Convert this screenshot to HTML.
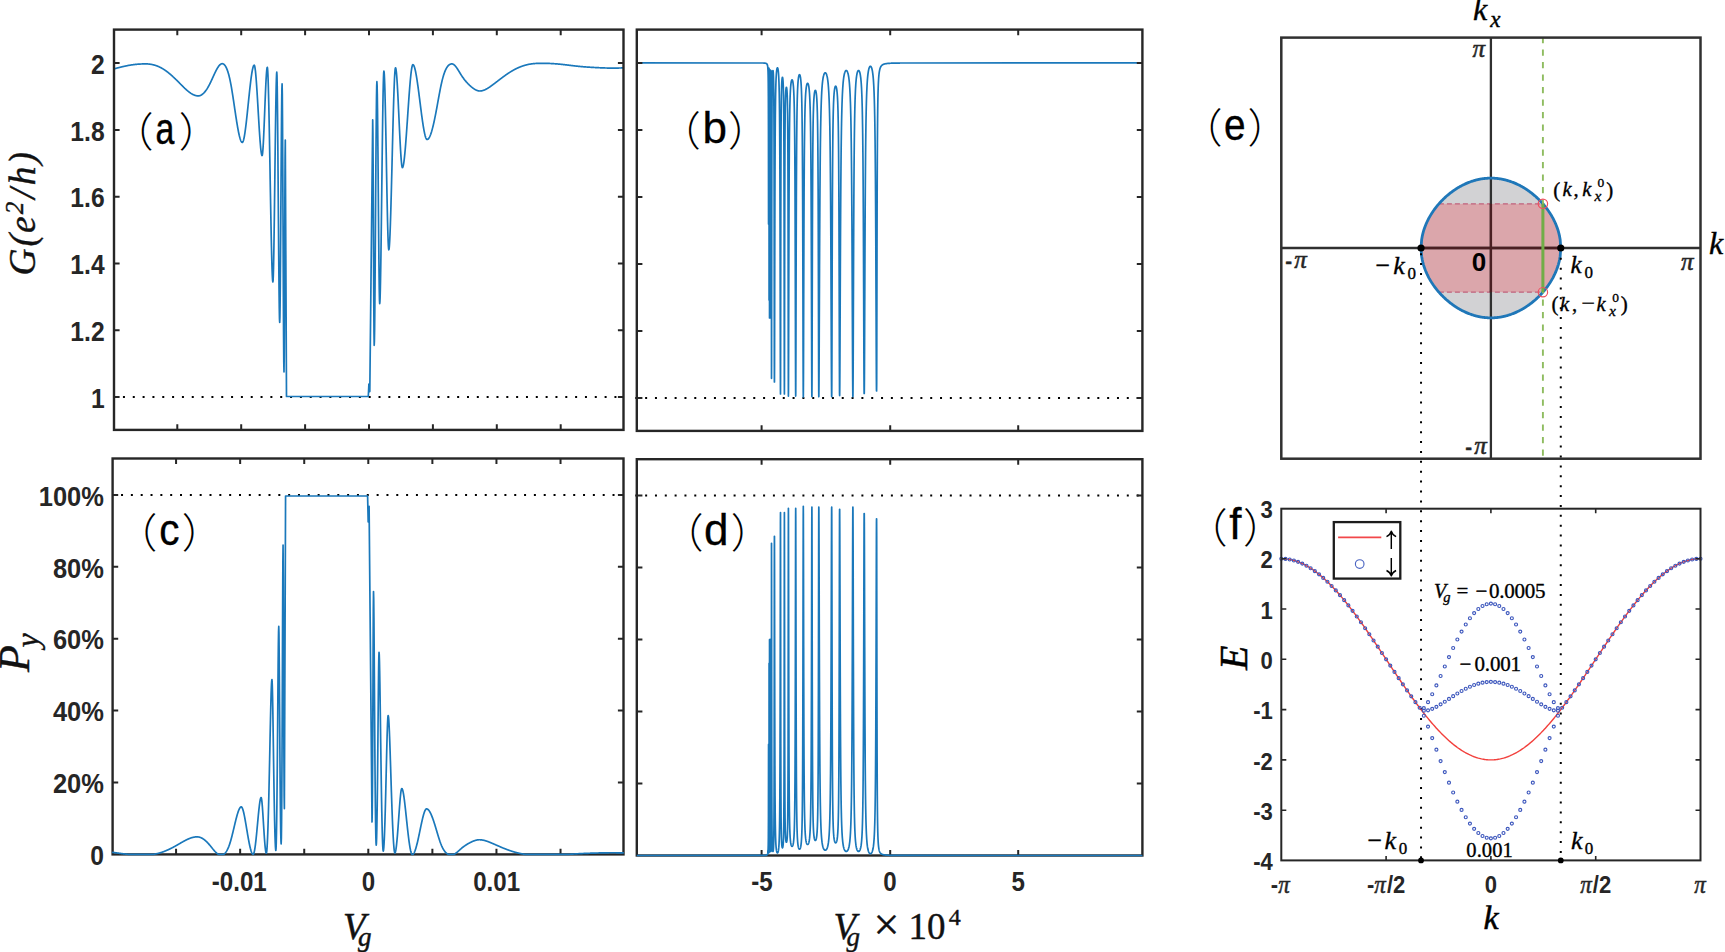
<!DOCTYPE html>
<html lang="en"><head><meta charset="utf-8"><title>Figure</title>
<style>html,body{margin:0;padding:0;background:#fff}svg{display:block}</style></head>
<body>
<svg width="1725" height="952" viewBox="0 0 1725 952">
<rect width="1725" height="952" fill="#fff"/>
<path d="M113.11,397H623.5" stroke="#000" stroke-width="2" stroke-dasharray="2 7.83" fill="none"/>
<path d="M113.5,69L113.7,68.95L113.9,68.89L114.1,68.84L114.31,68.79L114.51,68.73L114.71,68.68L114.91,68.63L115.11,68.58L115.31,68.52L115.51,68.47L115.71,68.42L115.91,68.36L116.12,68.31L116.32,68.26L116.52,68.21L116.72,68.15L116.92,68.1L117.12,68.05L117.32,68L117.53,67.94L117.73,67.89L117.93,67.84L118.13,67.79L118.33,67.74L118.53,67.69L118.73,67.63L118.93,67.58L119.13,67.53L119.34,67.48L119.54,67.43L119.74,67.38L119.94,67.33L120.14,67.28L120.34,67.23L120.54,67.18L120.75,67.13L120.95,67.08L121.15,67.03L121.35,66.98L121.55,66.93L121.75,66.89L121.95,66.84L122.15,66.79L122.35,66.74L122.56,66.69L122.76,66.65L122.96,66.6L123.16,66.55L123.36,66.51L123.56,66.46L123.76,66.41L123.97,66.37L124.17,66.32L124.37,66.28L124.57,66.23L124.77,66.19L124.97,66.14L125.17,66.1L125.37,66.06L125.57,66.01L125.78,65.97L125.98,65.93L126.18,65.89L126.38,65.85L126.58,65.8L126.78,65.76L126.98,65.72L127.19,65.68L127.39,65.64L127.59,65.6L127.79,65.56L127.99,65.53L128.19,65.49L128.39,65.45L128.59,65.41L128.79,65.38L129,65.34L129.2,65.3L129.4,65.27L129.6,65.23L129.8,65.2L130,65.16L130.2,65.13L130.41,65.1L130.61,65.06L130.81,65.03L131.01,65L131.21,64.97L131.41,64.94L131.61,64.91L131.81,64.88L132.01,64.85L132.22,64.82L132.42,64.79L132.62,64.76L132.82,64.73L133.02,64.71L133.22,64.68L133.42,64.65L133.62,64.63L133.83,64.6L134.03,64.58L134.23,64.56L134.43,64.53L134.63,64.51L134.83,64.49L135.03,64.46L135.23,64.44L135.44,64.42L135.64,64.4L135.84,64.38L136.04,64.36L136.24,64.34L136.44,64.32L136.64,64.3L136.84,64.28L137.05,64.27L137.25,64.25L137.45,64.23L137.65,64.21L137.85,64.2L138.05,64.18L138.25,64.17L138.45,64.15L138.66,64.14L138.86,64.13L139.06,64.11L139.26,64.1L139.46,64.09L139.66,64.07L139.86,64.06L140.06,64.05L140.27,64.04L140.47,64.03L140.67,64.02L140.87,64.01L141.07,64L141.27,63.99L141.47,63.98L141.67,63.98L141.88,63.97L142.08,63.96L142.28,63.95L142.48,63.95L142.68,63.94L142.88,63.94L143.08,63.93L143.28,63.93L143.49,63.92L143.69,63.92L143.89,63.92L144.09,63.91L144.29,63.91L144.49,63.91L144.69,63.9L144.89,63.9L145.1,63.9L145.3,63.9L145.5,63.9L145.7,63.9L145.9,63.9L146.1,63.9L146.3,63.91L146.5,63.91L146.7,63.91L146.9,63.92L147.1,63.93L147.3,63.94L147.5,63.95L147.7,63.96L147.9,63.97L148.1,63.99L148.3,64L148.51,64.02L148.71,64.04L148.91,64.06L149.11,64.08L149.31,64.1L149.51,64.12L149.71,64.14L149.91,64.17L150.11,64.2L150.31,64.23L150.51,64.25L150.71,64.29L150.91,64.32L151.11,64.35L151.31,64.39L151.51,64.42L151.71,64.46L151.91,64.5L152.11,64.54L152.31,64.58L152.51,64.62L152.71,64.67L152.91,64.71L153.11,64.76L153.31,64.81L153.51,64.86L153.72,64.91L153.92,64.96L154.12,65.01L154.32,65.07L154.52,65.13L154.72,65.18L154.92,65.24L155.12,65.31L155.32,65.37L155.52,65.43L155.72,65.5L155.92,65.56L156.12,65.63L156.32,65.7L156.52,65.77L156.72,65.85L156.92,65.92L157.12,66L157.32,66.07L157.52,66.15L157.72,66.23L157.92,66.31L158.12,66.4L158.32,66.48L158.52,66.57L158.72,66.65L158.93,66.74L159.13,66.84L159.33,66.93L159.53,67.02L159.73,67.12L159.93,67.21L160.13,67.31L160.33,67.41L160.53,67.51L160.73,67.62L160.93,67.72L161.13,67.83L161.33,67.94L161.53,68.05L161.73,68.16L161.93,68.27L162.13,68.39L162.33,68.5L162.53,68.62L162.73,68.74L162.93,68.86L163.13,68.98L163.33,69.11L163.53,69.23L163.73,69.36L163.93,69.49L164.14,69.62L164.34,69.75L164.54,69.88L164.74,70.02L164.94,70.15L165.14,70.29L165.34,70.43L165.54,70.57L165.74,70.71L165.94,70.86L166.14,71L166.34,71.15L166.54,71.3L166.74,71.45L166.94,71.6L167.14,71.75L167.34,71.9L167.54,72.05L167.74,72.21L167.94,72.37L168.14,72.52L168.34,72.68L168.54,72.84L168.74,73L168.94,73.17L169.14,73.33L169.35,73.5L169.55,73.66L169.75,73.83L169.95,74L170.15,74.17L170.35,74.34L170.55,74.51L170.75,74.68L170.95,74.85L171.15,75.03L171.35,75.2L171.55,75.38L171.75,75.56L171.95,75.74L172.15,75.92L172.35,76.1L172.55,76.28L172.75,76.46L172.95,76.64L173.15,76.83L173.35,77.01L173.55,77.2L173.75,77.38L173.95,77.57L174.15,77.76L174.35,77.95L174.55,78.14L174.76,78.33L174.96,78.52L175.16,78.71L175.36,78.9L175.56,79.1L175.76,79.29L175.96,79.48L176.16,79.68L176.36,79.87L176.56,80.07L176.76,80.27L176.96,80.46L177.16,80.66L177.36,80.86L177.56,81.06L177.76,81.26L177.96,81.46L178.16,81.66L178.36,81.86L178.56,82.06L178.76,82.27L178.96,82.47L179.16,82.67L179.36,82.87L179.56,83.08L179.76,83.28L179.97,83.48L180.17,83.69L180.37,83.89L180.57,84.09L180.77,84.3L180.97,84.5L181.17,84.7L181.37,84.91L181.57,85.11L181.77,85.31L181.97,85.51L182.17,85.71L182.37,85.91L182.57,86.11L182.77,86.31L182.97,86.51L183.17,86.71L183.37,86.91L183.57,87.11L183.77,87.3L183.97,87.5L184.17,87.69L184.37,87.88L184.57,88.08L184.77,88.27L184.97,88.46L185.18,88.64L185.38,88.83L185.58,89.02L185.78,89.2L185.98,89.38L186.18,89.57L186.38,89.75L186.58,89.93L186.78,90.1L186.98,90.28L187.18,90.45L187.38,90.62L187.58,90.79L187.78,90.96L187.98,91.13L188.18,91.29L188.38,91.45L188.58,91.61L188.78,91.77L188.98,91.93L189.18,92.08L189.38,92.23L189.58,92.38L189.78,92.53L189.98,92.67L190.18,92.82L190.39,92.96L190.59,93.09L190.79,93.23L190.99,93.36L191.19,93.49L191.39,93.61L191.59,93.74L191.79,93.86L191.99,93.98L192.19,94.09L192.39,94.2L192.59,94.31L192.79,94.42L192.99,94.52L193.19,94.62L193.39,94.71L193.59,94.81L193.79,94.89L193.99,94.98L194.19,95.06L194.39,95.14L194.59,95.22L194.79,95.29L194.99,95.36L195.19,95.42L195.39,95.48L195.6,95.54L195.8,95.59L196,95.64L196.2,95.68L196.4,95.72L196.6,95.76L196.8,95.79L197,95.82L197.2,95.84L197.4,95.86L197.6,95.88L197.8,95.89L198,95.9L198.2,95.9L198.4,95.9L198.6,95.88L198.8,95.87L199,95.84L199.2,95.8L199.4,95.76L199.6,95.71L199.8,95.66L200,95.59L200.2,95.52L200.4,95.44L200.6,95.35L200.8,95.26L201,95.16L201.2,95.05L201.4,94.93L201.6,94.81L201.8,94.68L202,94.54L202.2,94.4L202.4,94.24L202.6,94.08L202.8,93.92L203,93.74L203.2,93.56L203.4,93.38L203.6,93.18L203.8,92.98L204,92.78L204.2,92.56L204.4,92.34L204.6,92.11L204.8,91.88L205,91.63L205.2,91.39L205.4,91.13L205.6,90.87L205.8,90.6L206,90.33L206.2,90.04L206.4,89.76L206.6,89.46L206.8,89.16L207,88.86L207.2,88.54L207.4,88.22L207.6,87.9L207.8,87.56L208,87.22L208.2,86.88L208.4,86.53L208.6,86.17L208.8,85.81L209,85.44L209.2,85.06L209.4,84.68L209.6,84.29L209.8,83.9L210,83.5L210.2,83.1L210.4,82.69L210.6,82.27L210.8,81.85L211,81.43L211.2,81L211.4,80.57L211.6,80.14L211.8,79.7L212,79.27L212.2,78.83L212.4,78.39L212.6,77.95L212.8,77.51L213,77.07L213.2,76.63L213.4,76.19L213.6,75.75L213.8,75.31L214,74.88L214.2,74.44L214.4,74.01L214.6,73.59L214.8,73.16L215,72.75L215.2,72.33L215.4,71.92L215.6,71.52L215.8,71.12L216,70.73L216.2,70.34L216.4,69.96L216.6,69.59L216.8,69.22L217,68.87L217.2,68.52L217.4,68.18L217.6,67.85L217.8,67.53L218,67.22L218.2,66.92L218.4,66.63L218.6,66.35L218.8,66.08L219,65.83L219.2,65.58L219.4,65.35L219.6,65.14L219.8,64.93L220,64.75L220.2,64.57L220.4,64.41L220.6,64.27L220.8,64.14L221,64.02L221.2,63.93L221.4,63.85L221.6,63.78L221.8,63.74L222,63.71L222.2,63.7L222.4,63.71L222.6,63.73L222.8,63.78L223,63.84L223.2,63.92L223.41,64.01L223.61,64.13L223.81,64.26L224.01,64.42L224.21,64.59L224.41,64.79L224.61,65.01L224.81,65.24L225.01,65.5L225.22,65.78L225.42,66.09L225.62,66.41L225.82,66.76L226.02,67.13L226.22,67.53L226.42,67.95L226.62,68.4L226.82,68.87L227.02,69.36L227.22,69.89L227.43,70.43L227.63,71.01L227.83,71.61L228.03,72.24L228.23,72.89L228.43,73.58L228.63,74.29L228.83,75.03L229.03,75.81L229.23,76.61L229.44,77.44L229.64,78.3L229.84,79.19L230.04,80.11L230.24,81.07L230.44,82.06L230.64,83.08L230.84,84.13L231.04,85.21L231.25,86.33L231.45,87.47L231.65,88.64L231.85,89.84L232.05,91.06L232.25,92.3L232.45,93.57L232.65,94.85L232.85,96.14L233.05,97.45L233.25,98.78L233.46,100.11L233.66,101.46L233.86,102.81L234.06,104.17L234.26,105.53L234.46,106.89L234.66,108.26L234.86,109.62L235.06,110.98L235.27,112.33L235.47,113.68L235.67,115.02L235.87,116.34L236.07,117.66L236.27,118.96L236.47,120.24L236.67,121.51L236.87,122.75L237.07,123.98L237.28,125.18L237.48,126.36L237.68,127.51L237.88,128.63L238.08,129.72L238.28,130.78L238.48,131.8L238.68,132.79L238.88,133.74L239.08,134.65L239.28,135.53L239.49,136.35L239.69,137.13L239.89,137.87L240.09,138.56L240.29,139.19L240.49,139.78L240.69,140.31L240.89,140.79L241.09,141.2L241.3,141.56L241.5,141.86L241.7,142.09L241.9,142.26L242.1,142.37L242.3,142.4L242.5,142.33L242.7,142.14L242.91,141.82L243.11,141.38L243.31,140.83L243.51,140.17L243.71,139.4L243.91,138.53L244.12,137.56L244.32,136.5L244.52,135.35L244.72,134.12L244.92,132.81L245.12,131.42L245.33,129.97L245.53,128.45L245.73,126.87L245.93,125.23L246.13,123.54L246.33,121.8L246.54,120.02L246.74,118.2L246.94,116.35L247.14,114.47L247.34,112.56L247.54,110.64L247.75,108.7L247.95,106.74L248.15,104.78L248.35,102.82L248.55,100.86L248.75,98.9L248.96,96.96L249.16,95.04L249.36,93.13L249.56,91.25L249.76,89.4L249.96,87.58L250.17,85.8L250.37,84.06L250.57,82.37L250.77,80.73L250.97,79.15L251.17,77.63L251.38,76.18L251.58,74.79L251.78,73.48L251.98,72.25L252.18,71.1L252.38,70.04L252.59,69.07L252.79,68.2L252.99,67.43L253.19,66.77L253.39,66.22L253.59,65.78L253.8,65.46L254,65.27L254.2,65.2L254.4,65.38L254.61,65.89L254.81,66.72L255.01,67.85L255.21,69.27L255.42,70.95L255.62,72.88L255.82,75.04L256.02,77.41L256.23,79.97L256.43,82.7L256.63,85.59L256.83,88.61L257.04,91.75L257.24,95L257.44,98.32L257.64,101.71L257.85,105.15L258.05,108.61L258.25,112.09L258.45,115.55L258.66,118.99L258.86,122.38L259.06,125.7L259.26,128.95L259.47,132.09L259.67,135.11L259.87,138L260.07,140.73L260.28,143.29L260.48,145.66L260.68,147.82L260.88,149.75L261.09,151.43L261.29,152.85L261.49,153.98L261.69,154.81L261.9,155.32L262.1,155.5L262.31,155.09L262.52,153.9L262.72,151.99L262.93,149.45L263.14,146.33L263.35,142.7L263.56,138.63L263.76,134.19L263.97,129.44L264.18,124.45L264.39,119.3L264.6,114.04L264.8,108.76L265.01,103.5L265.22,98.35L265.43,93.36L265.64,88.61L265.84,84.17L266.05,80.1L266.26,76.47L266.47,73.35L266.68,70.81L266.88,68.9L267.09,67.71L267.3,67.3L267.51,68.16L267.71,70.66L267.92,74.66L268.13,80.04L268.34,86.66L268.54,94.4L268.75,103.11L268.96,112.68L269.17,122.96L269.37,133.84L269.58,145.17L269.79,156.83L270,168.69L270.2,180.61L270.41,192.47L270.62,204.13L270.83,215.46L271.03,226.34L271.24,236.62L271.45,246.19L271.66,254.9L271.86,262.64L272.07,269.26L272.28,274.64L272.49,278.64L272.69,281.14L272.9,282L273.11,280.32L273.31,275.52L273.52,267.96L273.72,258.02L273.93,246.06L274.13,232.45L274.34,217.55L274.54,201.74L274.75,185.37L274.95,168.83L275.16,152.46L275.36,136.65L275.57,121.75L275.77,108.14L275.98,96.18L276.18,86.24L276.39,78.68L276.59,73.88L276.8,72.2L277.01,75.85L277.21,86.07L277.42,101.75L277.63,121.82L277.84,145.17L278.04,170.71L278.25,197.35L278.46,223.99L278.66,249.53L278.87,272.88L279.08,292.95L279.29,308.63L279.49,318.85L279.7,322.5L279.9,317.81L280.1,304.83L280.3,285.22L280.5,260.64L280.7,232.75L280.9,203.2L281.1,173.65L281.3,145.76L281.5,121.18L281.7,101.57L281.9,88.59L282.1,83.9L282.31,93.78L282.52,120.26L282.73,158.59L282.94,204.04L283.16,251.86L283.37,297.31L283.58,335.64L283.79,362.12L284,372L284.22,354.81L284.43,311.85L284.65,256L284.87,200.15L285.08,157.19L285.3,140L286.5,396.5L368.3,396.5L368.9,384L369.8,391.6L372.7,119.9L372.91,132.39L373.13,164.59L373.34,208.61L373.56,256.59L373.77,300.61L373.99,332.81L374.2,345.3L374.41,340.86L374.62,328.5L374.82,309.67L375.03,285.79L375.24,258.31L375.45,228.68L375.65,198.32L375.86,168.69L376.07,141.21L376.28,117.33L376.48,98.5L376.69,86.14L376.9,81.7L377.1,84.94L377.3,94L377.5,107.91L377.7,125.71L377.9,146.42L378.1,169.08L378.3,192.7L378.5,216.32L378.7,238.98L378.9,259.69L379.1,277.49L379.3,291.4L379.5,300.46L379.7,303.7L379.91,302.01L380.12,297.19L380.33,289.57L380.54,279.51L380.75,267.36L380.96,253.46L381.17,238.16L381.38,221.82L381.59,204.79L381.8,187.4L382.01,170.01L382.22,152.98L382.43,136.64L382.64,121.34L382.85,107.44L383.06,95.29L383.27,85.23L383.48,77.61L383.69,72.79L383.9,71.1L384.1,72L384.31,74.62L384.51,78.78L384.72,84.34L384.92,91.14L385.12,99.02L385.33,107.84L385.53,117.43L385.74,127.64L385.94,138.32L386.15,149.31L386.35,160.45L386.55,171.59L386.76,182.58L386.96,193.26L387.17,203.47L387.37,213.06L387.57,221.88L387.78,229.76L387.98,236.56L388.19,242.12L388.39,246.28L388.6,248.9L388.8,249.8L389,249.31L389.21,247.88L389.41,245.56L389.61,242.43L389.82,238.53L390.02,233.94L390.22,228.71L390.42,222.9L390.63,216.57L390.83,209.79L391.03,202.61L391.24,195.1L391.44,187.32L391.64,179.32L391.85,171.17L392.05,162.94L392.25,154.66L392.45,146.43L392.66,138.28L392.86,130.28L393.06,122.5L393.27,114.99L393.47,107.81L393.67,101.03L393.88,94.7L394.08,88.89L394.28,83.66L394.48,79.07L394.69,75.17L394.89,72.04L395.09,69.72L395.3,68.29L395.5,67.8L395.7,68.05L395.91,68.8L396.11,69.99L396.31,71.62L396.51,73.64L396.72,76.03L396.92,78.75L397.12,81.78L397.33,85.08L397.53,88.62L397.73,92.38L397.94,96.32L398.14,100.41L398.34,104.63L398.54,108.93L398.75,113.3L398.95,117.7L399.15,122.1L399.36,126.47L399.56,130.77L399.76,134.99L399.96,139.08L400.17,143.02L400.37,146.78L400.57,150.32L400.78,153.62L400.98,156.65L401.18,159.37L401.39,161.76L401.59,163.78L401.79,165.41L401.99,166.6L402.2,167.35L402.4,167.6L402.6,167.49L402.8,167.16L403.01,166.61L403.21,165.87L403.41,164.93L403.61,163.81L403.81,162.51L404.02,161.04L404.22,159.42L404.42,157.65L404.62,155.73L404.82,153.69L405.02,151.52L405.23,149.24L405.43,146.85L405.63,144.37L405.83,141.8L406.03,139.15L406.24,136.43L406.44,133.64L406.64,130.81L406.84,127.93L407.04,125.02L407.25,122.07L407.45,119.12L407.65,116.15L407.85,113.18L408.05,110.23L408.26,107.28L408.46,104.37L408.66,101.49L408.86,98.66L409.06,95.87L409.27,93.15L409.47,90.5L409.67,87.93L409.87,85.45L410.07,83.06L410.27,80.78L410.48,78.61L410.68,76.57L410.88,74.65L411.08,72.88L411.28,71.26L411.49,69.79L411.69,68.49L411.89,67.37L412.09,66.43L412.29,65.69L412.5,65.14L412.7,64.81L412.9,64.7L413.1,64.74L413.3,64.87L413.5,65.09L413.7,65.39L413.9,65.76L414.1,66.21L414.3,66.74L414.5,67.33L414.7,68L414.9,68.73L415.1,69.53L415.3,70.39L415.5,71.3L415.7,72.28L415.9,73.31L416.1,74.38L416.3,75.51L416.5,76.69L416.7,77.9L416.9,79.16L417.1,80.46L417.3,81.79L417.5,83.16L417.7,84.56L417.9,85.99L418.1,87.45L418.3,88.92L418.5,90.42L418.7,91.94L418.9,93.48L419.1,95.03L419.3,96.59L419.5,98.16L419.7,99.73L419.9,101.31L420.1,102.89L420.3,104.47L420.5,106.04L420.7,107.61L420.9,109.17L421.1,110.72L421.3,112.26L421.5,113.78L421.7,115.28L421.9,116.75L422.1,118.21L422.3,119.64L422.5,121.04L422.7,122.41L422.9,123.74L423.1,125.04L423.3,126.3L423.5,127.51L423.7,128.69L423.9,129.82L424.1,130.89L424.3,131.92L424.5,132.9L424.7,133.81L424.9,134.67L425.1,135.47L425.3,136.2L425.5,136.87L425.7,137.46L425.9,137.99L426.1,138.44L426.3,138.81L426.5,139.11L426.7,139.33L426.9,139.46L427.1,139.5L427.3,139.48L427.5,139.43L427.7,139.34L427.91,139.22L428.11,139.06L428.31,138.87L428.51,138.65L428.71,138.39L428.91,138.11L429.12,137.79L429.32,137.44L429.52,137.06L429.72,136.65L429.92,136.21L430.12,135.75L430.33,135.25L430.53,134.73L430.73,134.19L430.93,133.61L431.13,133.01L431.33,132.39L431.54,131.74L431.74,131.06L431.94,130.36L432.14,129.64L432.34,128.9L432.54,128.14L432.75,127.35L432.95,126.54L433.15,125.72L433.35,124.87L433.55,124L433.75,123.12L433.96,122.21L434.16,121.29L434.36,120.35L434.56,119.4L434.76,118.43L434.96,117.44L435.17,116.44L435.37,115.43L435.57,114.4L435.77,113.36L435.97,112.3L436.17,111.24L436.37,110.16L436.58,109.07L436.78,107.98L436.98,106.88L437.18,105.78L437.38,104.67L437.58,103.56L437.79,102.44L437.99,101.33L438.19,100.22L438.39,99.11L438.59,98L438.79,96.9L439,95.81L439.2,94.72L439.4,93.64L439.6,92.57L439.8,91.52L440,90.47L440.21,89.44L440.41,88.43L440.61,87.43L440.81,86.44L441.01,85.48L441.21,84.54L441.42,83.62L441.62,82.72L441.82,81.85L442.02,81L442.22,80.17L442.42,79.37L442.63,78.6L442.83,77.85L443.03,77.13L443.23,76.43L443.43,75.75L443.63,75.09L443.83,74.46L444.04,73.85L444.24,73.27L444.44,72.7L444.64,72.16L444.84,71.63L445.04,71.13L445.25,70.65L445.45,70.19L445.65,69.74L445.85,69.32L446.05,68.92L446.25,68.53L446.46,68.17L446.66,67.82L446.86,67.48L447.06,67.17L447.26,66.87L447.46,66.59L447.67,66.33L447.87,66.08L448.07,65.85L448.27,65.63L448.47,65.42L448.67,65.24L448.88,65.06L449.08,64.9L449.28,64.75L449.48,64.62L449.68,64.5L449.88,64.39L450.09,64.29L450.29,64.2L450.49,64.13L450.69,64.07L450.89,64.01L451.09,63.97L451.3,63.94L451.5,63.92L451.7,63.9L451.9,63.9L452.1,63.91L452.3,63.93L452.5,63.98L452.7,64.03L452.9,64.11L453.1,64.19L453.3,64.3L453.5,64.41L453.7,64.54L453.9,64.69L454.1,64.84L454.3,65.01L454.5,65.19L454.7,65.38L454.9,65.58L455.1,65.8L455.3,66.02L455.5,66.25L455.7,66.49L455.9,66.74L456.1,67L456.3,67.27L456.5,67.54L456.7,67.82L456.9,68.11L457.1,68.4L457.3,68.7L457.5,69L457.7,69.31L457.9,69.62L458.1,69.94L458.3,70.26L458.5,70.58L458.7,70.91L458.9,71.23L459.1,71.56L459.3,71.89L459.5,72.22L459.7,72.55L459.9,72.88L460.1,73.21L460.3,73.54L460.5,73.86L460.7,74.19L460.9,74.51L461.1,74.83L461.3,75.14L461.5,75.46L461.7,75.76L461.9,76.07L462.1,76.37L462.3,76.66L462.5,76.95L462.7,77.24L462.9,77.53L463.1,77.81L463.3,78.08L463.5,78.36L463.7,78.63L463.9,78.9L464.1,79.16L464.3,79.42L464.5,79.67L464.7,79.93L464.9,80.18L465.1,80.43L465.3,80.67L465.5,80.91L465.7,81.15L465.9,81.38L466.1,81.62L466.3,81.85L466.5,82.07L466.7,82.3L466.9,82.52L467.1,82.74L467.3,82.95L467.5,83.17L467.7,83.38L467.9,83.59L468.1,83.79L468.3,84L468.5,84.2L468.7,84.4L468.9,84.6L469.1,84.79L469.3,84.99L469.5,85.18L469.7,85.37L469.9,85.55L470.1,85.74L470.3,85.92L470.5,86.1L470.7,86.28L470.9,86.45L471.1,86.63L471.3,86.8L471.5,86.96L471.7,87.13L471.9,87.29L472.1,87.45L472.3,87.61L472.5,87.76L472.7,87.92L472.9,88.07L473.1,88.21L473.3,88.36L473.5,88.5L473.7,88.63L473.9,88.77L474.1,88.9L474.3,89.03L474.5,89.16L474.7,89.28L474.9,89.4L475.1,89.52L475.3,89.63L475.5,89.74L475.7,89.85L475.9,89.95L476.1,90.05L476.3,90.15L476.5,90.24L476.7,90.32L476.9,90.41L477.1,90.48L477.3,90.56L477.5,90.62L477.7,90.69L477.9,90.74L478.1,90.8L478.3,90.84L478.5,90.88L478.7,90.92L478.9,90.95L479.1,90.97L479.3,90.99L479.5,91L479.7,91L479.9,91L480.1,90.99L480.3,90.98L480.5,90.97L480.7,90.95L480.9,90.93L481.1,90.9L481.3,90.87L481.5,90.84L481.7,90.8L481.9,90.76L482.1,90.72L482.3,90.67L482.5,90.62L482.7,90.56L482.9,90.51L483.1,90.44L483.3,90.38L483.5,90.31L483.7,90.24L483.9,90.17L484.1,90.09L484.3,90.01L484.5,89.93L484.7,89.85L484.9,89.76L485.1,89.67L485.3,89.58L485.5,89.48L485.7,89.38L485.9,89.28L486.1,89.18L486.3,89.07L486.5,88.97L486.7,88.86L486.9,88.74L487.1,88.63L487.3,88.52L487.5,88.4L487.7,88.28L487.9,88.16L488.1,88.03L488.3,87.91L488.5,87.78L488.7,87.65L488.9,87.52L489.1,87.39L489.3,87.26L489.5,87.12L489.7,86.99L489.9,86.85L490.1,86.71L490.3,86.57L490.5,86.43L490.7,86.29L490.9,86.15L491.1,86L491.3,85.86L491.5,85.71L491.7,85.57L491.9,85.42L492.1,85.27L492.3,85.12L492.5,84.97L492.7,84.82L492.9,84.67L493.1,84.52L493.3,84.37L493.5,84.22L493.7,84.07L493.9,83.92L494.1,83.77L494.3,83.62L494.5,83.47L494.7,83.31L494.9,83.16L495.1,83.01L495.3,82.86L495.5,82.7L495.7,82.55L495.9,82.4L496.1,82.24L496.3,82.09L496.5,81.94L496.7,81.78L496.9,81.63L497.1,81.48L497.3,81.32L497.5,81.17L497.7,81.01L497.9,80.86L498.1,80.71L498.3,80.55L498.5,80.4L498.7,80.25L498.9,80.09L499.1,79.94L499.3,79.79L499.5,79.63L499.7,79.48L499.9,79.33L500.1,79.18L500.3,79.02L500.5,78.87L500.7,78.72L500.9,78.57L501.1,78.42L501.3,78.27L501.5,78.11L501.7,77.96L501.9,77.81L502.1,77.66L502.3,77.52L502.5,77.37L502.7,77.22L502.9,77.07L503.1,76.92L503.3,76.77L503.5,76.63L503.7,76.48L503.9,76.34L504.1,76.19L504.3,76.05L504.5,75.9L504.7,75.76L504.9,75.61L505.1,75.47L505.3,75.33L505.5,75.19L505.7,75.05L505.9,74.91L506.1,74.77L506.3,74.63L506.5,74.49L506.7,74.35L506.9,74.21L507.1,74.08L507.3,73.94L507.5,73.81L507.7,73.67L507.9,73.54L508.1,73.41L508.3,73.27L508.5,73.14L508.7,73.01L508.9,72.88L509.1,72.75L509.3,72.62L509.5,72.5L509.7,72.37L509.9,72.24L510.1,72.12L510.3,71.99L510.5,71.87L510.7,71.74L510.9,71.62L511.1,71.5L511.3,71.38L511.5,71.26L511.7,71.14L511.9,71.02L512.1,70.9L512.3,70.78L512.5,70.67L512.7,70.55L512.9,70.44L513.1,70.33L513.3,70.21L513.5,70.1L513.7,69.99L513.9,69.88L514.1,69.77L514.3,69.66L514.5,69.55L514.7,69.45L514.9,69.34L515.1,69.24L515.3,69.13L515.5,69.03L515.7,68.93L515.9,68.83L516.1,68.73L516.3,68.63L516.5,68.53L516.7,68.43L516.9,68.34L517.1,68.24L517.3,68.15L517.5,68.05L517.7,67.96L517.9,67.87L518.1,67.78L518.3,67.69L518.5,67.6L518.7,67.51L518.9,67.43L519.1,67.34L519.3,67.26L519.5,67.18L519.7,67.09L519.9,67.01L520.1,66.93L520.3,66.85L520.5,66.77L520.7,66.7L520.9,66.62L521.1,66.54L521.3,66.47L521.5,66.4L521.7,66.32L521.9,66.25L522.1,66.18L522.3,66.11L522.5,66.04L522.7,65.97L522.9,65.91L523.1,65.84L523.3,65.78L523.5,65.71L523.7,65.65L523.9,65.59L524.1,65.52L524.3,65.46L524.5,65.4L524.7,65.35L524.9,65.29L525.1,65.23L525.3,65.18L525.5,65.12L525.7,65.07L525.9,65.01L526.1,64.96L526.3,64.91L526.5,64.86L526.7,64.81L526.9,64.76L527.1,64.72L527.3,64.67L527.5,64.62L527.7,64.58L527.9,64.54L528.1,64.49L528.3,64.45L528.5,64.41L528.7,64.37L528.9,64.33L529.1,64.29L529.3,64.25L529.5,64.22L529.7,64.18L529.9,64.15L530.1,64.11L530.3,64.08L530.5,64.05L530.7,64.02L530.9,63.99L531.1,63.96L531.3,63.93L531.5,63.9L531.7,63.87L531.9,63.85L532.1,63.82L532.3,63.79L532.5,63.77L532.7,63.75L532.9,63.72L533.1,63.7L533.3,63.68L533.5,63.66L533.7,63.64L533.9,63.62L534.1,63.6L534.3,63.58L534.5,63.57L534.7,63.55L534.9,63.53L535.1,63.52L535.3,63.5L535.5,63.49L535.7,63.48L535.9,63.46L536.1,63.45L536.3,63.44L536.5,63.43L536.7,63.42L536.9,63.41L537.1,63.4L537.3,63.39L537.5,63.38L537.7,63.37L537.9,63.36L538.1,63.36L538.3,63.35L538.5,63.34L538.7,63.34L538.9,63.33L539.1,63.33L539.3,63.32L539.5,63.32L539.7,63.32L539.9,63.31L540.1,63.31L540.3,63.31L540.5,63.31L540.7,63.3L540.9,63.3L541.1,63.3L541.3,63.3L541.5,63.3L541.7,63.3L541.9,63.3L542.1,63.3L542.3,63.3L542.5,63.3L542.7,63.3L542.9,63.3L543.1,63.31L543.3,63.31L543.5,63.31L543.7,63.31L543.9,63.31L544.1,63.32L544.3,63.32L544.5,63.32L544.7,63.32L544.9,63.33L545.1,63.33L545.31,63.34L545.51,63.34L545.71,63.34L545.91,63.35L546.11,63.35L546.31,63.36L546.51,63.36L546.71,63.37L546.91,63.37L547.11,63.38L547.31,63.39L547.51,63.39L547.71,63.4L547.91,63.41L548.11,63.41L548.31,63.42L548.51,63.43L548.71,63.43L548.91,63.44L549.11,63.45L549.31,63.46L549.51,63.47L549.71,63.47L549.91,63.48L550.11,63.49L550.31,63.5L550.51,63.51L550.71,63.52L550.91,63.53L551.11,63.54L551.31,63.55L551.51,63.56L551.71,63.57L551.91,63.58L552.11,63.59L552.32,63.61L552.52,63.62L552.72,63.63L552.92,63.64L553.12,63.65L553.32,63.67L553.52,63.68L553.72,63.69L553.92,63.7L554.12,63.72L554.32,63.73L554.52,63.74L554.72,63.76L554.92,63.77L555.12,63.79L555.32,63.8L555.52,63.82L555.72,63.83L555.92,63.85L556.12,63.86L556.32,63.88L556.52,63.89L556.72,63.91L556.92,63.92L557.12,63.94L557.32,63.96L557.52,63.97L557.72,63.99L557.92,64.01L558.12,64.03L558.32,64.04L558.52,64.06L558.72,64.08L558.92,64.1L559.12,64.12L559.32,64.14L559.53,64.15L559.73,64.17L559.93,64.19L560.13,64.21L560.33,64.23L560.53,64.25L560.73,64.27L560.93,64.29L561.13,64.31L561.33,64.33L561.53,64.35L561.73,64.38L561.93,64.4L562.13,64.42L562.33,64.44L562.53,64.46L562.73,64.48L562.93,64.51L563.13,64.53L563.33,64.55L563.53,64.57L563.73,64.59L563.93,64.62L564.13,64.64L564.33,64.66L564.53,64.69L564.73,64.71L564.93,64.73L565.13,64.76L565.33,64.78L565.53,64.8L565.73,64.83L565.93,64.85L566.13,64.87L566.33,64.9L566.54,64.92L566.74,64.95L566.94,64.97L567.14,64.99L567.34,65.02L567.54,65.04L567.74,65.07L567.94,65.09L568.14,65.11L568.34,65.14L568.54,65.16L568.74,65.19L568.94,65.21L569.14,65.24L569.34,65.26L569.54,65.29L569.74,65.31L569.94,65.33L570.14,65.36L570.34,65.38L570.54,65.41L570.74,65.43L570.94,65.46L571.14,65.48L571.34,65.51L571.54,65.53L571.74,65.55L571.94,65.58L572.14,65.6L572.34,65.63L572.54,65.65L572.74,65.68L572.94,65.7L573.14,65.72L573.34,65.75L573.55,65.77L573.75,65.79L573.95,65.82L574.15,65.84L574.35,65.86L574.55,65.89L574.75,65.91L574.95,65.93L575.15,65.96L575.35,65.98L575.55,66L575.75,66.03L575.95,66.05L576.15,66.07L576.35,66.09L576.55,66.11L576.75,66.14L576.95,66.16L577.15,66.18L577.35,66.2L577.55,66.22L577.75,66.24L577.95,66.26L578.15,66.28L578.35,66.31L578.55,66.33L578.75,66.35L578.95,66.37L579.15,66.39L579.35,66.41L579.55,66.42L579.75,66.44L579.95,66.46L580.15,66.48L580.35,66.5L580.55,66.52L580.76,66.54L580.96,66.56L581.16,66.57L581.36,66.59L581.56,66.61L581.76,66.63L581.96,66.65L582.16,66.66L582.36,66.68L582.56,66.7L582.76,66.71L582.96,66.73L583.16,66.75L583.36,66.76L583.56,66.78L583.76,66.8L583.96,66.81L584.16,66.83L584.36,66.84L584.56,66.86L584.76,66.87L584.96,66.89L585.16,66.91L585.36,66.92L585.56,66.94L585.76,66.95L585.96,66.96L586.16,66.98L586.36,66.99L586.56,67.01L586.76,67.02L586.96,67.04L587.16,67.05L587.36,67.06L587.56,67.08L587.77,67.09L587.97,67.1L588.17,67.12L588.37,67.13L588.57,67.14L588.77,67.16L588.97,67.17L589.17,67.18L589.37,67.2L589.57,67.21L589.77,67.22L589.97,67.23L590.17,67.25L590.37,67.26L590.57,67.27L590.77,67.28L590.97,67.3L591.17,67.31L591.37,67.32L591.57,67.33L591.77,67.34L591.97,67.35L592.17,67.37L592.37,67.38L592.57,67.39L592.77,67.4L592.97,67.41L593.17,67.42L593.37,67.43L593.57,67.44L593.77,67.46L593.97,67.47L594.17,67.48L594.37,67.49L594.57,67.5L594.78,67.51L594.98,67.52L595.18,67.53L595.38,67.54L595.58,67.55L595.78,67.56L595.98,67.57L596.18,67.58L596.38,67.59L596.58,67.6L596.78,67.61L596.98,67.62L597.18,67.63L597.38,67.64L597.58,67.65L597.78,67.66L597.98,67.67L598.18,67.68L598.38,67.69L598.58,67.7L598.78,67.71L598.98,67.72L599.18,67.73L599.38,67.74L599.58,67.75L599.78,67.76L599.98,67.77L600.18,67.78L600.38,67.79L600.58,67.8L600.78,67.81L600.98,67.82L601.18,67.82L601.38,67.83L601.58,67.84L601.78,67.85L601.99,67.86L602.19,67.87L602.39,67.87L602.59,67.88L602.79,67.89L602.99,67.9L603.19,67.91L603.39,67.91L603.59,67.92L603.79,67.93L603.99,67.94L604.19,67.94L604.39,67.95L604.59,67.96L604.79,67.96L604.99,67.97L605.19,67.98L605.39,67.98L605.59,67.99L605.79,67.99L605.99,68L606.19,68.01L606.39,68.01L606.59,68.02L606.79,68.02L606.99,68.03L607.19,68.03L607.39,68.04L607.59,68.04L607.79,68.05L607.99,68.05L608.19,68.06L608.39,68.06L608.59,68.06L608.79,68.07L609,68.07L609.2,68.07L609.4,68.08L609.6,68.08L609.8,68.08L610,68.08L610.2,68.09L610.4,68.09L610.6,68.09L610.8,68.09L611,68.09L611.2,68.1L611.4,68.1L611.6,68.1L611.8,68.1L612,68.1L612.2,68.1L612.4,68.1L612.6,68.1L612.81,68.1L613.01,68.1L613.21,68.1L613.42,68.1L613.62,68.1L613.82,68.1L614.03,68.09L614.23,68.09L614.44,68.09L614.64,68.09L614.84,68.09L615.05,68.09L615.25,68.08L615.45,68.08L615.66,68.08L615.86,68.08L616.06,68.07L616.27,68.07L616.47,68.07L616.67,68.06L616.88,68.06L617.08,68.06L617.29,68.05L617.49,68.05L617.69,68.05L617.9,68.04L618.1,68.04L618.3,68.03L618.51,68.03L618.71,68.03L618.91,68.02L619.12,68.02L619.32,68.01L619.52,68.01L619.73,68L619.93,68L620.14,67.99L620.34,67.99L620.54,67.98L620.75,67.98L620.95,67.97L621.15,67.97L621.36,67.96L621.56,67.96L621.76,67.95L621.97,67.95L622.17,67.94L622.38,67.94L622.58,67.93L622.78,67.93L622.99,67.92L623.19,67.92L623.39,67.91L623.6,67.91L623.8,67.9" stroke="#1a78bb" stroke-width="1.7" fill="none" stroke-linejoin="round"/>
<rect x="114" y="29.6" width="509.5" height="400.3" fill="none" stroke="#262626" stroke-width="2.4"/>
<path d="M177.3,29.6v5.6M177.3,429.9v-5.6M241.2,29.6v5.6M241.2,429.9v-5.6M305.1,29.6v5.6M305.1,429.9v-5.6M369,29.6v5.6M369,429.9v-5.6M432.9,29.6v5.6M432.9,429.9v-5.6M496.8,29.6v5.6M496.8,429.9v-5.6M560.7,29.6v5.6M560.7,429.9v-5.6M114,63.1h5.6M623.5,63.1h-5.6M114,129.88h5.6M623.5,129.88h-5.6M114,196.66h5.6M623.5,196.66h-5.6M114,263.44h5.6M623.5,263.44h-5.6M114,330.22h5.6M623.5,330.22h-5.6M114,397h5.6M623.5,397h-5.6" stroke="#262626" stroke-width="2" fill="none"/>
<text transform="translate(104.6,73.8) scale(0.88,1)" font-family="'Liberation Sans', sans-serif" font-size="28" font-weight="bold" font-style="normal" text-anchor="end" fill="#262626">2</text>
<text transform="translate(104.6,140.58) scale(0.88,1)" font-family="'Liberation Sans', sans-serif" font-size="28" font-weight="bold" font-style="normal" text-anchor="end" fill="#262626">1.8</text>
<text transform="translate(104.6,207.36) scale(0.88,1)" font-family="'Liberation Sans', sans-serif" font-size="28" font-weight="bold" font-style="normal" text-anchor="end" fill="#262626">1.6</text>
<text transform="translate(104.6,274.14) scale(0.88,1)" font-family="'Liberation Sans', sans-serif" font-size="28" font-weight="bold" font-style="normal" text-anchor="end" fill="#262626">1.4</text>
<text transform="translate(104.6,340.92) scale(0.88,1)" font-family="'Liberation Sans', sans-serif" font-size="28" font-weight="bold" font-style="normal" text-anchor="end" fill="#262626">1.2</text>
<text transform="translate(104.6,407.7) scale(0.88,1)" font-family="'Liberation Sans', sans-serif" font-size="28" font-weight="bold" font-style="normal" text-anchor="end" fill="#262626">1</text>
<path d="M121.03,494.9H623.5" stroke="#000" stroke-width="2" stroke-dasharray="2 7.83" fill="none"/>
<rect x="112.6" y="458.5" width="510.9" height="395.9" fill="none" stroke="#262626" stroke-width="2.4"/>
<path d="M176.07,458.5v5.6M176.07,854.4v-5.6M240.15,458.5v5.6M240.15,854.4v-5.6M304.23,458.5v5.6M304.23,854.4v-5.6M368.3,458.5v5.6M368.3,854.4v-5.6M432.38,458.5v5.6M432.38,854.4v-5.6M496.45,458.5v5.6M496.45,854.4v-5.6M560.53,458.5v5.6M560.53,854.4v-5.6M112.6,782.5h5.6M623.5,782.5h-5.6M112.6,710.6h5.6M623.5,710.6h-5.6M112.6,638.7h5.6M623.5,638.7h-5.6M112.6,566.8h5.6M623.5,566.8h-5.6M112.6,494.9h5.6M623.5,494.9h-5.6" stroke="#262626" stroke-width="2" fill="none"/>
<path d="M112.1,852.26L112.3,852.29L112.5,852.32L112.7,852.35L112.91,852.38L113.11,852.41L113.31,852.44L113.51,852.47L113.71,852.5L113.91,852.53L114.12,852.56L114.32,852.58L114.52,852.61L114.72,852.64L114.92,852.67L115.13,852.7L115.33,852.73L115.53,852.76L115.73,852.79L115.93,852.82L116.13,852.84L116.34,852.87L116.54,852.9L116.74,852.93L116.94,852.96L117.14,852.99L117.35,853.01L117.55,853.04L117.75,853.07L117.95,853.1L118.15,853.13L118.35,853.15L118.56,853.18L118.76,853.21L118.96,853.24L119.16,853.26L119.36,853.29L119.57,853.32L119.77,853.34L119.97,853.37L120.17,853.4L120.37,853.42L120.57,853.45L120.78,853.48L120.98,853.5L121.18,853.53L121.38,853.55L121.58,853.58L121.79,853.6L121.99,853.63L122.19,853.66L122.39,853.68L122.59,853.71L122.79,853.73L123,853.75L123.2,853.78L123.4,853.8L123.6,853.83L123.8,853.85L124.01,853.87L124.21,853.9L124.41,853.92L124.61,853.94L124.81,853.97L125.01,853.99L125.22,854.01L125.42,854.03L125.62,854.06L125.82,854.08L126.02,854.1L126.22,854.12L126.43,854.14L126.63,854.16L126.83,854.18L127.03,854.21L127.23,854.23L127.44,854.25L127.64,854.27L127.84,854.29L128.04,854.3L128.24,854.32L128.44,854.34L128.65,854.36L128.85,854.38L129.05,854.4L129.25,854.4L129.45,854.4L129.66,854.4L129.86,854.4L130.06,854.4L130.26,854.4L130.46,854.4L130.66,854.4L130.87,854.4L131.07,854.4L131.27,854.4L131.47,854.4L131.67,854.4L131.88,854.4L132.08,854.4L132.28,854.4L132.48,854.4L132.68,854.4L132.88,854.4L133.09,854.4L133.29,854.4L133.49,854.4L133.69,854.4L133.89,854.4L134.1,854.4L134.3,854.4L134.5,854.4L134.7,854.4L134.9,854.4L135.1,854.4L135.31,854.4L135.51,854.4L135.71,854.4L135.91,854.4L136.11,854.4L136.31,854.4L136.52,854.4L136.72,854.4L136.92,854.4L137.12,854.4L137.32,854.4L137.53,854.4L137.73,854.4L137.93,854.4L138.13,854.4L138.33,854.4L138.53,854.4L138.74,854.4L138.94,854.4L139.14,854.4L139.34,854.4L139.54,854.4L139.75,854.4L139.95,854.4L140.15,854.4L140.35,854.4L140.55,854.4L140.75,854.4L140.96,854.4L141.16,854.4L141.36,854.4L141.56,854.4L141.76,854.4L141.97,854.4L142.17,854.4L142.37,854.4L142.57,854.4L142.77,854.4L142.97,854.4L143.18,854.4L143.38,854.4L143.58,854.4L143.78,854.4L143.98,854.4L144.19,854.4L144.39,854.4L144.59,854.4L144.79,854.4L144.99,854.4L145.19,854.4L145.39,854.4L145.59,854.4L145.79,854.4L145.99,854.4L146.2,854.4L146.4,854.4L146.6,854.4L146.8,854.4L147,854.4L147.2,854.4L147.4,854.4L147.6,854.4L147.8,854.4L148,854.4L148.2,854.4L148.41,854.4L148.61,854.4L148.81,854.4L149.01,854.4L149.21,854.4L149.41,854.4L149.61,854.4L149.81,854.4L150.01,854.4L150.21,854.4L150.42,854.4L150.62,854.4L150.82,854.4L151.02,854.4L151.22,854.4L151.42,854.4L151.62,854.4L151.82,854.4L152.02,854.4L152.22,854.4L152.42,854.4L152.63,854.4L152.83,854.4L153.03,854.4L153.23,854.38L153.43,854.35L153.63,854.32L153.83,854.28L154.03,854.25L154.23,854.22L154.43,854.18L154.63,854.14L154.84,854.11L155.04,854.07L155.24,854.03L155.44,853.99L155.64,853.95L155.84,853.91L156.04,853.87L156.24,853.82L156.44,853.78L156.64,853.74L156.84,853.69L157.05,853.64L157.25,853.6L157.45,853.55L157.65,853.5L157.85,853.45L158.05,853.4L158.25,853.35L158.45,853.3L158.65,853.24L158.85,853.19L159.06,853.13L159.26,853.08L159.46,853.02L159.66,852.97L159.86,852.91L160.06,852.85L160.26,852.79L160.46,852.73L160.66,852.66L160.86,852.6L161.06,852.54L161.27,852.47L161.47,852.41L161.67,852.34L161.87,852.27L162.07,852.21L162.27,852.14L162.47,852.07L162.67,852L162.87,851.92L163.07,851.85L163.27,851.78L163.48,851.7L163.68,851.63L163.88,851.55L164.08,851.48L164.28,851.4L164.48,851.32L164.68,851.24L164.88,851.16L165.08,851.08L165.28,851L165.48,850.92L165.69,850.83L165.89,850.75L166.09,850.66L166.29,850.58L166.49,850.49L166.69,850.4L166.89,850.32L167.09,850.23L167.29,850.14L167.49,850.05L167.7,849.96L167.9,849.87L168.1,849.78L168.3,849.68L168.5,849.59L168.7,849.5L168.9,849.4L169.1,849.31L169.3,849.21L169.5,849.11L169.7,849.02L169.91,848.92L170.11,848.82L170.31,848.72L170.51,848.62L170.71,848.52L170.91,848.42L171.11,848.32L171.31,848.22L171.51,848.12L171.71,848.01L171.91,847.91L172.12,847.81L172.32,847.7L172.52,847.6L172.72,847.49L172.92,847.39L173.12,847.28L173.32,847.17L173.52,847.06L173.72,846.96L173.92,846.85L174.13,846.74L174.33,846.63L174.53,846.52L174.73,846.41L174.93,846.3L175.13,846.19L175.33,846.08L175.53,845.96L175.73,845.85L175.93,845.74L176.13,845.63L176.34,845.51L176.54,845.4L176.74,845.28L176.94,845.17L177.14,845.05L177.34,844.94L177.54,844.82L177.74,844.71L177.94,844.59L178.14,844.48L178.34,844.36L178.55,844.24L178.75,844.13L178.95,844.01L179.15,843.89L179.35,843.77L179.55,843.66L179.75,843.54L179.95,843.42L180.15,843.31L180.35,843.19L180.55,843.07L180.76,842.96L180.96,842.84L181.16,842.72L181.36,842.61L181.56,842.49L181.76,842.38L181.96,842.26L182.16,842.15L182.36,842.03L182.56,841.92L182.77,841.81L182.97,841.69L183.17,841.58L183.37,841.47L183.57,841.36L183.77,841.25L183.97,841.14L184.17,841.03L184.37,840.92L184.57,840.81L184.77,840.7L184.98,840.6L185.18,840.49L185.38,840.39L185.58,840.28L185.78,840.18L185.98,840.08L186.18,839.98L186.38,839.88L186.58,839.78L186.78,839.68L186.98,839.59L187.19,839.49L187.39,839.4L187.59,839.3L187.79,839.21L187.99,839.12L188.19,839.03L188.39,838.94L188.59,838.85L188.79,838.77L188.99,838.69L189.2,838.6L189.4,838.52L189.6,838.44L189.8,838.36L190,838.29L190.2,838.21L190.4,838.14L190.6,838.07L190.8,838L191,837.93L191.2,837.86L191.41,837.8L191.61,837.74L191.81,837.68L192.01,837.62L192.21,837.56L192.41,837.51L192.61,837.45L192.81,837.4L193.01,837.35L193.21,837.31L193.41,837.26L193.62,837.22L193.82,837.18L194.02,837.14L194.22,837.1L194.42,837.07L194.62,837.04L194.82,837.01L195.02,836.98L195.22,836.96L195.42,836.94L195.62,836.92L195.83,836.9L196.03,836.89L196.23,836.87L196.43,836.87L196.63,836.86L196.83,836.85L197.03,836.85L197.23,836.86L197.43,836.86L197.63,836.87L197.83,836.89L198.03,836.91L198.23,836.94L198.44,836.97L198.64,837L198.84,837.04L199.04,837.08L199.24,837.13L199.44,837.18L199.64,837.24L199.84,837.3L200.04,837.36L200.24,837.43L200.44,837.5L200.64,837.58L200.84,837.66L201.04,837.75L201.24,837.84L201.44,837.93L201.64,838.03L201.84,838.14L202.05,838.24L202.25,838.35L202.45,838.47L202.65,838.59L202.85,838.71L203.05,838.84L203.25,838.97L203.45,839.1L203.65,839.24L203.85,839.38L204.05,839.53L204.25,839.68L204.45,839.83L204.65,839.99L204.85,840.15L205.05,840.32L205.25,840.49L205.45,840.66L205.65,840.83L205.86,841.01L206.06,841.2L206.26,841.38L206.46,841.57L206.66,841.77L206.86,841.96L207.06,842.16L207.26,842.37L207.46,842.58L207.66,842.79L207.86,843L208.06,843.22L208.26,843.44L208.46,843.66L208.66,843.89L208.86,844.12L209.06,844.35L209.26,844.58L209.47,844.82L209.67,845.06L209.87,845.3L210.07,845.55L210.27,845.79L210.47,846.04L210.67,846.28L210.87,846.53L211.07,846.78L211.27,847.03L211.47,847.28L211.67,847.53L211.87,847.78L212.07,848.02L212.27,848.27L212.47,848.52L212.67,848.76L212.87,849.01L213.08,849.25L213.28,849.49L213.48,849.73L213.68,849.96L213.88,850.19L214.08,850.42L214.28,850.65L214.48,850.88L214.68,851.1L214.88,851.31L215.08,851.53L215.28,851.74L215.48,851.94L215.68,852.14L215.88,852.34L216.08,852.53L216.28,852.71L216.48,852.9L216.69,853.07L216.89,853.24L217.09,853.41L217.29,853.56L217.49,853.72L217.69,853.86L217.89,854L218.09,854.13L218.29,854.26L218.49,854.37L218.69,854.4L218.89,854.4L219.09,854.4L219.29,854.4L219.49,854.4L219.69,854.4L219.89,854.4L220.09,854.4L220.3,854.4L220.5,854.4L220.7,854.4L220.9,854.4L221.1,854.4L221.3,854.4L221.5,854.4L221.7,854.4L221.9,854.4L222.11,854.4L222.31,854.4L222.51,854.4L222.71,854.4L222.91,854.4L223.11,854.4L223.31,854.4L223.52,854.4L223.72,854.32L223.92,854.18L224.12,854.02L224.32,853.86L224.52,853.68L224.73,853.49L224.93,853.29L225.13,853.07L225.33,852.84L225.53,852.6L225.73,852.34L225.93,852.06L226.14,851.78L226.34,851.48L226.54,851.16L226.74,850.82L226.94,850.48L227.14,850.11L227.35,849.73L227.55,849.33L227.75,848.92L227.95,848.49L228.15,848.04L228.35,847.57L228.55,847.08L228.76,846.58L228.96,846.05L229.16,845.51L229.36,844.94L229.56,844.36L229.76,843.76L229.97,843.13L230.17,842.48L230.37,841.82L230.57,841.14L230.77,840.44L230.97,839.72L231.17,838.99L231.38,838.24L231.58,837.48L231.78,836.71L231.98,835.92L232.18,835.13L232.38,834.32L232.59,833.5L232.79,832.68L232.99,831.85L233.19,831.01L233.39,830.17L233.59,829.33L233.8,828.48L234,827.63L234.2,826.78L234.4,825.93L234.6,825.08L234.8,824.24L235,823.4L235.21,822.57L235.41,821.74L235.61,820.92L235.81,820.11L236.01,819.31L236.21,818.52L236.42,817.75L236.62,816.99L236.82,816.25L237.02,815.52L237.22,814.81L237.42,814.13L237.62,813.46L237.83,812.82L238.03,812.21L238.23,811.62L238.43,811.05L238.63,810.52L238.83,810.02L239.04,809.55L239.24,809.11L239.44,808.7L239.64,808.34L239.84,808.01L240.04,807.72L240.24,807.47L240.45,807.27L240.65,807.1L240.85,806.99L241.05,806.91L241.25,806.89L241.45,806.94L241.66,807.07L241.86,807.29L242.06,807.6L242.26,807.98L242.47,808.44L242.67,808.97L242.87,809.57L243.07,810.23L243.28,810.95L243.48,811.73L243.68,812.57L243.88,813.45L244.08,814.38L244.29,815.36L244.49,816.37L244.69,817.41L244.89,818.49L245.1,819.6L245.3,820.73L245.5,821.88L245.7,823.05L245.9,824.23L246.11,825.43L246.31,826.63L246.51,827.84L246.71,829.06L246.92,830.27L247.12,831.47L247.32,832.68L247.52,833.87L247.72,835.05L247.93,836.22L248.13,837.37L248.33,838.5L248.53,839.61L248.74,840.7L248.94,841.76L249.14,842.79L249.34,843.79L249.54,844.76L249.75,845.7L249.95,846.6L250.15,847.46L250.35,848.28L250.56,849.05L250.76,849.78L250.96,850.47L251.16,851.11L251.36,851.69L251.57,852.22L251.77,852.7L251.97,853.12L252.17,853.49L252.38,853.79L252.58,854.03L252.78,854.2L252.98,854.31L253.19,854.34L253.39,854.25L253.59,853.97L253.79,853.51L254,852.89L254.2,852.11L254.4,851.19L254.61,850.12L254.81,848.91L255.01,847.58L255.22,846.14L255.42,844.58L255.62,842.91L255.83,841.16L256.03,839.31L256.23,837.39L256.44,835.4L256.64,833.35L256.84,831.25L257.04,829.11L257.25,826.93L257.45,824.74L257.65,822.55L257.86,820.36L258.06,818.18L258.26,816.04L258.47,813.94L258.67,811.89L258.87,809.93L259.08,808.05L259.28,806.27L259.48,804.61L259.69,803.09L259.89,801.72L260.09,800.52L260.29,799.5L260.5,798.68L260.7,798.08L260.9,797.7L261.11,797.58L261.32,797.87L261.52,798.74L261.73,800.11L261.94,801.93L262.15,804.14L262.36,806.68L262.57,809.5L262.78,812.52L262.98,815.71L263.19,819L263.4,822.34L263.61,825.7L263.82,829.02L264.03,832.26L264.24,835.39L264.44,838.36L264.65,841.15L264.86,843.73L265.07,846.06L265.28,848.11L265.49,849.86L265.7,851.27L265.9,852.32L266.11,852.97L266.32,853.2L266.53,852.72L266.74,851.35L266.95,849.13L267.15,846.09L267.36,842.29L267.57,837.75L267.78,832.5L267.99,826.56L268.19,819.97L268.4,812.76L268.61,804.95L268.82,796.6L269.02,787.76L269.23,778.48L269.44,768.84L269.65,758.94L269.86,748.89L270.06,738.82L270.27,728.89L270.48,719.28L270.69,710.18L270.9,701.83L271.1,694.45L271.31,688.3L271.52,683.63L271.73,680.68L271.94,679.65L272.14,681.65L272.35,687.29L272.55,695.92L272.76,706.85L272.97,719.41L273.17,732.97L273.38,746.99L273.58,761.01L273.79,774.66L273.99,787.65L274.2,799.77L274.41,810.85L274.61,820.76L274.82,829.4L275.02,836.69L275.23,842.54L275.44,846.86L275.64,849.56L275.85,850.5L276.06,848.46L276.26,842.64L276.47,833.32L276.68,820.71L276.89,804.95L277.09,786.21L277.3,764.75L277.51,741.04L277.72,715.83L277.92,690.33L278.13,666.24L278.34,645.81L278.55,631.67L278.76,626.45L278.96,633.15L279.16,650.91L279.36,675.77L279.56,704.01L279.76,732.68L279.96,759.75L280.16,783.94L280.36,804.54L280.56,821.13L280.76,833.43L280.96,841.17L281.16,843.89L281.37,838.12L281.59,821.73L281.8,795.31L282.01,759.02L282.22,713.4L282.43,660.71L282.64,606.85L282.86,563.11L283.07,545.13L283.28,575.79L283.5,641.43L283.72,709.01L283.94,762.37L284.15,796.35L284.37,808.55L285.57,495.98L367.6,495.98L368.2,521.93L369.1,506.38L372.01,821.96L372.23,813.74L372.44,790.86L372.66,755.02L372.87,708.39L373.09,656.44L373.3,611.18L373.51,591.59L373.72,598.7L373.93,617.66L374.14,644.42L374.35,675.08L374.56,706.53L374.76,736.6L374.97,763.93L375.18,787.76L375.39,807.72L375.6,823.61L375.81,835.3L376.01,842.59L376.22,845.15L376.42,843.29L376.62,837.99L376.82,829.54L377.02,818.17L377.23,804.07L377.43,787.46L377.63,768.65L377.83,748.11L378.03,726.56L378.23,705.05L378.43,684.99L378.63,668.17L378.83,656.64L379.03,652.4L379.24,654.62L379.45,660.86L379.66,670.45L379.87,682.61L380.08,696.59L380.29,711.71L380.5,727.37L380.71,743.05L380.93,758.37L381.14,773.01L381.35,786.75L381.56,799.4L381.77,810.86L381.98,821.03L382.19,829.83L382.4,837.22L382.61,843.12L382.82,847.47L383.03,850.17L383.24,851.11L383.45,850.61L383.65,849.15L383.86,846.81L384.06,843.63L384.27,839.68L384.47,834.98L384.67,829.59L384.88,823.55L385.08,816.9L385.29,809.71L385.49,802.03L385.7,793.94L385.9,785.53L386.11,776.91L386.31,768.19L386.52,759.51L386.72,751.06L386.93,743L387.13,735.56L387.34,728.95L387.54,723.41L387.75,719.18L387.95,716.49L388.16,715.55L388.36,716.06L388.56,717.54L388.77,719.92L388.97,723.1L389.17,727L389.38,731.52L389.58,736.57L389.78,742.05L389.99,747.88L390.19,753.98L390.39,760.25L390.6,766.64L390.8,773.08L391.01,779.5L391.21,785.86L391.41,792.1L391.62,798.18L391.82,804.07L392.02,809.74L392.23,815.15L392.43,820.28L392.63,825.1L392.84,829.61L393.04,833.77L393.24,837.57L393.45,840.99L393.65,844.02L393.86,846.65L394.06,848.84L394.26,850.59L394.47,851.87L394.67,852.65L394.87,852.92L395.08,852.78L395.28,852.38L395.48,851.72L395.69,850.82L395.89,849.7L396.09,848.36L396.3,846.83L396.5,845.1L396.7,843.21L396.91,841.15L397.11,838.94L397.32,836.6L397.52,834.14L397.72,831.57L397.93,828.91L398.13,826.17L398.33,823.37L398.54,820.54L398.74,817.68L398.94,814.82L399.15,811.98L399.35,809.19L399.55,806.46L399.76,803.82L399.96,801.31L400.16,798.94L400.37,796.74L400.57,794.74L400.77,792.97L400.98,791.46L401.18,790.24L401.39,789.34L401.59,788.78L401.79,788.59L401.99,788.67L402.2,788.92L402.4,789.33L402.6,789.9L402.8,790.6L403.01,791.45L403.21,792.42L403.41,793.5L403.61,794.71L403.82,796.01L404.02,797.4L404.22,798.89L404.42,800.45L404.63,802.08L404.83,803.77L405.03,805.52L405.23,807.31L405.44,809.14L405.64,811L405.84,812.89L406.04,814.79L406.25,816.71L406.45,818.63L406.65,820.55L406.85,822.46L407.06,824.36L407.26,826.24L407.46,828.1L407.66,829.93L407.87,831.73L408.07,833.48L408.27,835.2L408.47,836.87L408.68,838.49L408.88,840.05L409.08,841.55L409.28,842.99L409.49,844.37L409.69,845.67L409.89,846.9L410.09,848.06L410.3,849.13L410.5,850.12L410.7,851.02L410.9,851.83L411.11,852.54L411.31,853.16L411.51,853.67L411.71,854.08L411.92,854.37L412.12,854.4L412.32,854.4L412.52,854.4L412.72,854.4L412.92,854.4L413.12,854.24L413.32,854.04L413.52,853.79L413.73,853.5L413.93,853.18L414.13,852.81L414.33,852.41L414.53,851.97L414.73,851.5L414.93,850.99L415.13,850.45L415.33,849.88L415.53,849.28L415.73,848.65L415.93,847.99L416.13,847.3L416.33,846.59L416.53,845.85L416.73,845.09L416.93,844.31L417.13,843.51L417.34,842.68L417.54,841.84L417.74,840.97L417.94,840.1L418.14,839.2L418.34,838.29L418.54,837.37L418.74,836.44L418.94,835.5L419.14,834.55L419.34,833.59L419.54,832.63L419.74,831.67L419.94,830.7L420.14,829.73L420.34,828.76L420.54,827.79L420.74,826.83L420.94,825.87L421.15,824.92L421.35,823.98L421.55,823.05L421.75,822.13L421.95,821.22L422.15,820.34L422.35,819.47L422.55,818.62L422.75,817.79L422.95,816.98L423.15,816.21L423.35,815.46L423.55,814.74L423.75,814.05L423.95,813.39L424.15,812.78L424.35,812.2L424.55,811.66L424.76,811.16L424.96,810.7L425.16,810.3L425.36,809.94L425.56,809.63L425.76,809.37L425.96,809.17L426.16,809.02L426.36,808.93L426.56,808.9L426.76,808.91L426.96,808.95L427.17,809.01L427.37,809.09L427.57,809.2L427.77,809.33L427.98,809.48L428.18,809.66L428.38,809.86L428.58,810.07L428.78,810.31L428.99,810.57L429.19,810.85L429.39,811.15L429.59,811.46L429.8,811.8L430,812.15L430.2,812.52L430.4,812.91L430.6,813.32L430.81,813.74L431.01,814.17L431.21,814.62L431.41,815.09L431.61,815.57L431.82,816.07L432.02,816.57L432.22,817.09L432.42,817.63L432.63,818.17L432.83,818.73L433.03,819.3L433.23,819.87L433.43,820.46L433.64,821.06L433.84,821.67L434.04,822.28L434.24,822.9L434.45,823.54L434.65,824.18L434.85,824.82L435.05,825.48L435.25,826.13L435.46,826.8L435.66,827.47L435.86,828.14L436.06,828.82L436.26,829.5L436.47,830.18L436.67,830.86L436.87,831.54L437.07,832.23L437.28,832.91L437.48,833.58L437.68,834.26L437.88,834.93L438.08,835.59L438.29,836.25L438.49,836.91L438.69,837.56L438.89,838.2L439.1,838.83L439.3,839.45L439.5,840.07L439.7,840.67L439.9,841.27L440.11,841.85L440.31,842.42L440.51,842.97L440.71,843.52L440.92,844.05L441.12,844.56L441.32,845.06L441.52,845.55L441.72,846.02L441.93,846.47L442.13,846.91L442.33,847.33L442.53,847.74L442.73,848.14L442.94,848.52L443.14,848.88L443.34,849.24L443.54,849.58L443.75,849.9L443.95,850.22L444.15,850.52L444.35,850.81L444.55,851.09L444.76,851.36L444.96,851.61L445.16,851.85L445.36,852.09L445.57,852.31L445.77,852.52L445.97,852.72L446.17,852.91L446.37,853.1L446.58,853.27L446.78,853.43L446.98,853.58L447.18,853.73L447.38,853.86L447.59,853.99L447.79,854.11L447.99,854.22L448.19,854.32L448.4,854.4L448.6,854.4L448.8,854.4L449,854.4L449.2,854.4L449.41,854.4L449.61,854.4L449.81,854.4L450.01,854.4L450.22,854.4L450.42,854.4L450.62,854.4L450.82,854.4L451.02,854.4L451.23,854.4L451.43,854.4L451.63,854.4L451.83,854.4L452.03,854.4L452.23,854.4L452.43,854.4L452.63,854.4L452.83,854.4L453.03,854.4L453.23,854.4L453.43,854.4L453.63,854.4L453.84,854.4L454.04,854.35L454.24,854.24L454.44,854.13L454.64,854.02L454.84,853.9L455.04,853.77L455.24,853.64L455.44,853.5L455.64,853.36L455.84,853.21L456.04,853.07L456.24,852.91L456.44,852.75L456.64,852.59L456.84,852.43L457.04,852.26L457.24,852.09L457.44,851.92L457.65,851.75L457.85,851.57L458.05,851.39L458.25,851.21L458.45,851.03L458.65,850.85L458.85,850.67L459.05,850.49L459.25,850.3L459.45,850.12L459.65,849.94L459.85,849.75L460.05,849.57L460.25,849.39L460.45,849.21L460.65,849.03L460.85,848.86L461.05,848.68L461.26,848.51L461.46,848.34L461.66,848.17L461.86,848L462.06,847.84L462.26,847.68L462.46,847.52L462.66,847.36L462.86,847.2L463.06,847.05L463.26,846.89L463.46,846.74L463.66,846.59L463.86,846.45L464.06,846.3L464.26,846.16L464.46,846.01L464.66,845.87L464.87,845.74L465.07,845.6L465.27,845.46L465.47,845.33L465.67,845.2L465.87,845.06L466.07,844.93L466.27,844.81L466.47,844.68L466.67,844.55L466.87,844.43L467.07,844.31L467.27,844.19L467.47,844.07L467.67,843.95L467.87,843.83L468.07,843.71L468.27,843.6L468.48,843.48L468.68,843.37L468.88,843.26L469.08,843.15L469.28,843.04L469.48,842.93L469.68,842.83L469.88,842.72L470.08,842.62L470.28,842.51L470.48,842.41L470.68,842.31L470.88,842.21L471.08,842.12L471.28,842.02L471.48,841.92L471.68,841.83L471.88,841.74L472.09,841.65L472.29,841.56L472.49,841.47L472.69,841.39L472.89,841.31L473.09,841.22L473.29,841.14L473.49,841.06L473.69,840.99L473.89,840.91L474.09,840.84L474.29,840.77L474.49,840.7L474.69,840.63L474.89,840.56L475.09,840.5L475.29,840.43L475.49,840.37L475.69,840.31L475.9,840.26L476.1,840.21L476.3,840.15L476.5,840.11L476.7,840.06L476.9,840.02L477.1,839.98L477.3,839.94L477.5,839.91L477.7,839.88L477.9,839.85L478.1,839.83L478.3,839.81L478.5,839.79L478.7,839.77L478.9,839.76L479.1,839.76L479.3,839.76L479.51,839.76L479.71,839.76L479.91,839.77L480.11,839.78L480.31,839.79L480.51,839.8L480.71,839.82L480.91,839.83L481.11,839.85L481.31,839.87L481.51,839.9L481.71,839.92L481.91,839.95L482.11,839.98L482.31,840.01L482.51,840.05L482.71,840.08L482.91,840.12L483.12,840.16L483.32,840.2L483.52,840.25L483.72,840.29L483.92,840.34L484.12,840.38L484.32,840.43L484.52,840.49L484.72,840.54L484.92,840.59L485.12,840.65L485.32,840.71L485.52,840.76L485.72,840.83L485.92,840.89L486.12,840.95L486.32,841.01L486.52,841.08L486.73,841.15L486.93,841.21L487.13,841.28L487.33,841.35L487.53,841.42L487.73,841.49L487.93,841.57L488.13,841.64L488.33,841.72L488.53,841.79L488.73,841.87L488.93,841.95L489.13,842.02L489.33,842.1L489.53,842.18L489.73,842.26L489.93,842.34L490.13,842.43L490.34,842.51L490.54,842.59L490.74,842.67L490.94,842.76L491.14,842.84L491.34,842.93L491.54,843.01L491.74,843.1L491.94,843.18L492.14,843.27L492.34,843.35L492.54,843.44L492.74,843.53L492.94,843.61L493.14,843.7L493.34,843.79L493.54,843.87L493.74,843.96L493.94,844.05L494.15,844.14L494.35,844.22L494.55,844.31L494.75,844.4L494.95,844.49L495.15,844.57L495.35,844.66L495.55,844.75L495.75,844.84L495.95,844.92L496.15,845.01L496.35,845.1L496.55,845.19L496.75,845.28L496.95,845.36L497.15,845.45L497.35,845.54L497.55,845.63L497.76,845.71L497.96,845.8L498.16,845.89L498.36,845.98L498.56,846.06L498.76,846.15L498.96,846.24L499.16,846.32L499.36,846.41L499.56,846.5L499.76,846.58L499.96,846.67L500.16,846.76L500.36,846.84L500.56,846.93L500.76,847.01L500.96,847.1L501.16,847.18L501.37,847.27L501.57,847.35L501.77,847.44L501.97,847.52L502.17,847.61L502.37,847.69L502.57,847.77L502.77,847.86L502.97,847.94L503.17,848.02L503.37,848.11L503.57,848.19L503.77,848.27L503.97,848.35L504.17,848.43L504.37,848.51L504.57,848.59L504.77,848.67L504.98,848.75L505.18,848.83L505.38,848.91L505.58,848.99L505.78,849.07L505.98,849.14L506.18,849.22L506.38,849.3L506.58,849.38L506.78,849.45L506.98,849.53L507.18,849.6L507.38,849.68L507.58,849.75L507.78,849.83L507.98,849.9L508.18,849.97L508.38,850.05L508.59,850.12L508.79,850.19L508.99,850.26L509.19,850.33L509.39,850.4L509.59,850.47L509.79,850.54L509.99,850.61L510.19,850.68L510.39,850.75L510.59,850.82L510.79,850.89L510.99,850.95L511.19,851.02L511.39,851.09L511.59,851.15L511.79,851.22L511.99,851.28L512.19,851.35L512.4,851.41L512.6,851.47L512.8,851.53L513,851.6L513.2,851.66L513.4,851.72L513.6,851.78L513.8,851.84L514,851.9L514.2,851.96L514.4,852.02L514.6,852.08L514.8,852.13L515,852.19L515.2,852.25L515.4,852.3L515.6,852.36L515.8,852.41L516.01,852.47L516.21,852.52L516.41,852.58L516.61,852.63L516.81,852.68L517.01,852.73L517.21,852.78L517.41,852.83L517.61,852.88L517.81,852.93L518.01,852.98L518.21,853.03L518.41,853.08L518.61,853.13L518.81,853.17L519.01,853.22L519.21,853.26L519.41,853.31L519.62,853.35L519.82,853.4L520.02,853.44L520.22,853.48L520.42,853.53L520.62,853.57L520.82,853.61L521.02,853.65L521.22,853.69L521.42,853.73L521.62,853.77L521.82,853.81L522.02,853.85L522.22,853.88L522.42,853.92L522.62,853.96L522.82,853.99L523.02,854.03L523.23,854.06L523.43,854.1L523.63,854.13L523.83,854.16L524.03,854.2L524.23,854.23L524.43,854.26L524.63,854.29L524.83,854.32L525.03,854.35L525.23,854.38L525.43,854.4L525.63,854.4L525.83,854.4L526.03,854.4L526.23,854.4L526.43,854.4L526.63,854.4L526.84,854.4L527.04,854.4L527.24,854.4L527.44,854.4L527.64,854.4L527.84,854.4L528.04,854.4L528.24,854.4L528.44,854.4L528.64,854.4L528.84,854.4L529.04,854.4L529.24,854.4L529.44,854.4L529.64,854.4L529.84,854.4L530.04,854.4L530.24,854.4L530.45,854.4L530.65,854.4L530.85,854.4L531.05,854.4L531.25,854.4L531.45,854.4L531.65,854.4L531.85,854.4L532.05,854.4L532.25,854.4L532.45,854.4L532.65,854.4L532.85,854.4L533.05,854.4L533.25,854.4L533.45,854.4L533.65,854.4L533.85,854.4L534.05,854.4L534.26,854.4L534.46,854.4L534.66,854.4L534.86,854.4L535.06,854.4L535.26,854.4L535.46,854.4L535.66,854.4L535.86,854.4L536.06,854.4L536.26,854.4L536.46,854.4L536.66,854.4L536.86,854.4L537.06,854.4L537.26,854.4L537.46,854.4L537.66,854.4L537.87,854.4L538.07,854.4L538.27,854.4L538.47,854.4L538.67,854.4L538.87,854.4L539.07,854.4L539.27,854.4L539.47,854.4L539.67,854.4L539.87,854.4L540.07,854.4L540.27,854.4L540.47,854.4L540.67,854.4L540.87,854.4L541.07,854.4L541.27,854.4L541.48,854.4L541.68,854.4L541.88,854.4L542.08,854.4L542.28,854.4L542.48,854.4L542.68,854.4L542.88,854.4L543.08,854.4L543.28,854.4L543.48,854.4L543.68,854.4L543.89,854.4L544.09,854.4L544.29,854.4L544.49,854.4L544.69,854.4L544.89,854.4L545.09,854.4L545.29,854.4L545.49,854.4L545.69,854.4L545.89,854.4L546.09,854.4L546.3,854.4L546.5,854.4L546.7,854.4L546.9,854.4L547.1,854.4L547.3,854.4L547.5,854.4L547.7,854.4L547.9,854.4L548.1,854.4L548.3,854.4L548.5,854.4L548.71,854.4L548.91,854.4L549.11,854.4L549.31,854.4L549.51,854.4L549.71,854.4L549.91,854.4L550.11,854.4L550.31,854.4L550.51,854.4L550.71,854.4L550.91,854.4L551.12,854.4L551.32,854.4L551.52,854.4L551.72,854.4L551.92,854.4L552.12,854.4L552.32,854.4L552.52,854.4L552.72,854.4L552.92,854.4L553.12,854.4L553.32,854.4L553.53,854.4L553.73,854.4L553.93,854.4L554.13,854.4L554.33,854.4L554.53,854.4L554.73,854.4L554.93,854.4L555.13,854.4L555.33,854.4L555.53,854.4L555.73,854.4L555.94,854.4L556.14,854.4L556.34,854.4L556.54,854.4L556.74,854.4L556.94,854.4L557.14,854.4L557.34,854.4L557.54,854.4L557.74,854.4L557.94,854.4L558.14,854.4L558.35,854.4L558.55,854.4L558.75,854.4L558.95,854.4L559.15,854.4L559.35,854.4L559.55,854.4L559.75,854.4L559.95,854.4L560.15,854.4L560.35,854.4L560.55,854.4L560.76,854.4L560.96,854.4L561.16,854.4L561.36,854.4L561.56,854.4L561.76,854.4L561.96,854.4L562.16,854.4L562.36,854.4L562.56,854.4L562.76,854.4L562.96,854.4L563.17,854.4L563.37,854.4L563.57,854.4L563.77,854.4L563.97,854.4L564.17,854.4L564.37,854.4L564.57,854.4L564.77,854.4L564.97,854.4L565.17,854.4L565.37,854.4L565.58,854.4L565.78,854.4L565.98,854.4L566.18,854.4L566.38,854.4L566.58,854.4L566.78,854.4L566.98,854.4L567.18,854.4L567.38,854.4L567.58,854.4L567.78,854.4L567.99,854.39L568.19,854.37L568.39,854.36L568.59,854.35L568.79,854.33L568.99,854.32L569.19,854.31L569.39,854.29L569.59,854.28L569.79,854.27L569.99,854.25L570.19,854.24L570.4,854.23L570.6,854.21L570.8,854.2L571,854.19L571.2,854.17L571.4,854.16L571.6,854.15L571.8,854.14L572,854.12L572.2,854.11L572.4,854.1L572.6,854.08L572.81,854.07L573.01,854.06L573.21,854.04L573.41,854.03L573.61,854.02L573.81,854.01L574.01,853.99L574.21,853.98L574.41,853.97L574.61,853.95L574.81,853.94L575.01,853.93L575.22,853.92L575.42,853.9L575.62,853.89L575.82,853.88L576.02,853.87L576.22,853.86L576.42,853.84L576.62,853.83L576.82,853.82L577.02,853.81L577.22,853.8L577.42,853.78L577.63,853.77L577.83,853.76L578.03,853.75L578.23,853.74L578.43,853.73L578.63,853.72L578.83,853.71L579.03,853.7L579.23,853.68L579.43,853.67L579.63,853.66L579.83,853.65L580.04,853.64L580.24,853.63L580.44,853.62L580.64,853.61L580.84,853.6L581.04,853.59L581.24,853.58L581.44,853.57L581.64,853.56L581.84,853.55L582.04,853.54L582.24,853.54L582.45,853.53L582.65,853.52L582.85,853.51L583.05,853.5L583.25,853.49L583.45,853.48L583.65,853.47L583.85,853.46L584.05,853.45L584.25,853.45L584.45,853.44L584.65,853.43L584.86,853.42L585.06,853.41L585.26,853.4L585.46,853.4L585.66,853.39L585.86,853.38L586.06,853.37L586.26,853.36L586.46,853.36L586.66,853.35L586.86,853.34L587.06,853.33L587.27,853.33L587.47,853.32L587.67,853.31L587.87,853.3L588.07,853.3L588.27,853.29L588.47,853.28L588.67,853.27L588.87,853.27L589.07,853.26L589.27,853.25L589.47,853.25L589.68,853.24L589.88,853.23L590.08,853.23L590.28,853.22L590.48,853.21L590.68,853.21L590.88,853.2L591.08,853.19L591.28,853.19L591.48,853.18L591.68,853.17L591.88,853.17L592.09,853.16L592.29,853.15L592.49,853.15L592.69,853.14L592.89,853.14L593.09,853.13L593.29,853.12L593.49,853.12L593.69,853.11L593.89,853.11L594.09,853.1L594.29,853.09L594.5,853.09L594.7,853.08L594.9,853.08L595.1,853.07L595.3,853.06L595.5,853.06L595.7,853.05L595.9,853.05L596.1,853.04L596.3,853.04L596.5,853.03L596.7,853.02L596.91,853.02L597.11,853.01L597.31,853.01L597.51,853L597.71,853L597.91,852.99L598.11,852.99L598.31,852.98L598.51,852.98L598.71,852.97L598.91,852.96L599.11,852.96L599.32,852.95L599.52,852.95L599.72,852.94L599.92,852.94L600.12,852.93L600.32,852.93L600.52,852.92L600.72,852.92L600.92,852.91L601.12,852.91L601.32,852.9L601.52,852.9L601.73,852.9L601.93,852.89L602.13,852.89L602.33,852.88L602.53,852.88L602.73,852.87L602.93,852.87L603.13,852.86L603.33,852.86L603.53,852.86L603.73,852.85L603.93,852.85L604.14,852.84L604.34,852.84L604.54,852.84L604.74,852.83L604.94,852.83L605.14,852.83L605.34,852.82L605.54,852.82L605.74,852.82L605.94,852.81L606.14,852.81L606.34,852.81L606.55,852.8L606.75,852.8L606.95,852.8L607.15,852.8L607.35,852.79L607.55,852.79L607.75,852.79L607.95,852.79L608.15,852.78L608.35,852.78L608.55,852.78L608.75,852.78L608.96,852.77L609.16,852.77L609.36,852.77L609.56,852.77L609.76,852.77L609.96,852.77L610.16,852.77L610.36,852.76L610.56,852.76L610.76,852.76L610.96,852.76L611.16,852.76L611.37,852.76L611.57,852.76L611.77,852.76L611.97,852.76L612.17,852.76L612.37,852.76L612.57,852.76L612.78,852.76L612.98,852.76L613.19,852.76L613.39,852.76L613.59,852.76L613.8,852.76L614,852.76L614.21,852.76L614.41,852.76L614.61,852.76L614.82,852.77L615.02,852.77L615.23,852.77L615.43,852.77L615.64,852.77L615.84,852.77L616.04,852.77L616.25,852.78L616.45,852.78L616.66,852.78L616.86,852.78L617.06,852.78L617.27,852.78L617.47,852.79L617.68,852.79L617.88,852.79L618.09,852.79L618.29,852.79L618.49,852.8L618.7,852.8L618.9,852.8L619.11,852.8L619.31,852.81L619.51,852.81L619.72,852.81L619.92,852.81L620.13,852.82L620.33,852.82L620.53,852.82L620.74,852.83L620.94,852.83L621.15,852.83L621.35,852.83L621.56,852.84L621.76,852.84L621.96,852.84L622.17,852.84L622.37,852.85L622.58,852.85L622.78,852.85L622.98,852.86L623.19,852.86L623.39,852.86L623.6,852.87L623.8,852.87" stroke="#1a78bb" stroke-width="1.7" fill="none" stroke-linejoin="round"/>
<text transform="translate(103.9,865.1) scale(0.88,1)" font-family="'Liberation Sans', sans-serif" font-size="28" font-weight="bold" font-style="normal" text-anchor="end" fill="#262626">0</text>
<text transform="translate(103.9,793.2) scale(0.91,1)" font-family="'Liberation Sans', sans-serif" font-size="28" font-weight="bold" font-style="normal" text-anchor="end" fill="#262626">20%</text>
<text transform="translate(103.9,721.3) scale(0.91,1)" font-family="'Liberation Sans', sans-serif" font-size="28" font-weight="bold" font-style="normal" text-anchor="end" fill="#262626">40%</text>
<text transform="translate(103.9,649.4) scale(0.91,1)" font-family="'Liberation Sans', sans-serif" font-size="28" font-weight="bold" font-style="normal" text-anchor="end" fill="#262626">60%</text>
<text transform="translate(103.9,577.5) scale(0.91,1)" font-family="'Liberation Sans', sans-serif" font-size="28" font-weight="bold" font-style="normal" text-anchor="end" fill="#262626">80%</text>
<text transform="translate(103.9,505.6) scale(0.91,1)" font-family="'Liberation Sans', sans-serif" font-size="28" font-weight="bold" font-style="normal" text-anchor="end" fill="#262626">100%</text>
<text transform="translate(239.3,891.2) scale(0.87,1)" font-family="'Liberation Sans', sans-serif" font-size="27.7" font-weight="bold" font-style="normal" text-anchor="middle" fill="#262626">-0.01</text>
<text transform="translate(368.4,891.2) scale(0.87,1)" font-family="'Liberation Sans', sans-serif" font-size="27.7" font-weight="bold" font-style="normal" text-anchor="middle" fill="#262626">0</text>
<text transform="translate(496.6,891.2) scale(0.87,1)" font-family="'Liberation Sans', sans-serif" font-size="27.7" font-weight="bold" font-style="normal" text-anchor="middle" fill="#262626">0.01</text>
<path d="M635.3,397.9H1142.4" stroke="#000" stroke-width="2" stroke-dasharray="2 7.83" fill="none"/>
<path d="M636.8,62.9L762.65,62.99L762.75,63L762.85,63L762.95,63L763.05,63.01L763.15,63.01L763.25,63.01L763.35,63.02L763.45,63.02L763.55,63.03L763.65,63.03L763.75,63.04L763.85,63.05L763.95,63.05L764.05,63.06L764.15,63.07L764.25,63.07L764.35,63.08L764.45,63.09L764.55,63.1L764.65,63.11L764.75,63.12L764.85,63.13L764.95,63.14L765.05,63.16L765.15,63.17L765.25,63.19L765.35,63.21L765.45,63.23L765.55,63.25L765.65,63.27L765.75,63.3L765.85,63.33L765.95,63.36L766.05,63.39L766.15,63.44L766.25,63.48L766.35,63.53L766.45,63.59L766.55,63.66L766.65,63.74L766.75,63.83L766.85,63.93L766.95,64.06L767.05,64.2L767.15,64.38L767.25,64.6L767.35,64.87L767.45,65.21L767.55,65.65L767.65,66.22L767.75,66.99L767.85,68.05L767.95,69.6L768.05,71.95L768.15,75.78L768.25,82.61L768.35,96.4L768.45,129.9L768.55,224L768.65,224L768.67,224L768.68,224L768.7,165.49L768.71,128.04L768.73,106.35L768.74,93.12L768.76,84.63L768.77,78.96L768.79,75.07L768.81,72.36L768.82,70.48L768.84,69.21L768.85,68.42L768.87,68.05L768.88,68.05L768.9,68.42L768.91,69.21L768.93,70.48L768.94,72.36L768.96,75.07L768.98,78.96L768.99,84.63L769.01,93.12L769.02,106.35L769.04,128.04L769.05,165.49L769.07,231.52L769.08,300L769.1,300L769.12,300L769.13,232.03L769.15,166.19L769.16,128.86L769.18,107.23L769.19,94.04L769.21,85.58L769.22,79.92L769.24,76.05L769.26,73.34L769.27,71.47L769.29,70.2L769.3,69.42L769.32,69.05L769.33,69.05L769.35,69.42L769.36,70.2L769.38,71.47L769.39,73.34L769.41,76.05L769.43,79.92L769.44,85.58L769.46,94.04L769.47,107.23L769.49,128.86L769.5,166.19L769.52,232.03L769.53,318L769.55,318L769.57,318L769.58,232.53L769.6,166.89L769.61,129.67L769.63,108.12L769.64,94.96L769.66,86.52L769.67,80.89L769.69,77.02L769.71,74.33L769.72,72.46L769.74,71.2L769.75,70.42L769.77,70.05L769.78,70.05L769.8,70.42L769.81,71.2L769.83,72.46L769.84,74.33L769.86,77.02L769.88,80.89L769.89,86.52L769.91,94.96L769.92,108.12L769.94,129.67L769.95,166.89L769.97,232.53L769.98,318L770,318L770.02,318L770.03,232.53L770.05,166.89L770.07,129.67L770.09,108.12L770.1,94.96L770.12,86.52L770.14,80.89L770.16,77.02L770.17,74.33L770.19,72.46L770.21,71.2L770.22,70.42L770.24,70.05L770.26,70.05L770.28,70.42L770.29,71.2L770.31,72.46L770.33,74.33L770.34,77.02L770.36,80.89L770.38,86.52L770.4,94.96L770.41,108.12L770.43,129.67L770.45,166.89L770.47,232.53L770.48,318L770.5,318L770.53,318L770.57,232.78L770.6,167.25L770.64,130.08L770.67,108.56L770.71,95.43L770.74,87L770.78,81.37L770.81,77.51L770.84,74.82L770.88,72.96L770.91,71.7L770.95,70.92L770.98,70.55L771.02,70.55L771.05,70.92L771.09,71.7L771.12,72.96L771.16,74.82L771.19,77.51L771.22,81.37L771.26,87L771.29,95.43L771.33,108.56L771.36,130.08L771.4,167.25L771.43,232.78L771.47,332.76L771.5,378.3L771.57,358.49L771.65,281.1L771.72,214.36L771.8,168.51L771.87,138.54L771.95,118.76L772.02,105.34L772.09,95.96L772.17,89.23L772.24,84.28L772.32,80.57L772.39,77.76L772.47,75.62L772.54,73.97L772.62,72.73L772.69,71.8L772.76,71.15L772.84,70.73L772.91,70.53L772.99,70.53L773.06,70.73L773.14,71.15L773.21,71.8L773.28,72.73L773.36,73.97L773.43,75.62L773.51,77.76L773.58,80.57L773.66,84.28L773.73,89.23L773.81,95.96L773.88,105.34L773.95,118.76L774.03,138.54L774.1,168.51L774.18,214.36L774.25,281.1L774.33,358.49L774.4,382L774.47,382L774.55,363.08L774.62,328.42L774.69,291.28L774.76,256.23L774.84,225.44L774.91,199.43L774.98,177.9L775.05,160.23L775.13,145.75L775.2,133.85L775.27,124.03L775.34,115.88L775.42,109.06L775.49,103.33L775.56,98.47L775.63,94.34L775.71,90.8L775.78,87.74L775.85,85.1L775.92,82.8L776,80.8L776.07,79.04L776.14,77.5L776.22,76.15L776.29,74.95L776.36,73.89L776.43,72.96L776.51,72.13L776.58,71.41L776.65,70.77L776.72,70.2L776.8,69.71L776.87,69.29L776.94,68.92L777.01,68.62L777.09,68.36L777.16,68.16L777.23,68L777.3,67.89L777.38,67.82L777.45,67.8L777.52,67.82L777.6,67.89L777.67,68L777.74,68.16L777.81,68.36L777.89,68.62L777.96,68.92L778.03,69.29L778.1,69.71L778.18,70.2L778.25,70.77L778.32,71.41L778.39,72.13L778.47,72.96L778.54,73.89L778.61,74.95L778.68,76.15L778.76,77.5L778.83,79.04L778.9,80.8L778.98,82.8L779.05,85.1L779.12,87.74L779.19,90.8L779.27,94.34L779.34,98.47L779.41,103.33L779.48,109.06L779.56,115.88L779.63,124.03L779.7,133.85L779.77,145.75L779.85,160.23L779.92,177.9L779.99,199.43L780.06,225.44L780.14,256.23L780.21,291.28L780.28,328.42L780.35,363.08L780.43,388.47L780.5,394L780.57,375.82L780.65,324.31L780.72,268.32L780.79,221.31L780.87,185.67L780.94,159.56L781.02,140.47L781.09,126.38L781.16,115.81L781.24,107.75L781.31,101.52L781.38,96.62L781.46,92.72L781.53,89.59L781.6,87.05L781.68,84.97L781.75,83.27L781.82,81.87L781.9,80.73L781.97,79.79L782.05,79.04L782.12,78.44L782.19,77.97L782.27,77.64L782.34,77.42L782.41,77.31L782.49,77.31L782.56,77.42L782.63,77.64L782.71,77.97L782.78,78.44L782.85,79.04L782.93,79.79L783,80.73L783.08,81.87L783.15,83.27L783.22,84.97L783.3,87.05L783.37,89.59L783.44,92.72L783.52,96.62L783.59,101.52L783.66,107.75L783.74,115.81L783.81,126.38L783.88,140.47L783.96,159.56L784.03,185.67L784.11,221.31L784.18,268.32L784.25,324.31L784.33,375.82L784.4,394L784.47,377.94L784.55,330.63L784.62,277.98L784.69,232.74L784.76,197.81L784.84,171.85L784.91,152.68L784.98,138.42L785.05,127.65L785.13,119.41L785.2,113L785.27,107.95L785.35,103.92L785.42,100.67L785.49,98.02L785.56,95.85L785.64,94.06L785.71,92.59L785.78,91.36L785.85,90.35L785.93,89.53L786,88.85L786.07,88.32L786.15,87.91L786.22,87.61L786.29,87.41L786.36,87.31L786.44,87.31L786.51,87.41L786.58,87.61L786.65,87.91L786.73,88.32L786.8,88.85L786.87,89.53L786.95,90.35L787.02,91.36L787.09,92.59L787.16,94.06L787.24,95.85L787.31,98.02L787.38,100.67L787.45,103.92L787.53,107.95L787.6,113L787.67,119.41L787.75,127.65L787.82,138.42L787.89,152.68L787.96,171.85L788.04,197.81L788.11,232.74L788.18,277.98L788.25,330.63L788.33,377.94L788.4,396.1L788.47,391.56L788.54,373.94L788.62,348.5L788.69,319.27L788.76,289.63L788.83,261.74L788.91,236.71L788.98,214.88L789.05,196.14L789.12,180.2L789.2,166.69L789.27,155.24L789.34,145.52L789.41,137.24L789.48,130.16L789.56,124.08L789.63,118.83L789.7,114.28L789.77,110.32L789.85,106.85L789.92,103.81L789.99,101.13L790.06,98.76L790.13,96.66L790.21,94.79L790.28,93.12L790.35,91.63L790.42,90.29L790.5,89.08L790.57,88L790.64,87.03L790.71,86.15L790.79,85.35L790.86,84.64L790.93,83.99L791,83.41L791.07,82.89L791.15,82.42L791.22,82L791.29,81.63L791.36,81.3L791.44,81.01L791.51,80.75L791.58,80.53L791.65,80.35L791.72,80.2L791.8,80.08L791.87,79.99L791.94,79.93L792.01,79.9L792.09,79.9L792.16,79.93L792.23,79.99L792.3,80.08L792.38,80.2L792.45,80.35L792.52,80.53L792.59,80.75L792.66,81.01L792.74,81.3L792.81,81.63L792.88,82L792.95,82.42L793.03,82.89L793.1,83.41L793.17,83.99L793.24,84.64L793.31,85.35L793.39,86.15L793.46,87.03L793.53,88L793.6,89.08L793.68,90.29L793.75,91.63L793.82,93.12L793.89,94.79L793.97,96.66L794.04,98.76L794.11,101.13L794.18,103.81L794.25,106.85L794.33,110.32L794.4,114.28L794.47,118.83L794.54,124.08L794.62,130.16L794.69,137.24L794.76,145.52L794.83,155.24L794.9,166.69L794.98,180.2L795.05,196.14L795.12,214.88L795.19,236.71L795.27,261.74L795.34,289.63L795.41,319.27L795.48,348.5L795.56,373.94L795.63,391.56L795.7,396.1L795.77,391.93L795.84,375.25L795.92,350.91L795.99,322.61L796.06,293.51L796.13,265.76L796.21,240.55L796.28,218.3L796.35,199.03L796.42,182.5L796.5,168.39L796.57,156.36L796.64,146.09L796.71,137.3L796.79,129.76L796.86,123.26L796.93,117.63L797,112.74L797.08,108.47L797.15,104.73L797.22,101.44L797.29,98.54L797.36,95.97L797.44,93.68L797.51,91.64L797.58,89.82L797.65,88.18L797.73,86.71L797.8,85.39L797.87,84.2L797.94,83.12L798.02,82.15L798.09,81.27L798.16,80.47L798.23,79.75L798.31,79.1L798.38,78.5L798.45,77.97L798.52,77.49L798.6,77.05L798.67,76.66L798.74,76.32L798.81,76.01L798.88,75.74L798.96,75.5L799.03,75.3L799.1,75.12L799.17,74.98L799.25,74.87L799.32,74.79L799.39,74.73L799.46,74.7L799.54,74.7L799.61,74.73L799.68,74.79L799.75,74.87L799.83,74.98L799.9,75.12L799.97,75.3L800.04,75.5L800.12,75.74L800.19,76.01L800.26,76.32L800.33,76.66L800.4,77.05L800.48,77.49L800.55,77.97L800.62,78.5L800.69,79.1L800.77,79.75L800.84,80.47L800.91,81.27L800.98,82.15L801.06,83.12L801.13,84.2L801.2,85.39L801.27,86.71L801.35,88.18L801.42,89.82L801.49,91.64L801.56,93.68L801.64,95.97L801.71,98.54L801.78,101.44L801.85,104.73L801.92,108.47L802,112.74L802.07,117.63L802.14,123.26L802.21,129.76L802.29,137.3L802.36,146.09L802.43,156.36L802.5,168.39L802.58,182.5L802.65,199.03L802.72,218.3L802.79,240.55L802.87,265.76L802.94,293.51L803.01,322.61L803.08,350.91L803.16,375.25L803.23,391.93L803.3,397L803.37,393.36L803.44,380.47L803.52,361.15L803.59,337.85L803.66,312.9L803.73,288.14L803.81,264.75L803.88,243.38L803.95,224.27L804.02,207.43L804.09,192.71L804.17,179.89L804.24,168.75L804.31,159.08L804.38,150.66L804.46,143.31L804.53,136.89L804.6,131.26L804.67,126.31L804.75,121.93L804.82,118.06L804.89,114.62L804.96,111.55L805.03,108.81L805.11,106.35L805.18,104.14L805.25,102.15L805.32,100.35L805.4,98.72L805.47,97.24L805.54,95.9L805.61,94.68L805.68,93.56L805.76,92.55L805.83,91.62L805.9,90.77L805.97,89.99L806.05,89.27L806.12,88.62L806.19,88.02L806.26,87.47L806.34,86.97L806.41,86.51L806.48,86.09L806.55,85.71L806.62,85.36L806.7,85.05L806.77,84.76L806.84,84.51L806.91,84.28L806.99,84.08L807.06,83.9L807.13,83.75L807.2,83.62L807.27,83.51L807.35,83.43L807.42,83.37L807.49,83.32L807.56,83.3L807.64,83.3L807.71,83.32L807.78,83.37L807.85,83.43L807.93,83.51L808,83.62L808.07,83.75L808.14,83.9L808.21,84.08L808.29,84.28L808.36,84.51L808.43,84.76L808.5,85.05L808.58,85.36L808.65,85.71L808.72,86.09L808.79,86.51L808.86,86.97L808.94,87.47L809.01,88.02L809.08,88.62L809.15,89.27L809.23,89.99L809.3,90.77L809.37,91.62L809.44,92.55L809.52,93.56L809.59,94.68L809.66,95.9L809.73,97.24L809.8,98.72L809.88,100.35L809.95,102.15L810.02,104.14L810.09,106.35L810.17,108.81L810.24,111.55L810.31,114.62L810.38,118.06L810.45,121.93L810.53,126.31L810.6,131.26L810.67,136.89L810.74,143.31L810.82,150.66L810.89,159.08L810.96,168.75L811.03,179.89L811.11,192.71L811.18,207.43L811.25,224.27L811.32,243.38L811.39,264.75L811.47,288.14L811.54,312.9L811.61,337.85L811.68,361.15L811.76,380.47L811.83,393.36L811.9,396.7L811.97,390.99L812.05,371.96L812.12,344.94L812.19,314.56L812.26,284.44L812.34,256.71L812.41,232.32L812.48,211.41L812.55,193.73L812.63,178.89L812.7,166.44L812.77,155.99L812.84,147.19L812.92,139.74L812.99,133.41L813.06,127.99L813.13,123.34L813.21,119.33L813.28,115.84L813.35,112.81L813.43,110.15L813.5,107.82L813.57,105.76L813.64,103.94L813.72,102.33L813.79,100.89L813.86,99.61L813.93,98.47L814.01,97.44L814.08,96.53L814.15,95.7L814.22,94.97L814.3,94.31L814.37,93.72L814.44,93.19L814.51,92.72L814.59,92.31L814.66,91.94L814.73,91.62L814.81,91.34L814.88,91.1L814.95,90.89L815.02,90.73L815.1,90.6L815.17,90.5L815.24,90.44L815.31,90.4L815.39,90.4L815.46,90.44L815.53,90.5L815.6,90.6L815.68,90.73L815.75,90.89L815.82,91.1L815.89,91.34L815.97,91.62L816.04,91.94L816.11,92.31L816.19,92.72L816.26,93.19L816.33,93.72L816.4,94.31L816.48,94.97L816.55,95.7L816.62,96.53L816.69,97.44L816.77,98.47L816.84,99.61L816.91,100.89L816.98,102.33L817.06,103.94L817.13,105.76L817.2,107.82L817.27,110.15L817.35,112.81L817.42,115.84L817.49,119.33L817.57,123.34L817.64,127.99L817.71,133.41L817.78,139.74L817.86,147.19L817.93,155.99L818,166.44L818.07,178.89L818.15,193.73L818.22,211.41L818.29,232.32L818.36,256.71L818.44,284.44L818.51,314.56L818.58,344.94L818.65,371.96L818.73,390.99L818.8,396.7L818.87,395.81L818.94,389.69L819.02,379.98L819.09,367.32L819.16,352.44L819.23,336.12L819.3,319.05L819.38,301.83L819.45,284.9L819.52,268.6L819.59,253.15L819.66,238.69L819.74,225.27L819.81,212.89L819.88,201.53L819.95,191.14L820.03,181.67L820.1,173.03L820.17,165.16L820.24,158L820.31,151.47L820.39,145.52L820.46,140.09L820.53,135.13L820.6,130.6L820.67,126.45L820.75,122.64L820.82,119.14L820.89,115.92L820.96,112.96L821.03,110.23L821.11,107.7L821.18,105.37L821.25,103.21L821.32,101.2L821.39,99.34L821.47,97.61L821.54,96L821.61,94.49L821.68,93.09L821.75,91.78L821.83,90.56L821.9,89.41L821.97,88.34L822.04,87.33L822.12,86.39L822.19,85.5L822.26,84.67L822.33,83.88L822.4,83.15L822.48,82.45L822.55,81.8L822.62,81.18L822.69,80.6L822.76,80.05L822.84,79.54L822.91,79.05L822.98,78.59L823.05,78.16L823.12,77.75L823.2,77.36L823.27,77L823.34,76.65L823.41,76.33L823.48,76.02L823.56,75.74L823.63,75.47L823.7,75.21L823.77,74.98L823.84,74.75L823.92,74.54L823.99,74.35L824.06,74.17L824.13,74L824.21,73.84L824.28,73.7L824.35,73.57L824.42,73.45L824.49,73.34L824.57,73.24L824.64,73.15L824.71,73.07L824.78,73L824.85,72.95L824.93,72.9L825,72.86L825.07,72.83L825.14,72.81L825.21,72.8L825.29,72.8L825.36,72.81L825.43,72.83L825.5,72.86L825.57,72.9L825.65,72.95L825.72,73L825.79,73.07L825.86,73.15L825.93,73.24L826.01,73.34L826.08,73.45L826.15,73.57L826.22,73.7L826.29,73.84L826.37,74L826.44,74.17L826.51,74.35L826.58,74.54L826.66,74.75L826.73,74.98L826.8,75.21L826.87,75.47L826.94,75.74L827.02,76.02L827.09,76.33L827.16,76.65L827.23,77L827.3,77.36L827.38,77.75L827.45,78.16L827.52,78.59L827.59,79.05L827.66,79.54L827.74,80.05L827.81,80.6L827.88,81.18L827.95,81.8L828.02,82.45L828.1,83.15L828.17,83.88L828.24,84.67L828.31,85.5L828.38,86.39L828.46,87.33L828.53,88.34L828.6,89.41L828.67,90.56L828.75,91.78L828.82,93.09L828.89,94.49L828.96,96L829.03,97.61L829.11,99.34L829.18,101.2L829.25,103.21L829.32,105.37L829.39,107.7L829.47,110.23L829.54,112.96L829.61,115.92L829.68,119.14L829.75,122.64L829.83,126.45L829.9,130.6L829.97,135.13L830.04,140.09L830.11,145.52L830.19,151.47L830.26,158L830.33,165.16L830.4,173.03L830.47,181.67L830.55,191.14L830.62,201.53L830.69,212.89L830.76,225.27L830.84,238.69L830.91,253.15L830.98,268.6L831.05,284.9L831.12,301.83L831.2,319.05L831.27,336.12L831.34,352.44L831.41,367.32L831.48,379.98L831.56,389.69L831.63,395.81L831.7,396.7L831.77,392.55L831.84,377.53L831.92,355.42L831.99,329.41L832.06,302.32L832.13,276.17L832.21,252.13L832.28,230.69L832.35,211.94L832.42,195.73L832.5,181.79L832.57,169.84L832.64,159.58L832.71,150.76L832.79,143.17L832.86,136.6L832.93,130.9L833,125.93L833.08,121.58L833.15,117.76L833.22,114.4L833.29,111.43L833.37,108.78L833.44,106.43L833.51,104.33L833.58,102.45L833.66,100.76L833.73,99.24L833.8,97.87L833.87,96.63L833.95,95.51L834.02,94.5L834.09,93.58L834.16,92.74L834.24,91.98L834.31,91.29L834.38,90.66L834.45,90.09L834.53,89.57L834.6,89.1L834.67,88.68L834.74,88.29L834.82,87.95L834.89,87.64L834.96,87.37L835.03,87.12L835.11,86.91L835.18,86.73L835.25,86.58L835.32,86.45L835.4,86.35L835.47,86.28L835.54,86.23L835.61,86.2L835.69,86.2L835.76,86.23L835.83,86.28L835.9,86.35L835.98,86.45L836.05,86.58L836.12,86.73L836.19,86.91L836.27,87.12L836.34,87.37L836.41,87.64L836.48,87.95L836.56,88.29L836.63,88.68L836.7,89.1L836.77,89.57L836.85,90.09L836.92,90.66L836.99,91.29L837.06,91.98L837.14,92.74L837.21,93.58L837.28,94.5L837.35,95.51L837.43,96.63L837.5,97.87L837.57,99.24L837.64,100.76L837.72,102.45L837.79,104.33L837.86,106.43L837.93,108.78L838.01,111.43L838.08,114.4L838.15,117.76L838.22,121.58L838.3,125.93L838.37,130.9L838.44,136.6L838.51,143.17L838.59,150.76L838.66,159.58L838.73,169.84L838.8,181.79L838.88,195.73L838.95,211.94L839.02,230.69L839.09,252.13L839.17,276.17L839.24,302.32L839.31,329.41L839.38,355.42L839.46,377.53L839.53,392.55L839.6,395.6L839.67,395.6L839.74,390.15L839.82,380.95L839.89,368.9L839.96,354.67L840.03,338.96L840.1,322.43L840.18,305.63L840.25,289.02L840.32,272.92L840.39,257.57L840.46,243.11L840.53,229.61L840.61,217.11L840.68,205.58L840.75,194.99L840.82,185.29L840.89,176.42L840.97,168.31L841.04,160.9L841.11,154.14L841.18,147.95L841.25,142.3L841.33,137.12L841.4,132.38L841.47,128.03L841.54,124.03L841.61,120.35L841.68,116.97L841.76,113.84L841.83,110.96L841.9,108.29L841.97,105.82L842.04,103.53L842.12,101.41L842.19,99.43L842.26,97.59L842.33,95.88L842.4,94.28L842.48,92.79L842.55,91.39L842.62,90.08L842.69,88.86L842.76,87.71L842.84,86.64L842.91,85.62L842.98,84.67L843.05,83.78L843.12,82.94L843.19,82.15L843.27,81.4L843.34,80.7L843.41,80.03L843.48,79.4L843.55,78.81L843.63,78.25L843.7,77.72L843.77,77.22L843.84,76.75L843.91,76.31L843.99,75.88L844.06,75.49L844.13,75.11L844.2,74.75L844.27,74.42L844.34,74.1L844.42,73.8L844.49,73.52L844.56,73.25L844.63,73L844.7,72.76L844.78,72.54L844.85,72.33L844.92,72.14L844.99,71.96L845.06,71.79L845.14,71.63L845.21,71.48L845.28,71.35L845.35,71.22L845.42,71.11L845.5,71.01L845.57,70.91L845.64,70.83L845.71,70.76L845.78,70.69L845.85,70.64L845.93,70.59L846,70.56L846.07,70.53L846.14,70.51L846.21,70.5L846.29,70.5L846.36,70.51L846.43,70.53L846.5,70.56L846.57,70.59L846.65,70.64L846.72,70.69L846.79,70.76L846.86,70.83L846.93,70.91L847,71.01L847.08,71.11L847.15,71.22L847.22,71.35L847.29,71.48L847.36,71.63L847.44,71.79L847.51,71.96L847.58,72.14L847.65,72.33L847.72,72.54L847.8,72.76L847.87,73L847.94,73.25L848.01,73.52L848.08,73.8L848.16,74.1L848.23,74.42L848.3,74.75L848.37,75.11L848.44,75.49L848.51,75.88L848.59,76.31L848.66,76.75L848.73,77.22L848.8,77.72L848.87,78.25L848.95,78.81L849.02,79.4L849.09,80.03L849.16,80.7L849.23,81.4L849.31,82.15L849.38,82.94L849.45,83.78L849.52,84.67L849.59,85.62L849.66,86.64L849.74,87.71L849.81,88.86L849.88,90.08L849.95,91.39L850.02,92.79L850.1,94.28L850.17,95.88L850.24,97.59L850.31,99.43L850.38,101.41L850.46,103.53L850.53,105.82L850.6,108.29L850.67,110.96L850.74,113.84L850.82,116.97L850.89,120.35L850.96,124.03L851.03,128.03L851.1,132.38L851.17,137.12L851.25,142.3L851.32,147.95L851.39,154.14L851.46,160.9L851.53,168.31L851.61,176.42L851.68,185.29L851.75,194.99L851.82,205.58L851.89,217.11L851.97,229.61L852.04,243.11L852.11,257.57L852.18,272.92L852.25,289.02L852.32,305.63L852.4,322.43L852.47,338.96L852.54,354.67L852.61,368.9L852.68,380.95L852.76,390.15L852.83,395.93L852.9,396.7L852.97,395.17L853.04,387.24L853.12,374.82L853.19,358.93L853.26,340.72L853.33,321.26L853.4,301.48L853.48,282.07L853.55,263.53L853.62,246.16L853.69,230.11L853.76,215.44L853.84,202.11L853.91,190.06L853.98,179.21L854.05,169.45L854.12,160.68L854.2,152.79L854.27,145.7L854.34,139.31L854.41,133.55L854.48,128.35L854.56,123.64L854.63,119.38L854.7,115.5L854.77,111.98L854.84,108.77L854.92,105.84L854.99,103.16L855.06,100.7L855.13,98.44L855.2,96.37L855.28,94.46L855.35,92.69L855.42,91.07L855.49,89.56L855.56,88.16L855.64,86.87L855.71,85.67L855.78,84.55L855.85,83.51L855.92,82.54L855.99,81.64L856.07,80.8L856.14,80.01L856.21,79.28L856.28,78.59L856.35,77.95L856.43,77.35L856.5,76.79L856.57,76.26L856.64,75.77L856.71,75.31L856.79,74.88L856.86,74.48L856.93,74.1L857,73.75L857.07,73.42L857.15,73.12L857.22,72.83L857.29,72.57L857.36,72.32L857.43,72.09L857.51,71.88L857.58,71.69L857.65,71.51L857.72,71.35L857.79,71.21L857.87,71.08L857.94,70.96L858.01,70.86L858.08,70.77L858.15,70.69L858.23,70.63L858.3,70.58L858.37,70.54L858.44,70.51L858.51,70.5L858.59,70.5L858.66,70.51L858.73,70.54L858.8,70.58L858.87,70.63L858.95,70.69L859.02,70.77L859.09,70.86L859.16,70.96L859.23,71.08L859.31,71.21L859.38,71.35L859.45,71.51L859.52,71.69L859.59,71.88L859.67,72.09L859.74,72.32L859.81,72.57L859.88,72.83L859.95,73.12L860.03,73.42L860.1,73.75L860.17,74.1L860.24,74.48L860.31,74.88L860.39,75.31L860.46,75.77L860.53,76.26L860.6,76.79L860.67,77.35L860.75,77.95L860.82,78.59L860.89,79.28L860.96,80.01L861.03,80.8L861.11,81.64L861.18,82.54L861.25,83.51L861.32,84.55L861.39,85.67L861.46,86.87L861.54,88.16L861.61,89.56L861.68,91.07L861.75,92.69L861.82,94.46L861.9,96.37L861.97,98.44L862.04,100.7L862.11,103.16L862.18,105.84L862.26,108.77L862.33,111.98L862.4,115.5L862.47,119.38L862.54,123.64L862.62,128.35L862.69,133.55L862.76,139.31L862.83,145.7L862.9,152.79L862.98,160.68L863.05,169.45L863.12,179.21L863.19,190.06L863.26,202.11L863.34,215.44L863.41,230.11L863.48,246.16L863.55,263.53L863.62,282.07L863.7,301.48L863.77,321.26L863.84,340.72L863.91,358.93L863.98,374.82L864.06,387.24L864.13,393.5L864.2,393.5L864.27,393.5L864.34,388.85L864.42,378.19L864.49,364.37L864.56,348.24L864.63,330.68L864.7,312.47L864.78,294.23L864.85,276.46L864.92,259.49L864.99,243.53L865.07,228.69L865.14,215L865.21,202.46L865.28,191.02L865.35,180.61L865.43,171.16L865.5,162.58L865.57,154.8L865.64,147.74L865.71,141.32L865.79,135.49L865.86,130.19L865.93,125.36L866,120.95L866.07,116.92L866.15,113.23L866.22,109.85L866.29,106.74L866.36,103.89L866.43,101.26L866.51,98.84L866.58,96.6L866.65,94.52L866.72,92.6L866.8,90.82L866.87,89.17L866.94,87.63L867.01,86.2L867.08,84.87L867.16,83.62L867.23,82.46L867.3,81.37L867.37,80.36L867.44,79.4L867.52,78.51L867.59,77.67L867.66,76.89L867.73,76.15L867.8,75.46L867.88,74.8L867.95,74.19L868.02,73.61L868.09,73.07L868.17,72.56L868.24,72.08L868.31,71.63L868.38,71.2L868.45,70.8L868.53,70.42L868.6,70.07L868.67,69.73L868.74,69.42L868.81,69.13L868.89,68.85L868.96,68.59L869.03,68.35L869.1,68.13L869.17,67.92L869.25,67.72L869.32,67.54L869.39,67.38L869.46,67.22L869.53,67.08L869.61,66.95L869.68,66.84L869.75,66.73L869.82,66.64L869.9,66.56L869.97,66.49L870.04,66.43L870.11,66.38L870.18,66.35L870.26,66.32L870.33,66.31L870.4,66.3L870.47,66.31L870.54,66.32L870.62,66.35L870.69,66.38L870.76,66.43L870.83,66.49L870.9,66.56L870.98,66.64L871.05,66.73L871.12,66.84L871.19,66.95L871.27,67.08L871.34,67.22L871.41,67.38L871.48,67.54L871.55,67.72L871.63,67.92L871.7,68.13L871.77,68.35L871.84,68.59L871.91,68.85L871.99,69.13L872.06,69.42L872.13,69.73L872.2,70.07L872.27,70.42L872.35,70.8L872.42,71.2L872.49,71.63L872.56,72.08L872.63,72.56L872.71,73.07L872.78,73.61L872.85,74.19L872.92,74.8L873,75.46L873.07,76.15L873.14,76.89L873.21,77.67L873.28,78.51L873.36,79.4L873.43,80.36L873.5,81.37L873.57,82.46L873.64,83.62L873.72,84.87L873.79,86.2L873.86,87.63L873.93,89.17L874,90.82L874.08,92.6L874.15,94.52L874.22,96.6L874.29,98.84L874.37,101.26L874.44,103.89L874.51,106.74L874.58,109.85L874.65,113.23L874.73,116.92L874.8,120.95L874.87,125.36L874.94,130.19L875.01,135.49L875.09,141.32L875.16,147.74L875.23,154.8L875.3,162.58L875.37,171.16L875.45,180.61L875.52,191.02L875.59,202.46L875.66,215L875.73,228.69L875.81,243.53L875.88,259.49L875.95,276.46L876.02,294.23L876.1,312.47L876.17,330.68L876.24,348.24L876.31,364.37L876.38,378.19L876.46,388.85L876.53,390.9L876.6,390.9L876.7,382.14L876.8,342.64L876.9,294.82L877,250.04L877.1,212.82L877.2,183.5L877.3,160.86L877.4,143.42L877.5,129.9L877.6,119.31L877.7,110.93L877.8,104.2L877.9,98.75L878,94.27L878.1,90.56L878.2,87.46L878.3,84.84L878.4,82.61L878.5,80.69L878.6,79.04L878.7,77.61L878.8,76.35L878.9,75.25L879,74.28L879.1,73.41L879.2,72.64L879.3,71.95L879.4,71.33L879.5,70.78L879.6,70.27L879.7,69.81L879.8,69.4L879.9,69.02L880,68.67L880.1,68.35L880.2,68.05L880.3,67.78L880.4,67.53L880.5,67.3L880.6,67.09L880.7,66.89L880.8,66.7L880.9,66.53L881,66.37L881.1,66.22L881.2,66.08L881.3,65.94L881.4,65.82L881.5,65.7L881.6,65.59L881.7,65.49L881.8,65.39L881.9,65.3L882,65.21L882.1,65.13L882.2,65.05L882.3,64.98L882.4,64.9L882.5,64.84L882.6,64.77L882.7,64.71L882.8,64.66L882.9,64.6L883,64.55L883.1,64.5L883.2,64.45L883.3,64.4L883.4,64.36L883.5,64.32L883.6,64.28L883.7,64.24L883.8,64.2L883.9,64.17L884,64.13L884.1,64.1L884.2,64.07L884.3,64.04L884.4,64.01L884.5,63.98L884.6,63.96L884.7,63.93L884.8,63.91L884.9,63.88L885,63.86L885.1,63.84L885.2,63.81L885.3,63.79L885.4,63.77L885.5,63.75L885.6,63.74L885.7,63.72L885.8,63.7L885.9,63.68L886,63.67L886.1,63.65L886.2,63.63L886.3,63.62L886.4,63.6L886.5,63.59L886.6,63.58L886.7,63.56L886.8,63.55L886.9,63.54L887,63.53L887.1,63.51L887.2,63.5L887.3,63.49L887.4,63.48L887.5,63.47L887.6,63.46L887.7,63.45L887.8,63.44L887.9,63.43L888,63.42L888.1,63.41L888.2,63.4L888.3,63.39L888.4,63.39L888.5,63.38L888.6,63.37L888.7,63.36L888.8,63.36L888.9,63.35L889,63.34L889.1,63.33L889.2,63.33L889.3,63.32L889.4,63.31L889.5,63.31L889.6,63.3L889.7,63.29L889.8,63.29L889.9,63.28L890,63.28L890.1,63.27L890.2,63.27L890.3,63.26L890.4,63.26L890.5,63.25L890.6,63.25L890.7,63.24L890.8,63.24L890.9,63.23L891,63.23L891.1,63.22L891.2,63.22L891.3,63.21L891.4,63.21L891.5,63.21L891.6,63.2L891.7,63.2L891.8,63.19L891.9,63.19L892,63.19L892.1,63.18L892.2,63.18L892.3,63.17L892.4,63.17L892.5,63.17L892.6,63.16L892.7,63.16L892.8,63.16L892.9,63.16L893,63.15L893.1,63.15L893.2,63.15L893.3,63.14L893.4,63.14L893.5,63.14L893.6,63.13L893.7,63.13L893.8,63.13L893.9,63.13L894,63.12L894.1,63.12L894.2,63.12L894.3,63.12L894.4,63.11L894.5,63.11L894.6,63.11L894.7,63.11L894.8,63.1L894.9,63.1L895,63.1L895.1,63.1L895.2,63.1L895.3,63.09L895.4,63.09L895.5,63.09L895.6,63.09L895.7,63.09L895.8,63.08L895.9,63.08L896,63.08L896.1,63.08L896.2,63.08L896.3,63.07L896.4,63.07L896.5,63.07L896.6,63.07L896.7,63.07L896.8,63.07L896.9,63.06L897,63.06L897.1,63.06L897.2,63.06L897.3,63.06L897.4,63.06L897.5,63.06L897.6,63.05L897.7,63.05L897.8,63.05L897.9,63.05L898,63.05L898.1,63.05L898.2,63.05L898.3,63.04L898.4,63.04L898.5,63.04L898.6,63.04L898.7,63.04L898.8,63.04L898.9,63.04L899,63.04L899.1,63.03L899.2,63.03L899.3,63.03L899.4,63.03L899.5,63.03L899.6,63.03L899.7,63.03L899.8,63.03L899.9,63.02L900,63.02L900.1,63.02L900.2,63.02L900.3,63.02L900.4,63.02L900.5,63.02L900.6,63.02L900.7,63.02L900.8,63.02L900.9,63.01L901,63.01L901.1,63.01L901.2,63.01L901.3,63.01L901.4,63.01L901.5,63.01L901.6,63.01L901.7,63.01L901.8,63.01L901.9,63.01L902,63.01L902.1,63L902.2,63L902.3,63L902.4,63L902.5,63L902.6,63L902.7,63L902.8,63L902.9,63L903,63L903.1,63L903.2,63L903.3,63L903.4,62.99L903.5,62.99L903.6,62.99L903.7,62.99L903.8,62.99L903.9,62.99L904,62.99L904.1,62.99L904.2,62.99L904.3,62.99L904.4,62.99L904.5,62.99L904.6,62.99L904.7,62.99L904.8,62.99L904.9,62.98L905,62.98L905.1,62.98L905.2,62.98L905.3,62.98L905.4,62.98L905.5,62.98L905.6,62.98L905.7,62.98L905.8,62.98L905.9,62.98L906,62.98L906.1,62.98L906.2,62.98L906.3,62.98L906.4,62.98L906.5,62.98L1142.4,62.9" stroke="#1a78bb" stroke-width="1.7" fill="none" stroke-linejoin="round"/>
<rect x="636.8" y="29.6" width="505.6" height="401.3" fill="none" stroke="#262626" stroke-width="2.4"/>
<path d="M761.6,29.6v5.6M761.6,430.9v-5.6M890.2,29.6v5.6M890.2,430.9v-5.6M1018.2,29.6v5.6M1018.2,430.9v-5.6M636.8,62.9h5.6M1142.4,62.9h-5.6M636.8,129.9h5.6M1142.4,129.9h-5.6M636.8,196.9h5.6M1142.4,196.9h-5.6M636.8,263.9h5.6M1142.4,263.9h-5.6M636.8,330.9h5.6M1142.4,330.9h-5.6M636.8,397.9h5.6M1142.4,397.9h-5.6" stroke="#262626" stroke-width="2" fill="none"/>
<path d="M635.3,495.5H1142.4" stroke="#000" stroke-width="2" stroke-dasharray="2 7.83" fill="none"/>
<rect x="636.8" y="459.2" width="505.6" height="396.3" fill="none" stroke="#262626" stroke-width="2.4"/>
<path d="M761.6,459.2v5.6M761.6,855.5v-5.6M890.2,459.2v5.6M890.2,855.5v-5.6M1018.2,459.2v5.6M1018.2,855.5v-5.6M636.8,783.5h5.6M1142.4,783.5h-5.6M636.8,711.5h5.6M1142.4,711.5h-5.6M636.8,639.5h5.6M1142.4,639.5h-5.6M636.8,567.5h5.6M1142.4,567.5h-5.6M636.8,495.5h5.6M1142.4,495.5h-5.6" stroke="#262626" stroke-width="2" fill="none"/>
<path d="M636.8,855.5L762.65,855.45L762.75,855.45L762.85,855.45L762.95,855.45L763.05,855.44L763.15,855.44L763.25,855.44L763.35,855.44L763.45,855.44L763.55,855.43L763.65,855.43L763.75,855.43L763.85,855.42L763.95,855.42L764.05,855.42L764.15,855.41L764.25,855.41L764.35,855.41L764.45,855.4L764.55,855.4L764.65,855.39L764.75,855.38L764.85,855.38L764.95,855.37L765.05,855.36L765.15,855.36L765.25,855.35L765.35,855.34L765.45,855.33L765.55,855.32L765.65,855.31L765.75,855.29L765.85,855.28L765.95,855.26L766.05,855.24L766.15,855.22L766.25,855.2L766.35,855.17L766.45,855.14L766.55,855.1L766.65,855.06L766.75,855.01L766.85,854.96L766.95,854.89L767.05,854.82L767.15,854.72L767.25,854.61L767.35,854.46L767.45,854.29L767.55,854.06L767.65,853.75L767.75,853.35L767.85,852.78L767.95,851.95L768.05,850.69L768.15,848.62L768.25,844.86L768.35,837.03L768.45,816.5L768.55,744.39L768.65,744.39L768.67,744.39L768.68,744.39L768.7,792.04L768.71,817.7L768.73,831.16L768.74,838.92L768.76,843.74L768.77,846.88L768.79,849.01L768.81,850.47L768.82,851.49L768.84,852.16L768.85,852.58L768.87,852.78L768.88,852.78L768.9,852.58L768.91,852.16L768.93,851.49L768.94,850.47L768.96,849.01L768.98,846.88L768.99,843.74L769.01,838.92L769.02,831.16L769.04,817.7L769.05,792.04L769.07,737.45L769.08,663.26L769.1,663.26L769.12,663.26L769.13,736.98L769.15,791.53L769.16,817.17L769.18,830.63L769.19,838.39L769.21,843.2L769.22,846.35L769.24,848.48L769.26,849.94L769.27,850.95L769.29,851.63L769.3,852.05L769.32,852.25L769.33,852.25L769.35,852.05L769.36,851.63L769.38,850.95L769.39,849.94L769.41,848.48L769.43,846.35L769.44,843.2L769.46,838.39L769.47,830.63L769.49,817.17L769.5,791.53L769.52,736.98L769.53,639.69L769.55,639.69L769.57,639.69L769.58,736.51L769.6,791.01L769.61,816.65L769.63,830.1L769.64,837.86L769.66,842.67L769.67,845.81L769.69,847.94L769.71,849.41L769.72,850.42L769.74,851.1L769.75,851.52L769.77,851.72L769.78,851.72L769.8,851.52L769.81,851.1L769.83,850.42L769.84,849.41L769.86,847.94L769.88,845.81L769.89,842.67L769.91,837.86L769.92,830.1L769.94,816.65L769.95,791.01L769.97,736.51L769.98,639.69L770,639.69L770.02,639.69L770.03,736.51L770.05,791.01L770.07,816.65L770.09,830.1L770.1,837.86L770.12,842.67L770.14,845.81L770.16,847.94L770.17,849.41L770.19,850.42L770.21,851.1L770.22,851.52L770.24,851.72L770.26,851.72L770.28,851.52L770.29,851.1L770.31,850.42L770.33,849.41L770.34,847.94L770.36,845.81L770.38,842.67L770.4,837.86L770.41,830.1L770.43,816.65L770.45,791.01L770.47,736.51L770.48,639.69L770.5,639.69L770.53,639.69L770.57,736.27L770.6,790.75L770.64,816.38L770.67,829.83L770.71,837.59L770.74,842.4L770.78,845.55L770.81,847.67L770.84,849.14L770.88,850.15L770.91,850.83L770.95,851.25L770.98,851.45L771.02,851.45L771.05,851.25L771.09,850.83L771.12,850.15L771.16,849.14L771.19,847.67L771.22,845.55L771.26,842.4L771.29,837.59L771.33,829.83L771.36,816.38L771.4,790.75L771.43,736.27L771.47,618.78L771.5,543.3L771.57,578.4L771.65,685.99L771.72,752.97L771.8,789.82L771.87,810.83L771.95,823.58L772.02,831.76L772.09,837.28L772.17,841.14L772.24,843.93L772.32,845.99L772.39,847.54L772.47,848.71L772.54,849.6L772.62,850.28L772.69,850.77L772.76,851.12L772.84,851.35L772.91,851.46L772.99,851.46L773.06,851.35L773.14,851.12L773.21,850.77L773.28,850.28L773.36,849.6L773.43,848.71L773.51,847.54L773.58,845.99L773.66,843.93L773.73,841.14L773.81,837.28L773.88,831.76L773.95,823.58L774.03,810.83L774.1,789.82L774.18,752.97L774.25,685.99L774.33,578.4L774.4,536.31L774.47,536.31L774.55,570.6L774.62,625.09L774.69,673.98L774.76,713.14L774.84,743.07L774.91,765.67L774.98,782.77L775.05,795.84L775.13,805.97L775.2,813.93L775.27,820.26L775.34,825.36L775.42,829.53L775.49,832.96L775.56,835.82L775.63,838.22L775.71,840.25L775.78,841.98L775.85,843.47L775.92,844.75L776,845.87L776.07,846.83L776.14,847.68L776.22,848.42L776.29,849.07L776.36,849.65L776.43,850.15L776.51,850.6L776.58,850.99L776.65,851.33L776.72,851.63L776.8,851.89L776.87,852.12L776.94,852.32L777.01,852.48L777.09,852.62L777.16,852.72L777.23,852.81L777.3,852.87L777.38,852.9L777.45,852.91L777.52,852.9L777.6,852.87L777.67,852.81L777.74,852.72L777.81,852.62L777.89,852.48L777.96,852.32L778.03,852.12L778.1,851.89L778.18,851.63L778.25,851.33L778.32,850.99L778.39,850.6L778.47,850.15L778.54,849.65L778.61,849.07L778.68,848.42L778.76,847.68L778.83,846.83L778.9,845.87L778.98,844.75L779.05,843.47L779.12,841.98L779.19,840.25L779.27,838.22L779.34,835.82L779.41,832.96L779.48,829.53L779.56,825.36L779.63,820.26L779.7,813.93L779.77,805.97L779.85,795.84L779.92,782.77L779.99,765.67L780.06,743.07L780.14,713.14L780.21,673.98L780.28,625.09L780.35,570.6L780.43,523.72L780.5,512.58L780.57,547.9L780.65,630.94L780.72,700.3L780.79,746.82L780.87,776.75L780.94,796.32L781.02,809.54L781.09,818.76L781.16,825.4L781.24,830.32L781.31,834.03L781.38,836.9L781.46,839.15L781.53,840.94L781.6,842.38L781.68,843.54L781.75,844.49L781.82,845.27L781.9,845.91L781.97,846.42L782.05,846.84L782.12,847.17L782.19,847.42L782.27,847.6L782.34,847.72L782.41,847.78L782.49,847.78L782.56,847.72L782.63,847.6L782.71,847.42L782.78,847.17L782.85,846.84L782.93,846.42L783,845.91L783.08,845.27L783.15,844.49L783.22,843.54L783.3,842.38L783.37,840.94L783.44,839.15L783.52,836.9L783.59,834.03L783.66,830.32L783.74,825.4L783.81,818.76L783.88,809.54L783.96,796.32L784.03,776.75L784.11,746.82L784.18,700.3L784.25,630.94L784.33,547.9L784.4,512.58L784.47,543.97L784.55,621.9L784.62,689.55L784.69,736.31L784.76,767L784.84,787.34L784.91,801.19L784.98,810.91L785.05,817.95L785.13,823.17L785.2,827.13L785.27,830.2L785.35,832.61L785.42,834.53L785.49,836.08L785.56,837.34L785.64,838.38L785.71,839.23L785.78,839.93L785.85,840.5L785.93,840.97L786,841.36L786.07,841.66L786.15,841.89L786.22,842.06L786.29,842.17L786.36,842.23L786.44,842.23L786.51,842.17L786.58,842.06L786.65,841.89L786.73,841.66L786.8,841.36L786.87,840.97L786.95,840.5L787.02,839.93L787.09,839.23L787.16,838.38L787.24,837.34L787.31,836.08L787.38,834.53L787.45,832.61L787.53,830.2L787.6,827.13L787.67,823.17L787.75,817.95L787.82,810.91L787.89,801.19L787.96,787.34L788.04,767L788.11,736.31L788.18,689.55L788.25,621.9L788.33,543.97L788.4,508.25L788.47,517.53L788.54,551.36L788.62,594.72L788.69,637.94L788.76,675.97L788.83,707.37L788.91,732.55L788.98,752.52L789.05,768.37L789.12,781L789.2,791.16L789.27,799.39L789.34,806.13L789.41,811.69L789.48,816.33L789.56,820.23L789.63,823.53L789.7,826.35L789.77,828.77L789.85,830.86L789.92,832.67L789.99,834.26L790.06,835.65L790.13,836.87L790.21,837.96L790.28,838.92L790.35,839.78L790.42,840.54L790.5,841.23L790.57,841.84L790.64,842.39L790.71,842.88L790.79,843.33L790.86,843.73L790.93,844.09L791,844.41L791.07,844.71L791.15,844.97L791.22,845.2L791.29,845.41L791.36,845.59L791.44,845.75L791.51,845.89L791.58,846.01L791.65,846.11L791.72,846.2L791.8,846.26L791.87,846.31L791.94,846.34L792.01,846.36L792.09,846.36L792.16,846.34L792.23,846.31L792.3,846.26L792.38,846.2L792.45,846.11L792.52,846.01L792.59,845.89L792.66,845.75L792.74,845.59L792.81,845.41L792.88,845.2L792.95,844.97L793.03,844.71L793.1,844.41L793.17,844.09L793.24,843.73L793.31,843.33L793.39,842.88L793.46,842.39L793.53,841.84L793.6,841.23L793.68,840.54L793.75,839.78L793.82,838.92L793.89,837.96L793.97,836.87L794.04,835.65L794.11,834.26L794.18,832.67L794.25,830.86L794.33,828.77L794.4,826.35L794.47,823.53L794.54,820.23L794.62,816.33L794.69,811.69L794.76,806.13L794.83,799.39L794.9,791.16L794.98,781L795.05,768.37L795.12,752.52L795.19,732.55L795.27,707.37L795.34,675.97L795.41,637.94L795.48,594.72L795.56,551.36L795.63,517.53L795.7,508.25L795.77,516.79L795.84,548.97L795.92,590.85L795.99,633.32L796.06,671.28L796.13,703.07L796.21,728.86L796.28,749.5L796.35,766L796.42,779.23L796.5,789.91L796.57,798.6L796.64,805.74L796.71,811.65L796.79,816.59L796.86,820.75L796.93,824.28L797,827.29L797.08,829.88L797.15,832.13L797.22,834.08L797.29,835.78L797.36,837.28L797.44,838.6L797.51,839.77L797.58,840.81L797.65,841.74L797.73,842.56L797.8,843.31L797.87,843.97L797.94,844.58L798.02,845.12L798.09,845.61L798.16,846.05L798.23,846.44L798.31,846.8L798.38,847.13L798.45,847.42L798.52,847.69L798.6,847.93L798.67,848.14L798.74,848.33L798.81,848.5L798.88,848.64L798.96,848.77L799.03,848.88L799.1,848.98L799.17,849.05L799.25,849.12L799.32,849.16L799.39,849.19L799.46,849.21L799.54,849.21L799.61,849.19L799.68,849.16L799.75,849.12L799.83,849.05L799.9,848.98L799.97,848.88L800.04,848.77L800.12,848.64L800.19,848.5L800.26,848.33L800.33,848.14L800.4,847.93L800.48,847.69L800.55,847.42L800.62,847.13L800.69,846.8L800.77,846.44L800.84,846.05L800.91,845.61L800.98,845.12L801.06,844.58L801.13,843.97L801.2,843.31L801.27,842.56L801.35,841.74L801.42,840.81L801.49,839.77L801.56,838.6L801.64,837.28L801.71,835.78L801.78,834.08L801.85,832.13L801.92,829.88L802,827.29L802.07,824.28L802.14,820.75L802.21,816.59L802.29,811.65L802.36,805.74L802.43,798.6L802.5,789.91L802.58,779.23L802.65,766L802.72,749.5L802.79,728.86L802.87,703.07L802.94,671.28L803.01,633.32L803.08,590.85L803.16,548.97L803.23,516.79L803.3,506.38L803.37,513.89L803.44,539.22L803.52,573.9L803.59,611.22L803.66,646.57L803.73,677.74L803.81,704.16L803.88,726.09L803.95,744.14L804.02,758.96L804.09,771.16L804.17,781.25L804.24,789.64L804.31,796.67L804.38,802.6L804.46,807.63L804.53,811.92L804.6,815.62L804.67,818.81L804.75,821.59L804.82,824.01L804.89,826.14L804.96,828.02L805.03,829.68L805.11,831.16L805.18,832.48L805.25,833.66L805.32,834.72L805.4,835.67L805.47,836.54L805.54,837.32L805.61,838.02L805.68,838.66L805.76,839.25L805.83,839.78L805.9,840.27L805.97,840.71L806.05,841.12L806.12,841.49L806.19,841.83L806.26,842.14L806.34,842.42L806.41,842.68L806.48,842.91L806.55,843.13L806.62,843.32L806.7,843.5L806.77,843.66L806.84,843.8L806.91,843.93L806.99,844.04L807.06,844.14L807.13,844.23L807.2,844.3L807.27,844.36L807.35,844.41L807.42,844.44L807.49,844.46L807.56,844.48L807.64,844.48L807.71,844.46L807.78,844.44L807.85,844.41L807.93,844.36L808,844.3L808.07,844.23L808.14,844.14L808.21,844.04L808.29,843.93L808.36,843.8L808.43,843.66L808.5,843.5L808.58,843.32L808.65,843.13L808.72,842.91L808.79,842.68L808.86,842.42L808.94,842.14L809.01,841.83L809.08,841.49L809.15,841.12L809.23,840.71L809.3,840.27L809.37,839.78L809.44,839.25L809.52,838.66L809.59,838.02L809.66,837.32L809.73,836.54L809.8,835.67L809.88,834.72L809.95,833.66L810.02,832.48L810.09,831.16L810.17,829.68L810.24,828.02L810.31,826.14L810.38,824.01L810.45,821.59L810.53,818.81L810.6,815.62L810.67,811.92L810.74,807.63L810.82,802.6L810.89,796.67L810.96,789.64L811.03,781.25L811.11,771.16L811.18,758.96L811.25,744.14L811.32,726.09L811.39,704.16L811.47,677.74L811.54,646.57L811.61,611.22L811.68,573.9L811.76,539.22L811.83,513.89L811.9,507.01L811.97,518.68L812.05,554.95L812.12,600.33L812.19,644.35L812.26,682.11L812.34,712.64L812.41,736.71L812.48,755.54L812.55,770.33L812.63,782.01L812.7,791.34L812.77,798.86L812.84,804.99L812.92,810.03L812.99,814.22L813.06,817.73L813.13,820.7L813.21,823.22L813.28,825.38L813.35,827.25L813.43,828.87L813.5,830.28L813.57,831.51L813.64,832.6L813.72,833.55L813.79,834.4L813.86,835.15L813.93,835.82L814.01,836.42L814.08,836.95L814.15,837.43L814.22,837.86L814.3,838.24L814.37,838.58L814.44,838.88L814.51,839.15L814.59,839.39L814.66,839.6L814.73,839.78L814.81,839.94L814.88,840.08L814.95,840.19L815.02,840.29L815.1,840.36L815.17,840.42L815.24,840.46L815.31,840.47L815.39,840.47L815.46,840.46L815.53,840.42L815.6,840.36L815.68,840.29L815.75,840.19L815.82,840.08L815.89,839.94L815.97,839.78L816.04,839.6L816.11,839.39L816.19,839.15L816.26,838.88L816.33,838.58L816.4,838.24L816.48,837.86L816.55,837.43L816.62,836.95L816.69,836.42L816.77,835.82L816.84,835.15L816.91,834.4L816.98,833.55L817.06,832.6L817.13,831.51L817.2,830.28L817.27,828.87L817.35,827.25L817.42,825.38L817.49,823.22L817.57,820.7L817.64,817.73L817.71,814.22L817.78,810.03L817.86,804.99L817.93,798.86L818,791.34L818.07,782.01L818.15,770.33L818.22,755.54L818.29,736.71L818.36,712.64L818.44,682.11L818.51,644.35L818.58,600.33L818.65,554.95L818.73,518.68L818.8,507.01L818.87,508.85L818.94,521.29L819.02,540.14L819.09,563.23L819.16,588.37L819.23,613.8L819.3,638.24L819.38,660.96L819.45,681.57L819.52,700L819.59,716.3L819.66,730.65L819.74,743.23L819.81,754.26L819.88,763.93L819.95,772.41L820.03,779.88L820.1,786.46L820.17,792.28L820.24,797.44L820.31,802.03L820.39,806.13L820.46,809.79L820.53,813.09L820.6,816.05L820.67,818.72L820.75,821.14L820.82,823.34L820.89,825.34L820.96,827.16L821.03,828.82L821.11,830.35L821.18,831.75L821.25,833.03L821.32,834.22L821.39,835.31L821.47,836.32L821.54,837.26L821.61,838.13L821.68,838.94L821.75,839.69L821.83,840.39L821.9,841.04L821.97,841.65L822.04,842.22L822.12,842.75L822.19,843.25L822.26,843.71L822.33,844.15L822.4,844.56L822.48,844.95L822.55,845.31L822.62,845.65L822.69,845.98L822.76,846.28L822.84,846.56L822.91,846.83L822.98,847.08L823.05,847.32L823.12,847.55L823.2,847.76L823.27,847.96L823.34,848.14L823.41,848.32L823.48,848.49L823.56,848.64L823.63,848.79L823.7,848.93L823.77,849.06L823.84,849.18L823.92,849.29L823.99,849.4L824.06,849.5L824.13,849.59L824.21,849.67L824.28,849.75L824.35,849.82L824.42,849.89L824.49,849.95L824.57,850L824.64,850.05L824.71,850.09L824.78,850.13L824.85,850.16L824.93,850.18L825,850.2L825.07,850.22L825.14,850.23L825.21,850.24L825.29,850.24L825.36,850.23L825.43,850.22L825.5,850.2L825.57,850.18L825.65,850.16L825.72,850.13L825.79,850.09L825.86,850.05L825.93,850L826.01,849.95L826.08,849.89L826.15,849.82L826.22,849.75L826.29,849.67L826.37,849.59L826.44,849.5L826.51,849.4L826.58,849.29L826.66,849.18L826.73,849.06L826.8,848.93L826.87,848.79L826.94,848.64L827.02,848.49L827.09,848.32L827.16,848.14L827.23,847.96L827.3,847.76L827.38,847.55L827.45,847.32L827.52,847.08L827.59,846.83L827.66,846.56L827.74,846.28L827.81,845.98L827.88,845.65L827.95,845.31L828.02,844.95L828.1,844.56L828.17,844.15L828.24,843.71L828.31,843.25L828.38,842.75L828.46,842.22L828.53,841.65L828.6,841.04L828.67,840.39L828.75,839.69L828.82,838.94L828.89,838.13L828.96,837.26L829.03,836.32L829.11,835.31L829.18,834.22L829.25,833.03L829.32,831.75L829.39,830.35L829.47,828.82L829.54,827.16L829.61,825.34L829.68,823.34L829.75,821.14L829.83,818.72L829.9,816.05L829.97,813.09L830.04,809.79L830.11,806.13L830.19,802.03L830.26,797.44L830.33,792.28L830.4,786.46L830.47,779.88L830.55,772.41L830.62,763.93L830.69,754.26L830.76,743.23L830.84,730.65L830.91,716.3L830.98,700L831.05,681.57L831.12,660.96L831.2,638.24L831.27,613.8L831.34,588.37L831.41,563.23L831.48,540.14L831.56,521.29L831.63,508.85L831.7,507.01L831.77,515.53L831.84,544.75L831.92,583.5L831.99,623.66L832.06,660.33L832.13,691.6L832.21,717.35L832.28,738.23L832.35,755.08L832.42,768.71L832.5,779.78L832.57,788.84L832.64,796.31L832.71,802.52L832.79,807.73L832.86,812.12L832.93,815.85L833,819.05L833.08,821.81L833.15,824.19L833.22,826.27L833.29,828.09L833.37,829.69L833.44,831.11L833.51,832.36L833.58,833.48L833.66,834.48L833.73,835.37L833.8,836.17L833.87,836.89L833.95,837.54L834.02,838.13L834.09,838.66L834.16,839.14L834.24,839.58L834.31,839.97L834.38,840.33L834.45,840.65L834.53,840.95L834.6,841.22L834.67,841.46L834.74,841.67L834.82,841.87L834.89,842.04L834.96,842.2L835.03,842.33L835.11,842.45L835.18,842.55L835.25,842.64L835.32,842.71L835.4,842.77L835.47,842.81L835.54,842.84L835.61,842.85L835.69,842.85L835.76,842.84L835.83,842.81L835.9,842.77L835.98,842.71L836.05,842.64L836.12,842.55L836.19,842.45L836.27,842.33L836.34,842.2L836.41,842.04L836.48,841.87L836.56,841.67L836.63,841.46L836.7,841.22L836.77,840.95L836.85,840.65L836.92,840.33L836.99,839.97L837.06,839.58L837.14,839.14L837.21,838.66L837.28,838.13L837.35,837.54L837.43,836.89L837.5,836.17L837.57,835.37L837.64,834.48L837.72,833.48L837.79,832.36L837.86,831.11L837.93,829.69L838.01,828.09L838.08,826.27L838.15,824.19L838.22,821.81L838.3,819.05L838.37,815.85L838.44,812.12L838.51,807.73L838.59,802.52L838.66,796.31L838.73,788.84L838.8,779.78L838.88,768.71L838.95,755.08L839.02,738.23L839.09,717.35L839.17,691.6L839.24,660.33L839.31,623.66L839.38,583.5L839.46,544.75L839.53,515.53L839.6,509.29L839.67,509.29L839.74,520.37L839.82,538.31L839.89,560.43L839.96,584.74L840.03,609.52L840.1,633.57L840.18,656.09L840.25,676.7L840.32,695.24L840.39,711.75L840.46,726.36L840.53,739.23L840.61,750.56L840.68,760.53L840.75,769.31L840.82,777.05L840.89,783.9L840.97,789.97L841.04,795.36L841.11,800.17L841.18,804.46L841.25,808.31L841.33,811.77L841.4,814.89L841.47,817.71L841.54,820.26L841.61,822.58L841.68,824.69L841.76,826.62L841.83,828.38L841.9,829.99L841.97,831.47L842.04,832.84L842.12,834.1L842.19,835.26L842.26,836.33L842.33,837.33L842.4,838.25L842.48,839.11L842.55,839.91L842.62,840.66L842.69,841.35L842.76,842L842.84,842.61L842.91,843.18L842.98,843.71L843.05,844.21L843.12,844.68L843.19,845.12L843.27,845.53L843.34,845.92L843.41,846.29L843.48,846.64L843.55,846.96L843.63,847.27L843.7,847.56L843.77,847.83L843.84,848.09L843.91,848.33L843.99,848.56L844.06,848.78L844.13,848.99L844.2,849.18L844.27,849.36L844.34,849.53L844.42,849.7L844.49,849.85L844.56,849.99L844.63,850.13L844.7,850.26L844.78,850.38L844.85,850.49L844.92,850.59L844.99,850.69L845.06,850.78L845.14,850.87L845.21,850.95L845.28,851.02L845.35,851.09L845.42,851.15L845.5,851.2L845.57,851.25L845.64,851.3L845.71,851.34L845.78,851.37L845.85,851.4L845.93,851.42L846,851.44L846.07,851.46L846.14,851.47L846.21,851.47L846.29,851.47L846.36,851.47L846.43,851.46L846.5,851.44L846.57,851.42L846.65,851.4L846.72,851.37L846.79,851.34L846.86,851.3L846.93,851.25L847,851.2L847.08,851.15L847.15,851.09L847.22,851.02L847.29,850.95L847.36,850.87L847.44,850.78L847.51,850.69L847.58,850.59L847.65,850.49L847.72,850.38L847.8,850.26L847.87,850.13L847.94,849.99L848.01,849.85L848.08,849.7L848.16,849.53L848.23,849.36L848.3,849.18L848.37,848.99L848.44,848.78L848.51,848.56L848.59,848.33L848.66,848.09L848.73,847.83L848.8,847.56L848.87,847.27L848.95,846.96L849.02,846.64L849.09,846.29L849.16,845.92L849.23,845.53L849.31,845.12L849.38,844.68L849.45,844.21L849.52,843.71L849.59,843.18L849.66,842.61L849.74,842L849.81,841.35L849.88,840.66L849.95,839.91L850.02,839.11L850.1,838.25L850.17,837.33L850.24,836.33L850.31,835.26L850.38,834.1L850.46,832.84L850.53,831.47L850.6,829.99L850.67,828.38L850.74,826.62L850.82,824.69L850.89,822.58L850.96,820.26L851.03,817.71L851.1,814.89L851.17,811.77L851.25,808.31L851.32,804.46L851.39,800.17L851.46,795.36L851.53,789.97L851.61,783.9L851.68,777.05L851.75,769.31L851.82,760.53L851.89,750.56L851.97,739.23L852.04,726.36L852.11,711.75L852.18,695.24L852.25,676.7L852.32,656.09L852.4,633.57L852.47,609.52L852.54,584.74L852.61,560.43L852.68,538.31L852.76,520.37L852.83,508.61L852.9,507.01L852.97,510.18L853.04,526.16L853.12,549.76L853.19,577.65L853.26,606.86L853.33,635.2L853.4,661.4L853.48,684.86L853.55,705.46L853.62,723.35L853.69,738.77L853.76,752.03L853.84,763.45L853.91,773.28L853.98,781.77L854.05,789.12L854.12,795.52L854.2,801.11L854.27,806.01L854.34,810.32L854.41,814.13L854.48,817.5L854.56,820.51L854.63,823.19L854.7,825.59L854.77,827.76L854.84,829.7L854.92,831.47L854.99,833.06L855.06,834.51L855.13,835.84L855.2,837.05L855.28,838.15L855.35,839.17L855.42,840.1L855.49,840.96L855.56,841.75L855.64,842.48L855.71,843.15L855.78,843.78L855.85,844.36L855.92,844.9L855.99,845.4L856.07,845.86L856.14,846.3L856.21,846.7L856.28,847.08L856.35,847.43L856.43,847.76L856.5,848.07L856.57,848.36L856.64,848.62L856.71,848.87L856.79,849.11L856.86,849.33L856.93,849.53L857,849.72L857.07,849.9L857.15,850.07L857.22,850.22L857.29,850.36L857.36,850.49L857.43,850.62L857.51,850.73L857.58,850.83L857.65,850.93L857.72,851.01L857.79,851.09L857.87,851.16L857.94,851.23L858.01,851.28L858.08,851.33L858.15,851.37L858.23,851.4L858.3,851.43L858.37,851.45L858.44,851.47L858.51,851.47L858.59,851.47L858.66,851.47L858.73,851.45L858.8,851.43L858.87,851.4L858.95,851.37L859.02,851.33L859.09,851.28L859.16,851.23L859.23,851.16L859.31,851.09L859.38,851.01L859.45,850.93L859.52,850.83L859.59,850.73L859.67,850.62L859.74,850.49L859.81,850.36L859.88,850.22L859.95,850.07L860.03,849.9L860.1,849.72L860.17,849.53L860.24,849.33L860.31,849.11L860.39,848.87L860.46,848.62L860.53,848.36L860.6,848.07L860.67,847.76L860.75,847.43L860.82,847.08L860.89,846.7L860.96,846.3L861.03,845.86L861.11,845.4L861.18,844.9L861.25,844.36L861.32,843.78L861.39,843.15L861.46,842.48L861.54,841.75L861.61,840.96L861.68,840.1L861.75,839.17L861.82,838.15L861.9,837.05L861.97,835.84L862.04,834.51L862.11,833.06L862.18,831.47L862.26,829.7L862.33,827.76L862.4,825.59L862.47,823.19L862.54,820.51L862.62,817.5L862.69,814.13L862.76,810.32L862.83,806.01L862.9,801.11L862.98,795.52L863.05,789.12L863.12,781.77L863.19,773.28L863.26,763.45L863.34,752.03L863.41,738.77L863.48,723.35L863.55,705.46L863.62,684.86L863.7,661.4L863.77,635.2L863.84,606.86L863.91,577.65L863.98,549.76L864.06,526.16L864.13,513.6L864.2,513.6L864.27,513.6L864.34,522.96L864.42,543.5L864.49,568.37L864.56,595.12L864.63,621.82L864.7,647.15L864.78,670.4L864.85,691.28L864.92,709.75L864.99,725.95L865.07,740.09L865.14,752.41L865.21,763.15L865.28,772.51L865.35,780.69L865.43,787.85L865.5,794.15L865.57,799.7L865.64,804.61L865.71,808.97L865.79,812.85L865.86,816.31L865.93,819.42L866,822.21L866.07,824.72L866.15,826.99L866.22,829.05L866.29,830.92L866.36,832.63L866.43,834.18L866.51,835.61L866.58,836.91L866.65,838.11L866.72,839.22L866.8,840.23L866.87,841.18L866.94,842.05L867.01,842.85L867.08,843.6L867.16,844.3L867.23,844.94L867.3,845.55L867.37,846.11L867.44,846.64L867.52,847.13L867.59,847.59L867.66,848.02L867.73,848.42L867.8,848.8L867.88,849.15L867.95,849.48L868.02,849.8L868.09,850.09L868.17,850.37L868.24,850.62L868.31,850.87L868.38,851.1L868.45,851.31L868.53,851.51L868.6,851.7L868.67,851.88L868.74,852.05L868.81,852.21L868.89,852.35L868.96,852.49L869.03,852.62L869.1,852.74L869.17,852.85L869.25,852.95L869.32,853.05L869.39,853.14L869.46,853.22L869.53,853.3L869.61,853.36L869.68,853.42L869.75,853.48L869.82,853.53L869.9,853.57L869.97,853.61L870.04,853.64L870.11,853.66L870.18,853.68L870.26,853.7L870.33,853.71L870.4,853.71L870.47,853.71L870.54,853.7L870.62,853.68L870.69,853.66L870.76,853.64L870.83,853.61L870.9,853.57L870.98,853.53L871.05,853.48L871.12,853.42L871.19,853.36L871.27,853.3L871.34,853.22L871.41,853.14L871.48,853.05L871.55,852.95L871.63,852.85L871.7,852.74L871.77,852.62L871.84,852.49L871.91,852.35L871.99,852.21L872.06,852.05L872.13,851.88L872.2,851.7L872.27,851.51L872.35,851.31L872.42,851.1L872.49,850.87L872.56,850.62L872.63,850.37L872.71,850.09L872.78,849.8L872.85,849.48L872.92,849.15L873,848.8L873.07,848.42L873.14,848.02L873.21,847.59L873.28,847.13L873.36,846.64L873.43,846.11L873.5,845.55L873.57,844.94L873.64,844.3L873.72,843.6L873.79,842.85L873.86,842.05L873.93,841.18L874,840.23L874.08,839.22L874.15,838.11L874.22,836.91L874.29,835.61L874.37,834.18L874.44,832.63L874.51,830.92L874.58,829.05L874.65,826.99L874.73,824.72L874.8,822.21L874.87,819.42L874.94,816.31L875.01,812.85L875.09,808.97L875.16,804.61L875.23,799.7L875.3,794.15L875.37,787.85L875.45,780.69L875.52,772.51L875.59,763.15L875.66,752.41L875.73,740.09L875.81,725.95L875.88,709.75L875.95,691.28L876.02,670.4L876.1,647.15L876.17,621.82L876.24,595.12L876.31,568.37L876.38,543.5L876.46,522.96L876.53,518.87L876.6,518.87L876.7,536.05L876.8,603.9L876.9,669.68L877,719.47L877.1,754.32L877.2,778.45L877.3,795.39L877.4,807.56L877.5,816.5L877.6,823.23L877.7,828.4L877.8,832.44L877.9,835.66L878,838.26L878.1,840.39L878.2,842.15L878.3,843.62L878.4,844.86L878.5,845.92L878.6,846.83L878.7,847.62L878.8,848.31L878.9,848.91L879,849.44L879.1,849.9L879.2,850.32L879.3,850.69L879.4,851.02L879.5,851.32L879.6,851.6L879.7,851.84L879.8,852.06L879.9,852.27L880,852.45L880.1,852.62L880.2,852.78L880.3,852.92L880.4,853.06L880.5,853.18L880.6,853.29L880.7,853.4L880.8,853.5L880.9,853.59L881,853.67L881.1,853.75L881.2,853.83L881.3,853.9L881.4,853.96L881.5,854.03L881.6,854.08L881.7,854.14L881.8,854.19L881.9,854.24L882,854.29L882.1,854.33L882.2,854.37L882.3,854.41L882.4,854.45L882.5,854.48L882.6,854.52L882.7,854.55L882.8,854.58L882.9,854.61L883,854.63L883.1,854.66L883.2,854.69L883.3,854.71L883.4,854.73L883.5,854.76L883.6,854.78L883.7,854.8L883.8,854.82L883.9,854.83L884,854.85L884.1,854.87L884.2,854.89L884.3,854.9L884.4,854.92L884.5,854.93L884.6,854.95L884.7,854.96L884.8,854.97L884.9,854.98L885,855L885.1,855.01L885.2,855.02L885.3,855.03L885.4,855.04L885.5,855.05L885.6,855.06L885.7,855.07L885.8,855.08L885.9,855.09L886,855.1L886.1,855.11L886.2,855.11L886.3,855.12L886.4,855.13L886.5,855.14L886.6,855.14L886.7,855.15L886.8,855.16L886.9,855.17L887,855.17L887.1,855.18L887.2,855.18L887.3,855.19L887.4,855.2L887.5,855.2L887.6,855.21L887.7,855.21L887.8,855.22L887.9,855.22L888,855.23L888.1,855.23L888.2,855.24L888.3,855.24L888.4,855.24L888.5,855.25L888.6,855.25L888.7,855.26L888.8,855.26L888.9,855.27L889,855.27L889.1,855.27L889.2,855.28L889.3,855.28L889.4,855.28L889.5,855.29L889.6,855.29L889.7,855.29L889.8,855.3L889.9,855.3L890,855.3L890.1,855.31L890.2,855.31L890.3,855.31L890.4,855.31L890.5,855.32L890.6,855.32L890.7,855.32L890.8,855.32L890.9,855.33L891,855.33L891.1,855.33L891.2,855.33L891.3,855.34L891.4,855.34L891.5,855.34L891.6,855.34L891.7,855.34L891.8,855.35L891.9,855.35L892,855.35L892.1,855.35L892.2,855.35L892.3,855.36L892.4,855.36L892.5,855.36L892.6,855.36L892.7,855.36L892.8,855.36L892.9,855.37L893,855.37L893.1,855.37L893.2,855.37L893.3,855.37L893.4,855.37L893.5,855.38L893.6,855.38L893.7,855.38L893.8,855.38L893.9,855.38L894,855.38L894.1,855.38L894.2,855.39L894.3,855.39L894.4,855.39L894.5,855.39L894.6,855.39L894.7,855.39L894.8,855.39L894.9,855.39L895,855.4L895.1,855.4L895.2,855.4L895.3,855.4L895.4,855.4L895.5,855.4L895.6,855.4L895.7,855.4L895.8,855.4L895.9,855.4L896,855.41L896.1,855.41L896.2,855.41L896.3,855.41L896.4,855.41L896.5,855.41L896.6,855.41L896.7,855.41L896.8,855.41L896.9,855.41L897,855.41L897.1,855.42L897.2,855.42L897.3,855.42L897.4,855.42L897.5,855.42L897.6,855.42L897.7,855.42L897.8,855.42L897.9,855.42L898,855.42L898.1,855.42L898.2,855.42L898.3,855.42L898.4,855.43L898.5,855.43L898.6,855.43L898.7,855.43L898.8,855.43L898.9,855.43L899,855.43L899.1,855.43L899.2,855.43L899.3,855.43L899.4,855.43L899.5,855.43L899.6,855.43L899.7,855.43L899.8,855.43L899.9,855.43L900,855.44L900.1,855.44L900.2,855.44L900.3,855.44L900.4,855.44L900.5,855.44L900.6,855.44L900.7,855.44L900.8,855.44L900.9,855.44L901,855.44L901.1,855.44L901.2,855.44L901.3,855.44L901.4,855.44L901.5,855.44L901.6,855.44L901.7,855.44L901.8,855.44L901.9,855.44L902,855.44L902.1,855.45L902.2,855.45L902.3,855.45L902.4,855.45L902.5,855.45L902.6,855.45L902.7,855.45L902.8,855.45L902.9,855.45L903,855.45L903.1,855.45L903.2,855.45L903.3,855.45L903.4,855.45L903.5,855.45L903.6,855.45L903.7,855.45L903.8,855.45L903.9,855.45L904,855.45L904.1,855.45L904.2,855.45L904.3,855.45L904.4,855.45L904.5,855.45L904.6,855.45L904.7,855.45L904.8,855.46L904.9,855.46L905,855.46L905.1,855.46L905.2,855.46L905.3,855.46L905.4,855.46L905.5,855.46L905.6,855.46L905.7,855.46L905.8,855.46L905.9,855.46L906,855.46L906.1,855.46L906.2,855.46L906.3,855.46L906.4,855.46L906.5,855.46L1142.4,855.5" stroke="#1a78bb" stroke-width="1.7" fill="none" stroke-linejoin="round"/>
<text transform="translate(761.9,891.2) scale(0.87,1)" font-family="'Liberation Sans', sans-serif" font-size="27.7" font-weight="bold" font-style="normal" text-anchor="middle" fill="#262626">-5</text>
<text transform="translate(890,891.2) scale(0.87,1)" font-family="'Liberation Sans', sans-serif" font-size="27.7" font-weight="bold" font-style="normal" text-anchor="middle" fill="#262626">0</text>
<text transform="translate(1018.2,891.2) scale(0.87,1)" font-family="'Liberation Sans', sans-serif" font-size="27.7" font-weight="bold" font-style="normal" text-anchor="middle" fill="#262626">5</text>
<text y="147" font-family="'Liberation Sans', 'Noto Sans CJK JP', sans-serif" font-size="41" font-weight="300" fill="#000"><tspan x="112.6">（</tspan><tspan x="178.8">）</tspan></text>
<text transform="translate(164.85,143.7) scale(0.77,1)" font-family="'Liberation Sans', 'Noto Sans CJK JP', sans-serif" font-size="44" text-anchor="middle" fill="#000" stroke="#000" stroke-width="0.46">a</text>
<text y="146" font-family="'Liberation Sans', 'Noto Sans CJK JP', sans-serif" font-size="41" font-weight="300" fill="#000"><tspan x="659.65">（</tspan><tspan x="727.9">）</tspan></text>
<text transform="translate(714.7,142.7) scale(1,1)" font-family="'Liberation Sans', 'Noto Sans CJK JP', sans-serif" font-size="44" text-anchor="middle" fill="#000" stroke="#000" stroke-width="0.3">b</text>
<text y="547.9" font-family="'Liberation Sans', 'Noto Sans CJK JP', sans-serif" font-size="41" font-weight="300" fill="#000"><tspan x="116.3">（</tspan><tspan x="181.65">）</tspan></text>
<text transform="translate(169.45,544.6) scale(0.92,1)" font-family="'Liberation Sans', 'Noto Sans CJK JP', sans-serif" font-size="44" text-anchor="middle" fill="#000" stroke="#000" stroke-width="0.36">c</text>
<text y="547.9" font-family="'Liberation Sans', 'Noto Sans CJK JP', sans-serif" font-size="41" font-weight="300" fill="#000"><tspan x="662.6">（</tspan><tspan x="730.75">）</tspan></text>
<text transform="translate(716.25,544.6) scale(1,1)" font-family="'Liberation Sans', 'Noto Sans CJK JP', sans-serif" font-size="44" text-anchor="middle" fill="#000" stroke="#000" stroke-width="0.3">d</text>
<text y="143" font-family="'Liberation Sans', 'Noto Sans CJK JP', sans-serif" font-size="41" font-weight="300" fill="#000"><tspan x="1181.5">（</tspan><tspan x="1247.5">）</tspan></text>
<text transform="translate(1234.8,139.7) scale(0.88,1)" font-family="'Liberation Sans', 'Noto Sans CJK JP', sans-serif" font-size="44" text-anchor="middle" fill="#000" stroke="#000" stroke-width="0.38">e</text>
<text y="542.6" font-family="'Liberation Sans', 'Noto Sans CJK JP', sans-serif" font-size="41" font-weight="300" fill="#000"><tspan x="1186.5">（</tspan><tspan x="1243">）</tspan></text>
<text transform="translate(1235.45,539.3) scale(1,1)" font-family="'Liberation Sans', 'Noto Sans CJK JP', sans-serif" font-size="44" text-anchor="middle" fill="#000" stroke="#000" stroke-width="0.3">f</text>
<g transform="translate(35.2,275.5) rotate(-90)">
<text x="0" y="0" font-family="'Liberation Serif', serif" font-size="37.5" font-style="italic" fill="#111" stroke="#111" stroke-width="0.4"><tspan>G</tspan><tspan dx="2">(</tspan><tspan dx="1">e</tspan><tspan dy="-12" font-size="25" dx="2">2</tspan><tspan dy="12" dx="3">/</tspan><tspan dx="3">h</tspan><tspan dx="2">)</tspan></text>
</g>
<g transform="translate(28.5,672) rotate(-90)">
<text x="0" y="0" font-family="'Liberation Serif', serif" font-size="44" font-style="italic" fill="#111" stroke="#111" stroke-width="0.4"><tspan>P</tspan><tspan dy="9" dx="-2.5" font-size="32">y</tspan></text>
</g>
<text x="343" y="939" font-family="'Liberation Serif', serif" font-size="37" font-style="italic" fill="#111" stroke="#111" stroke-width="0.5"><tspan>V</tspan><tspan dy="7" dx="-7.5" font-size="27">g</tspan></text>
<text font-family="'Liberation Serif', serif" font-size="37" fill="#111" stroke="#111" stroke-width="0.4"><tspan x="833.5" y="938.5" font-style="italic">V</tspan><tspan x="846.5" y="945.5" font-style="italic" font-size="27">g</tspan><tspan x="873.4" y="940.3" font-size="46">×</tspan><tspan x="908.5" y="938.5">10</tspan><tspan x="948.8" y="925.3" font-size="24">4</tspan></text>
<clipPath id="fs"><path d="M1421.03,248L1421.62,239.8L1422.2,236.41L1422.78,233.82L1423.36,231.64L1423.94,229.72L1424.53,227.99L1425.11,226.4L1425.69,224.93L1426.27,223.55L1426.86,222.25L1427.44,221.01L1428.02,219.84L1428.6,218.71L1429.18,217.63L1429.77,216.59L1430.35,215.59L1430.93,214.63L1431.51,213.69L1432.1,212.79L1432.68,211.91L1433.26,211.05L1433.84,210.22L1434.42,209.42L1435.01,208.63L1435.59,207.86L1436.17,207.11L1436.75,206.38L1437.34,205.66L1437.92,204.97L1438.5,204.28L1439.08,203.61L1439.66,202.96L1440.25,202.32L1440.83,201.69L1441.41,201.08L1441.99,200.48L1442.58,199.89L1443.16,199.31L1443.74,198.74L1444.32,198.18L1444.9,197.64L1445.49,197.1L1446.07,196.58L1446.65,196.06L1447.23,195.56L1447.82,195.06L1448.4,194.57L1448.98,194.1L1449.56,193.63L1450.14,193.17L1450.73,192.71L1451.31,192.27L1451.89,191.84L1452.47,191.41L1453.06,190.99L1453.64,190.58L1454.22,190.18L1454.8,189.78L1455.38,189.39L1455.97,189.01L1456.55,188.64L1457.13,188.28L1457.71,187.92L1458.3,187.57L1458.88,187.22L1459.46,186.89L1460.04,186.56L1460.62,186.23L1461.21,185.92L1461.79,185.61L1462.37,185.31L1462.95,185.01L1463.54,184.72L1464.12,184.44L1464.7,184.16L1465.28,183.89L1465.86,183.63L1466.45,183.37L1467.03,183.12L1467.61,182.88L1468.19,182.64L1468.78,182.41L1469.36,182.19L1469.94,181.97L1470.52,181.76L1471.1,181.55L1471.69,181.35L1472.27,181.16L1472.85,180.97L1473.43,180.79L1474.02,180.61L1474.6,180.45L1475.18,180.28L1475.76,180.13L1476.34,179.97L1476.93,179.83L1477.51,179.69L1478.09,179.56L1478.67,179.43L1479.26,179.31L1479.84,179.19L1480.42,179.09L1481,178.98L1481.58,178.89L1482.17,178.79L1482.75,178.71L1483.33,178.63L1483.91,178.56L1484.5,178.49L1485.08,178.43L1485.66,178.37L1486.24,178.32L1486.82,178.28L1487.41,178.24L1487.99,178.21L1488.57,178.18L1489.15,178.16L1489.74,178.15L1490.32,178.14L1490.9,178.13L1491.48,178.14L1492.06,178.15L1492.65,178.16L1493.23,178.18L1493.81,178.21L1494.39,178.24L1494.98,178.28L1495.56,178.32L1496.14,178.37L1496.72,178.43L1497.3,178.49L1497.89,178.56L1498.47,178.63L1499.05,178.71L1499.63,178.79L1500.22,178.89L1500.8,178.98L1501.38,179.09L1501.96,179.19L1502.54,179.31L1503.13,179.43L1503.71,179.56L1504.29,179.69L1504.87,179.83L1505.46,179.97L1506.04,180.13L1506.62,180.28L1507.2,180.45L1507.78,180.61L1508.37,180.79L1508.95,180.97L1509.53,181.16L1510.11,181.35L1510.7,181.55L1511.28,181.76L1511.86,181.97L1512.44,182.19L1513.02,182.41L1513.61,182.64L1514.19,182.88L1514.77,183.12L1515.35,183.37L1515.94,183.63L1516.52,183.89L1517.1,184.16L1517.68,184.44L1518.26,184.72L1518.85,185.01L1519.43,185.31L1520.01,185.61L1520.59,185.92L1521.18,186.23L1521.76,186.56L1522.34,186.89L1522.92,187.22L1523.5,187.57L1524.09,187.92L1524.67,188.28L1525.25,188.64L1525.83,189.01L1526.42,189.39L1527,189.78L1527.58,190.18L1528.16,190.58L1528.74,190.99L1529.33,191.41L1529.91,191.84L1530.49,192.27L1531.07,192.71L1531.66,193.17L1532.24,193.63L1532.82,194.1L1533.4,194.57L1533.98,195.06L1534.57,195.56L1535.15,196.06L1535.73,196.58L1536.31,197.1L1536.9,197.64L1537.48,198.18L1538.06,198.74L1538.64,199.31L1539.22,199.89L1539.81,200.48L1540.39,201.08L1540.97,201.69L1541.55,202.32L1542.14,202.96L1542.72,203.61L1543.3,204.28L1543.88,204.97L1544.46,205.66L1545.05,206.38L1545.63,207.11L1546.21,207.86L1546.79,208.63L1547.38,209.42L1547.96,210.22L1548.54,211.05L1549.12,211.91L1549.7,212.79L1550.29,213.69L1550.87,214.63L1551.45,215.59L1552.03,216.59L1552.62,217.63L1553.2,218.71L1553.78,219.84L1554.36,221.01L1554.94,222.25L1555.53,223.55L1556.11,224.93L1556.69,226.4L1557.27,227.99L1557.86,229.72L1558.44,231.64L1559.02,233.82L1559.6,236.41L1560.18,239.8L1560.77,248L1560.77,248L1560.18,256.2L1559.6,259.59L1559.02,262.18L1558.44,264.36L1557.86,266.28L1557.27,268.01L1556.69,269.6L1556.11,271.07L1555.53,272.45L1554.94,273.75L1554.36,274.99L1553.78,276.16L1553.2,277.29L1552.62,278.37L1552.03,279.41L1551.45,280.41L1550.87,281.37L1550.29,282.31L1549.7,283.21L1549.12,284.09L1548.54,284.95L1547.96,285.78L1547.38,286.58L1546.79,287.37L1546.21,288.14L1545.63,288.89L1545.05,289.62L1544.46,290.34L1543.88,291.03L1543.3,291.72L1542.72,292.39L1542.14,293.04L1541.55,293.68L1540.97,294.31L1540.39,294.92L1539.81,295.52L1539.22,296.11L1538.64,296.69L1538.06,297.26L1537.48,297.82L1536.9,298.36L1536.31,298.9L1535.73,299.42L1535.15,299.94L1534.57,300.44L1533.98,300.94L1533.4,301.43L1532.82,301.9L1532.24,302.37L1531.66,302.83L1531.07,303.29L1530.49,303.73L1529.91,304.16L1529.33,304.59L1528.74,305.01L1528.16,305.42L1527.58,305.82L1527,306.22L1526.42,306.61L1525.83,306.99L1525.25,307.36L1524.67,307.72L1524.09,308.08L1523.5,308.43L1522.92,308.78L1522.34,309.11L1521.76,309.44L1521.18,309.77L1520.59,310.08L1520.01,310.39L1519.43,310.69L1518.85,310.99L1518.26,311.28L1517.68,311.56L1517.1,311.84L1516.52,312.11L1515.94,312.37L1515.35,312.63L1514.77,312.88L1514.19,313.12L1513.61,313.36L1513.02,313.59L1512.44,313.81L1511.86,314.03L1511.28,314.24L1510.7,314.45L1510.11,314.65L1509.53,314.84L1508.95,315.03L1508.37,315.21L1507.78,315.39L1507.2,315.55L1506.62,315.72L1506.04,315.87L1505.46,316.03L1504.87,316.17L1504.29,316.31L1503.71,316.44L1503.13,316.57L1502.54,316.69L1501.96,316.81L1501.38,316.91L1500.8,317.02L1500.22,317.11L1499.63,317.21L1499.05,317.29L1498.47,317.37L1497.89,317.44L1497.3,317.51L1496.72,317.57L1496.14,317.63L1495.56,317.68L1494.98,317.72L1494.39,317.76L1493.81,317.79L1493.23,317.82L1492.65,317.84L1492.06,317.85L1491.48,317.86L1490.9,317.87L1490.32,317.86L1489.74,317.85L1489.15,317.84L1488.57,317.82L1487.99,317.79L1487.41,317.76L1486.82,317.72L1486.24,317.68L1485.66,317.63L1485.08,317.57L1484.5,317.51L1483.91,317.44L1483.33,317.37L1482.75,317.29L1482.17,317.21L1481.58,317.11L1481,317.02L1480.42,316.91L1479.84,316.81L1479.26,316.69L1478.67,316.57L1478.09,316.44L1477.51,316.31L1476.93,316.17L1476.34,316.03L1475.76,315.87L1475.18,315.72L1474.6,315.55L1474.02,315.39L1473.43,315.21L1472.85,315.03L1472.27,314.84L1471.69,314.65L1471.1,314.45L1470.52,314.24L1469.94,314.03L1469.36,313.81L1468.78,313.59L1468.19,313.36L1467.61,313.12L1467.03,312.88L1466.45,312.63L1465.86,312.37L1465.28,312.11L1464.7,311.84L1464.12,311.56L1463.54,311.28L1462.95,310.99L1462.37,310.69L1461.79,310.39L1461.21,310.08L1460.62,309.77L1460.04,309.44L1459.46,309.11L1458.88,308.78L1458.3,308.43L1457.71,308.08L1457.13,307.72L1456.55,307.36L1455.97,306.99L1455.38,306.61L1454.8,306.22L1454.22,305.82L1453.64,305.42L1453.06,305.01L1452.47,304.59L1451.89,304.16L1451.31,303.73L1450.73,303.29L1450.14,302.83L1449.56,302.37L1448.98,301.9L1448.4,301.43L1447.82,300.94L1447.23,300.44L1446.65,299.94L1446.07,299.42L1445.49,298.9L1444.9,298.36L1444.32,297.82L1443.74,297.26L1443.16,296.69L1442.58,296.11L1441.99,295.52L1441.41,294.92L1440.83,294.31L1440.25,293.68L1439.66,293.04L1439.08,292.39L1438.5,291.72L1437.92,291.03L1437.34,290.34L1436.75,289.62L1436.17,288.89L1435.59,288.14L1435.01,287.37L1434.42,286.58L1433.84,285.78L1433.26,284.95L1432.68,284.09L1432.1,283.21L1431.51,282.31L1430.93,281.37L1430.35,280.41L1429.77,279.41L1429.18,278.37L1428.6,277.29L1428.02,276.16L1427.44,274.99L1426.86,273.75L1426.27,272.45L1425.69,271.07L1425.11,269.6L1424.53,268.01L1423.94,266.28L1423.36,264.36L1422.78,262.18L1422.2,259.59L1421.62,256.2L1421.03,248Z"/></clipPath>
<path d="M1421.03,248L1421.62,239.8L1422.2,236.41L1422.78,233.82L1423.36,231.64L1423.94,229.72L1424.53,227.99L1425.11,226.4L1425.69,224.93L1426.27,223.55L1426.86,222.25L1427.44,221.01L1428.02,219.84L1428.6,218.71L1429.18,217.63L1429.77,216.59L1430.35,215.59L1430.93,214.63L1431.51,213.69L1432.1,212.79L1432.68,211.91L1433.26,211.05L1433.84,210.22L1434.42,209.42L1435.01,208.63L1435.59,207.86L1436.17,207.11L1436.75,206.38L1437.34,205.66L1437.92,204.97L1438.5,204.28L1439.08,203.61L1439.66,202.96L1440.25,202.32L1440.83,201.69L1441.41,201.08L1441.99,200.48L1442.58,199.89L1443.16,199.31L1443.74,198.74L1444.32,198.18L1444.9,197.64L1445.49,197.1L1446.07,196.58L1446.65,196.06L1447.23,195.56L1447.82,195.06L1448.4,194.57L1448.98,194.1L1449.56,193.63L1450.14,193.17L1450.73,192.71L1451.31,192.27L1451.89,191.84L1452.47,191.41L1453.06,190.99L1453.64,190.58L1454.22,190.18L1454.8,189.78L1455.38,189.39L1455.97,189.01L1456.55,188.64L1457.13,188.28L1457.71,187.92L1458.3,187.57L1458.88,187.22L1459.46,186.89L1460.04,186.56L1460.62,186.23L1461.21,185.92L1461.79,185.61L1462.37,185.31L1462.95,185.01L1463.54,184.72L1464.12,184.44L1464.7,184.16L1465.28,183.89L1465.86,183.63L1466.45,183.37L1467.03,183.12L1467.61,182.88L1468.19,182.64L1468.78,182.41L1469.36,182.19L1469.94,181.97L1470.52,181.76L1471.1,181.55L1471.69,181.35L1472.27,181.16L1472.85,180.97L1473.43,180.79L1474.02,180.61L1474.6,180.45L1475.18,180.28L1475.76,180.13L1476.34,179.97L1476.93,179.83L1477.51,179.69L1478.09,179.56L1478.67,179.43L1479.26,179.31L1479.84,179.19L1480.42,179.09L1481,178.98L1481.58,178.89L1482.17,178.79L1482.75,178.71L1483.33,178.63L1483.91,178.56L1484.5,178.49L1485.08,178.43L1485.66,178.37L1486.24,178.32L1486.82,178.28L1487.41,178.24L1487.99,178.21L1488.57,178.18L1489.15,178.16L1489.74,178.15L1490.32,178.14L1490.9,178.13L1491.48,178.14L1492.06,178.15L1492.65,178.16L1493.23,178.18L1493.81,178.21L1494.39,178.24L1494.98,178.28L1495.56,178.32L1496.14,178.37L1496.72,178.43L1497.3,178.49L1497.89,178.56L1498.47,178.63L1499.05,178.71L1499.63,178.79L1500.22,178.89L1500.8,178.98L1501.38,179.09L1501.96,179.19L1502.54,179.31L1503.13,179.43L1503.71,179.56L1504.29,179.69L1504.87,179.83L1505.46,179.97L1506.04,180.13L1506.62,180.28L1507.2,180.45L1507.78,180.61L1508.37,180.79L1508.95,180.97L1509.53,181.16L1510.11,181.35L1510.7,181.55L1511.28,181.76L1511.86,181.97L1512.44,182.19L1513.02,182.41L1513.61,182.64L1514.19,182.88L1514.77,183.12L1515.35,183.37L1515.94,183.63L1516.52,183.89L1517.1,184.16L1517.68,184.44L1518.26,184.72L1518.85,185.01L1519.43,185.31L1520.01,185.61L1520.59,185.92L1521.18,186.23L1521.76,186.56L1522.34,186.89L1522.92,187.22L1523.5,187.57L1524.09,187.92L1524.67,188.28L1525.25,188.64L1525.83,189.01L1526.42,189.39L1527,189.78L1527.58,190.18L1528.16,190.58L1528.74,190.99L1529.33,191.41L1529.91,191.84L1530.49,192.27L1531.07,192.71L1531.66,193.17L1532.24,193.63L1532.82,194.1L1533.4,194.57L1533.98,195.06L1534.57,195.56L1535.15,196.06L1535.73,196.58L1536.31,197.1L1536.9,197.64L1537.48,198.18L1538.06,198.74L1538.64,199.31L1539.22,199.89L1539.81,200.48L1540.39,201.08L1540.97,201.69L1541.55,202.32L1542.14,202.96L1542.72,203.61L1543.3,204.28L1543.88,204.97L1544.46,205.66L1545.05,206.38L1545.63,207.11L1546.21,207.86L1546.79,208.63L1547.38,209.42L1547.96,210.22L1548.54,211.05L1549.12,211.91L1549.7,212.79L1550.29,213.69L1550.87,214.63L1551.45,215.59L1552.03,216.59L1552.62,217.63L1553.2,218.71L1553.78,219.84L1554.36,221.01L1554.94,222.25L1555.53,223.55L1556.11,224.93L1556.69,226.4L1557.27,227.99L1557.86,229.72L1558.44,231.64L1559.02,233.82L1559.6,236.41L1560.18,239.8L1560.77,248L1560.77,248L1560.18,256.2L1559.6,259.59L1559.02,262.18L1558.44,264.36L1557.86,266.28L1557.27,268.01L1556.69,269.6L1556.11,271.07L1555.53,272.45L1554.94,273.75L1554.36,274.99L1553.78,276.16L1553.2,277.29L1552.62,278.37L1552.03,279.41L1551.45,280.41L1550.87,281.37L1550.29,282.31L1549.7,283.21L1549.12,284.09L1548.54,284.95L1547.96,285.78L1547.38,286.58L1546.79,287.37L1546.21,288.14L1545.63,288.89L1545.05,289.62L1544.46,290.34L1543.88,291.03L1543.3,291.72L1542.72,292.39L1542.14,293.04L1541.55,293.68L1540.97,294.31L1540.39,294.92L1539.81,295.52L1539.22,296.11L1538.64,296.69L1538.06,297.26L1537.48,297.82L1536.9,298.36L1536.31,298.9L1535.73,299.42L1535.15,299.94L1534.57,300.44L1533.98,300.94L1533.4,301.43L1532.82,301.9L1532.24,302.37L1531.66,302.83L1531.07,303.29L1530.49,303.73L1529.91,304.16L1529.33,304.59L1528.74,305.01L1528.16,305.42L1527.58,305.82L1527,306.22L1526.42,306.61L1525.83,306.99L1525.25,307.36L1524.67,307.72L1524.09,308.08L1523.5,308.43L1522.92,308.78L1522.34,309.11L1521.76,309.44L1521.18,309.77L1520.59,310.08L1520.01,310.39L1519.43,310.69L1518.85,310.99L1518.26,311.28L1517.68,311.56L1517.1,311.84L1516.52,312.11L1515.94,312.37L1515.35,312.63L1514.77,312.88L1514.19,313.12L1513.61,313.36L1513.02,313.59L1512.44,313.81L1511.86,314.03L1511.28,314.24L1510.7,314.45L1510.11,314.65L1509.53,314.84L1508.95,315.03L1508.37,315.21L1507.78,315.39L1507.2,315.55L1506.62,315.72L1506.04,315.87L1505.46,316.03L1504.87,316.17L1504.29,316.31L1503.71,316.44L1503.13,316.57L1502.54,316.69L1501.96,316.81L1501.38,316.91L1500.8,317.02L1500.22,317.11L1499.63,317.21L1499.05,317.29L1498.47,317.37L1497.89,317.44L1497.3,317.51L1496.72,317.57L1496.14,317.63L1495.56,317.68L1494.98,317.72L1494.39,317.76L1493.81,317.79L1493.23,317.82L1492.65,317.84L1492.06,317.85L1491.48,317.86L1490.9,317.87L1490.32,317.86L1489.74,317.85L1489.15,317.84L1488.57,317.82L1487.99,317.79L1487.41,317.76L1486.82,317.72L1486.24,317.68L1485.66,317.63L1485.08,317.57L1484.5,317.51L1483.91,317.44L1483.33,317.37L1482.75,317.29L1482.17,317.21L1481.58,317.11L1481,317.02L1480.42,316.91L1479.84,316.81L1479.26,316.69L1478.67,316.57L1478.09,316.44L1477.51,316.31L1476.93,316.17L1476.34,316.03L1475.76,315.87L1475.18,315.72L1474.6,315.55L1474.02,315.39L1473.43,315.21L1472.85,315.03L1472.27,314.84L1471.69,314.65L1471.1,314.45L1470.52,314.24L1469.94,314.03L1469.36,313.81L1468.78,313.59L1468.19,313.36L1467.61,313.12L1467.03,312.88L1466.45,312.63L1465.86,312.37L1465.28,312.11L1464.7,311.84L1464.12,311.56L1463.54,311.28L1462.95,310.99L1462.37,310.69L1461.79,310.39L1461.21,310.08L1460.62,309.77L1460.04,309.44L1459.46,309.11L1458.88,308.78L1458.3,308.43L1457.71,308.08L1457.13,307.72L1456.55,307.36L1455.97,306.99L1455.38,306.61L1454.8,306.22L1454.22,305.82L1453.64,305.42L1453.06,305.01L1452.47,304.59L1451.89,304.16L1451.31,303.73L1450.73,303.29L1450.14,302.83L1449.56,302.37L1448.98,301.9L1448.4,301.43L1447.82,300.94L1447.23,300.44L1446.65,299.94L1446.07,299.42L1445.49,298.9L1444.9,298.36L1444.32,297.82L1443.74,297.26L1443.16,296.69L1442.58,296.11L1441.99,295.52L1441.41,294.92L1440.83,294.31L1440.25,293.68L1439.66,293.04L1439.08,292.39L1438.5,291.72L1437.92,291.03L1437.34,290.34L1436.75,289.62L1436.17,288.89L1435.59,288.14L1435.01,287.37L1434.42,286.58L1433.84,285.78L1433.26,284.95L1432.68,284.09L1432.1,283.21L1431.51,282.31L1430.93,281.37L1430.35,280.41L1429.77,279.41L1429.18,278.37L1428.6,277.29L1428.02,276.16L1427.44,274.99L1426.86,273.75L1426.27,272.45L1425.69,271.07L1425.11,269.6L1424.53,268.01L1423.94,266.28L1423.36,264.36L1422.78,262.18L1422.2,259.59L1421.62,256.2L1421.03,248Z" fill="#d2d2d4"/>
<rect x="1418.03" y="203.82" width="145.73" height="88.36" fill="#dba6ab" clip-path="url(#fs)"/>
<path d="M1438.9,203.82H1542.9M1438.9,292.18H1542.9" stroke="#c0627c" stroke-width="1.2" stroke-dasharray="5 3" fill="none"/>
<path d="M1281.3,248H1700.5M1490.9,37.6V458.7" stroke="#303030" stroke-width="2.3" fill="none"/>
<path d="M1421.03,248H1560.77M1490.9,203.82V292.18" stroke="#4a1f22" stroke-width="2.3" fill="none"/>
<path d="M1421.03,248L1421.62,239.8L1422.2,236.41L1422.78,233.82L1423.36,231.64L1423.94,229.72L1424.53,227.99L1425.11,226.4L1425.69,224.93L1426.27,223.55L1426.86,222.25L1427.44,221.01L1428.02,219.84L1428.6,218.71L1429.18,217.63L1429.77,216.59L1430.35,215.59L1430.93,214.63L1431.51,213.69L1432.1,212.79L1432.68,211.91L1433.26,211.05L1433.84,210.22L1434.42,209.42L1435.01,208.63L1435.59,207.86L1436.17,207.11L1436.75,206.38L1437.34,205.66L1437.92,204.97L1438.5,204.28L1439.08,203.61L1439.66,202.96L1440.25,202.32L1440.83,201.69L1441.41,201.08L1441.99,200.48L1442.58,199.89L1443.16,199.31L1443.74,198.74L1444.32,198.18L1444.9,197.64L1445.49,197.1L1446.07,196.58L1446.65,196.06L1447.23,195.56L1447.82,195.06L1448.4,194.57L1448.98,194.1L1449.56,193.63L1450.14,193.17L1450.73,192.71L1451.31,192.27L1451.89,191.84L1452.47,191.41L1453.06,190.99L1453.64,190.58L1454.22,190.18L1454.8,189.78L1455.38,189.39L1455.97,189.01L1456.55,188.64L1457.13,188.28L1457.71,187.92L1458.3,187.57L1458.88,187.22L1459.46,186.89L1460.04,186.56L1460.62,186.23L1461.21,185.92L1461.79,185.61L1462.37,185.31L1462.95,185.01L1463.54,184.72L1464.12,184.44L1464.7,184.16L1465.28,183.89L1465.86,183.63L1466.45,183.37L1467.03,183.12L1467.61,182.88L1468.19,182.64L1468.78,182.41L1469.36,182.19L1469.94,181.97L1470.52,181.76L1471.1,181.55L1471.69,181.35L1472.27,181.16L1472.85,180.97L1473.43,180.79L1474.02,180.61L1474.6,180.45L1475.18,180.28L1475.76,180.13L1476.34,179.97L1476.93,179.83L1477.51,179.69L1478.09,179.56L1478.67,179.43L1479.26,179.31L1479.84,179.19L1480.42,179.09L1481,178.98L1481.58,178.89L1482.17,178.79L1482.75,178.71L1483.33,178.63L1483.91,178.56L1484.5,178.49L1485.08,178.43L1485.66,178.37L1486.24,178.32L1486.82,178.28L1487.41,178.24L1487.99,178.21L1488.57,178.18L1489.15,178.16L1489.74,178.15L1490.32,178.14L1490.9,178.13L1491.48,178.14L1492.06,178.15L1492.65,178.16L1493.23,178.18L1493.81,178.21L1494.39,178.24L1494.98,178.28L1495.56,178.32L1496.14,178.37L1496.72,178.43L1497.3,178.49L1497.89,178.56L1498.47,178.63L1499.05,178.71L1499.63,178.79L1500.22,178.89L1500.8,178.98L1501.38,179.09L1501.96,179.19L1502.54,179.31L1503.13,179.43L1503.71,179.56L1504.29,179.69L1504.87,179.83L1505.46,179.97L1506.04,180.13L1506.62,180.28L1507.2,180.45L1507.78,180.61L1508.37,180.79L1508.95,180.97L1509.53,181.16L1510.11,181.35L1510.7,181.55L1511.28,181.76L1511.86,181.97L1512.44,182.19L1513.02,182.41L1513.61,182.64L1514.19,182.88L1514.77,183.12L1515.35,183.37L1515.94,183.63L1516.52,183.89L1517.1,184.16L1517.68,184.44L1518.26,184.72L1518.85,185.01L1519.43,185.31L1520.01,185.61L1520.59,185.92L1521.18,186.23L1521.76,186.56L1522.34,186.89L1522.92,187.22L1523.5,187.57L1524.09,187.92L1524.67,188.28L1525.25,188.64L1525.83,189.01L1526.42,189.39L1527,189.78L1527.58,190.18L1528.16,190.58L1528.74,190.99L1529.33,191.41L1529.91,191.84L1530.49,192.27L1531.07,192.71L1531.66,193.17L1532.24,193.63L1532.82,194.1L1533.4,194.57L1533.98,195.06L1534.57,195.56L1535.15,196.06L1535.73,196.58L1536.31,197.1L1536.9,197.64L1537.48,198.18L1538.06,198.74L1538.64,199.31L1539.22,199.89L1539.81,200.48L1540.39,201.08L1540.97,201.69L1541.55,202.32L1542.14,202.96L1542.72,203.61L1543.3,204.28L1543.88,204.97L1544.46,205.66L1545.05,206.38L1545.63,207.11L1546.21,207.86L1546.79,208.63L1547.38,209.42L1547.96,210.22L1548.54,211.05L1549.12,211.91L1549.7,212.79L1550.29,213.69L1550.87,214.63L1551.45,215.59L1552.03,216.59L1552.62,217.63L1553.2,218.71L1553.78,219.84L1554.36,221.01L1554.94,222.25L1555.53,223.55L1556.11,224.93L1556.69,226.4L1557.27,227.99L1557.86,229.72L1558.44,231.64L1559.02,233.82L1559.6,236.41L1560.18,239.8L1560.77,248L1560.77,248L1560.18,256.2L1559.6,259.59L1559.02,262.18L1558.44,264.36L1557.86,266.28L1557.27,268.01L1556.69,269.6L1556.11,271.07L1555.53,272.45L1554.94,273.75L1554.36,274.99L1553.78,276.16L1553.2,277.29L1552.62,278.37L1552.03,279.41L1551.45,280.41L1550.87,281.37L1550.29,282.31L1549.7,283.21L1549.12,284.09L1548.54,284.95L1547.96,285.78L1547.38,286.58L1546.79,287.37L1546.21,288.14L1545.63,288.89L1545.05,289.62L1544.46,290.34L1543.88,291.03L1543.3,291.72L1542.72,292.39L1542.14,293.04L1541.55,293.68L1540.97,294.31L1540.39,294.92L1539.81,295.52L1539.22,296.11L1538.64,296.69L1538.06,297.26L1537.48,297.82L1536.9,298.36L1536.31,298.9L1535.73,299.42L1535.15,299.94L1534.57,300.44L1533.98,300.94L1533.4,301.43L1532.82,301.9L1532.24,302.37L1531.66,302.83L1531.07,303.29L1530.49,303.73L1529.91,304.16L1529.33,304.59L1528.74,305.01L1528.16,305.42L1527.58,305.82L1527,306.22L1526.42,306.61L1525.83,306.99L1525.25,307.36L1524.67,307.72L1524.09,308.08L1523.5,308.43L1522.92,308.78L1522.34,309.11L1521.76,309.44L1521.18,309.77L1520.59,310.08L1520.01,310.39L1519.43,310.69L1518.85,310.99L1518.26,311.28L1517.68,311.56L1517.1,311.84L1516.52,312.11L1515.94,312.37L1515.35,312.63L1514.77,312.88L1514.19,313.12L1513.61,313.36L1513.02,313.59L1512.44,313.81L1511.86,314.03L1511.28,314.24L1510.7,314.45L1510.11,314.65L1509.53,314.84L1508.95,315.03L1508.37,315.21L1507.78,315.39L1507.2,315.55L1506.62,315.72L1506.04,315.87L1505.46,316.03L1504.87,316.17L1504.29,316.31L1503.71,316.44L1503.13,316.57L1502.54,316.69L1501.96,316.81L1501.38,316.91L1500.8,317.02L1500.22,317.11L1499.63,317.21L1499.05,317.29L1498.47,317.37L1497.89,317.44L1497.3,317.51L1496.72,317.57L1496.14,317.63L1495.56,317.68L1494.98,317.72L1494.39,317.76L1493.81,317.79L1493.23,317.82L1492.65,317.84L1492.06,317.85L1491.48,317.86L1490.9,317.87L1490.32,317.86L1489.74,317.85L1489.15,317.84L1488.57,317.82L1487.99,317.79L1487.41,317.76L1486.82,317.72L1486.24,317.68L1485.66,317.63L1485.08,317.57L1484.5,317.51L1483.91,317.44L1483.33,317.37L1482.75,317.29L1482.17,317.21L1481.58,317.11L1481,317.02L1480.42,316.91L1479.84,316.81L1479.26,316.69L1478.67,316.57L1478.09,316.44L1477.51,316.31L1476.93,316.17L1476.34,316.03L1475.76,315.87L1475.18,315.72L1474.6,315.55L1474.02,315.39L1473.43,315.21L1472.85,315.03L1472.27,314.84L1471.69,314.65L1471.1,314.45L1470.52,314.24L1469.94,314.03L1469.36,313.81L1468.78,313.59L1468.19,313.36L1467.61,313.12L1467.03,312.88L1466.45,312.63L1465.86,312.37L1465.28,312.11L1464.7,311.84L1464.12,311.56L1463.54,311.28L1462.95,310.99L1462.37,310.69L1461.79,310.39L1461.21,310.08L1460.62,309.77L1460.04,309.44L1459.46,309.11L1458.88,308.78L1458.3,308.43L1457.71,308.08L1457.13,307.72L1456.55,307.36L1455.97,306.99L1455.38,306.61L1454.8,306.22L1454.22,305.82L1453.64,305.42L1453.06,305.01L1452.47,304.59L1451.89,304.16L1451.31,303.73L1450.73,303.29L1450.14,302.83L1449.56,302.37L1448.98,301.9L1448.4,301.43L1447.82,300.94L1447.23,300.44L1446.65,299.94L1446.07,299.42L1445.49,298.9L1444.9,298.36L1444.32,297.82L1443.74,297.26L1443.16,296.69L1442.58,296.11L1441.99,295.52L1441.41,294.92L1440.83,294.31L1440.25,293.68L1439.66,293.04L1439.08,292.39L1438.5,291.72L1437.92,291.03L1437.34,290.34L1436.75,289.62L1436.17,288.89L1435.59,288.14L1435.01,287.37L1434.42,286.58L1433.84,285.78L1433.26,284.95L1432.68,284.09L1432.1,283.21L1431.51,282.31L1430.93,281.37L1430.35,280.41L1429.77,279.41L1429.18,278.37L1428.6,277.29L1428.02,276.16L1427.44,274.99L1426.86,273.75L1426.27,272.45L1425.69,271.07L1425.11,269.6L1424.53,268.01L1423.94,266.28L1423.36,264.36L1422.78,262.18L1422.2,259.59L1421.62,256.2L1421.03,248Z" fill="none" stroke="#1f77b8" stroke-width="2.8" stroke-linejoin="round"/>
<path d="M1542.9,37.1V458.7" stroke="#8fbc60" stroke-width="1.9" stroke-dasharray="6.1 6.4" fill="none"/>
<path d="M1542.9,203.82V292.18" stroke="#70ad47" stroke-width="3" fill="none"/>
<circle cx="1542.9" cy="203.82" r="4.7" fill="none" stroke="#f0505f" stroke-width="1.2"/>
<circle cx="1542.9" cy="292.18" r="4.7" fill="none" stroke="#f0505f" stroke-width="1.2"/>
<rect x="1281.3" y="37.6" width="419.2" height="421.1" fill="none" stroke="#303030" stroke-width="2.5"/>
<path d="M1421.03,253.2V860.4" stroke="#000" stroke-width="2" stroke-dasharray="2 7.887" fill="none"/>
<circle cx="1421.03" cy="248" r="3.6" fill="#000"/>
<path d="M1560.77,257.75V860.4" stroke="#000" stroke-width="2" stroke-dasharray="2 7.887" fill="none"/>
<circle cx="1560.77" cy="248" r="3.6" fill="#000"/>
<text x="1473" y="20" font-family="'Liberation Serif', serif" font-size="32" font-style="italic" fill="#000" stroke="#000" stroke-width="0.4">k<tspan dy="7" dx="3" font-size="23">x</tspan></text>
<text x="1709" y="253.5" font-family="'Liberation Serif', serif" font-size="32" font-style="italic" fill="#000" stroke="#000" stroke-width="0.4">k</text>
<text x="1472.5" y="57" text-anchor="start" fill="#262626"><tspan font-family="'Liberation Serif', serif" font-style="italic" font-size="25" stroke="#262626" stroke-width="0.55" dx="0">π</tspan></text>
<text x="1285.5" y="268.3" text-anchor="start" fill="#262626"><tspan font-family="'Liberation Sans', sans-serif" font-weight="bold" font-size="19" stroke="#262626" stroke-width="0.7">-</tspan><tspan font-family="'Liberation Serif', serif" font-style="italic" font-size="25" stroke="#262626" stroke-width="0.55" dx="2.5">π</tspan></text>
<text x="1681" y="270" text-anchor="start" fill="#262626"><tspan font-family="'Liberation Serif', serif" font-style="italic" font-size="25" stroke="#262626" stroke-width="0.55" dx="0">π</tspan></text>
<text x="1465.5" y="454" text-anchor="start" fill="#262626"><tspan font-family="'Liberation Sans', sans-serif" font-weight="bold" font-size="19" stroke="#262626" stroke-width="0.7">-</tspan><tspan font-family="'Liberation Serif', serif" font-style="italic" font-size="25" stroke="#262626" stroke-width="0.55" dx="2.5">π</tspan></text>
<text x="1479" y="270.5" font-family="'Liberation Sans', sans-serif" font-size="26" font-weight="bold" font-style="normal" text-anchor="middle" fill="#000">0</text>
<text y="274" font-size="26" fill="#000" font-family="'Liberation Serif', serif" font-style="italic" stroke="#000" stroke-width="0.35"><tspan x="1375.4" font-style="normal">−</tspan><tspan x="1393.2">k</tspan><tspan x="1407.4" dy="5.3" font-size="17" font-style="normal">0</tspan></text>
<text y="273.4" font-size="25" fill="#000" font-family="'Liberation Serif', serif" font-style="italic" stroke="#000" stroke-width="0.35"><tspan x="1570.6">k</tspan><tspan x="1584.5" dy="5" font-size="17" font-style="normal">0</tspan></text>
<text font-size="20.5" fill="#000" font-family="'Liberation Serif', serif" font-style="italic" stroke="#000" stroke-width="0.35"><tspan x="1553.2" y="196.6" font-size="21" font-style="normal">(</tspan><tspan x="1562.4" y="196.1">k</tspan><tspan x="1573.6" y="196.1" font-style="normal">,</tspan><tspan x="1582.3" y="196.1">k</tspan><tspan x="1594.4" y="200.8" font-size="15.5">x</tspan><tspan x="1597.6" y="187.2" font-size="13.5" font-style="normal">0</tspan><tspan x="1606.2" y="196.6" font-size="21" font-style="normal">)</tspan></text>
<text font-size="20.5" fill="#000" font-family="'Liberation Serif', serif" font-style="italic" stroke="#000" stroke-width="0.35"><tspan x="1551.6" y="311.4" font-size="21" font-style="normal">(</tspan><tspan x="1560" y="310.9">k</tspan><tspan x="1572" y="310.9" font-style="normal">,</tspan><tspan x="1581.6" y="310.9" font-size="24" font-style="normal">−</tspan><tspan x="1596.6" y="310.9">k</tspan><tspan x="1609" y="315.6" font-size="15.5">x</tspan><tspan x="1612.3" y="302" font-size="13.5" font-style="normal">0</tspan><tspan x="1620.8" y="311.4" font-size="21" font-style="normal">)</tspan></text>
<path d="M1281.3,558.7L1282.35,558.71L1283.4,558.75L1284.44,558.81L1285.49,558.9L1286.54,559.01L1287.59,559.15L1288.64,559.31L1289.68,559.49L1290.73,559.7L1291.78,559.94L1292.83,560.2L1293.88,560.48L1294.92,560.79L1295.97,561.12L1297.02,561.48L1298.07,561.86L1299.12,562.27L1300.16,562.69L1301.21,563.15L1302.26,563.62L1303.31,564.12L1304.36,564.65L1305.4,565.19L1306.45,565.76L1307.5,566.36L1308.55,566.97L1309.6,567.61L1310.64,568.27L1311.69,568.96L1312.74,569.66L1313.79,570.39L1314.84,571.14L1315.88,571.92L1316.93,572.71L1317.98,573.52L1319.03,574.36L1320.08,575.22L1321.12,576.1L1322.17,576.99L1323.22,577.91L1324.27,578.85L1325.32,579.81L1326.36,580.79L1327.41,581.79L1328.46,582.8L1329.51,583.84L1330.56,584.89L1331.6,585.97L1332.65,587.06L1333.7,588.17L1334.75,589.29L1335.8,590.43L1336.84,591.59L1337.89,592.77L1338.94,593.97L1339.99,595.18L1341.04,596.4L1342.08,597.64L1343.13,598.9L1344.18,600.17L1345.23,601.45L1346.28,602.75L1347.32,604.07L1348.37,605.4L1349.42,606.74L1350.47,608.09L1351.52,609.46L1352.56,610.84L1353.61,612.23L1354.66,613.63L1355.71,615.04L1356.76,616.47L1357.8,617.9L1358.85,619.35L1359.9,620.8L1360.95,622.27L1362,623.74L1363.04,625.22L1364.09,626.71L1365.14,628.21L1366.19,629.72L1367.24,631.23L1368.28,632.75L1369.33,634.28L1370.38,635.82L1371.43,637.35L1372.48,638.9L1373.52,640.45L1374.57,642L1375.62,643.56L1376.67,645.13L1377.72,646.69L1378.76,648.26L1379.81,649.83L1380.86,651.41L1381.91,652.98L1382.96,654.56L1384,656.14L1385.05,657.72L1386.1,659.3L1387.15,660.88L1388.2,662.46L1389.24,664.04L1390.29,665.62L1391.34,667.19L1392.39,668.77L1393.44,670.34L1394.48,671.91L1395.53,673.47L1396.58,675.04L1397.63,676.6L1398.68,678.15L1399.72,679.7L1400.77,681.25L1401.82,682.78L1402.87,684.32L1403.92,685.85L1404.96,687.37L1406.01,688.88L1407.06,690.39L1408.11,691.89L1409.16,693.38L1410.2,694.86L1411.25,696.33L1412.3,697.8L1413.35,699.25L1414.4,700.7L1415.44,702.13L1416.49,703.56L1417.54,704.97L1418.59,706.37L1419.64,707.76L1420.68,709.14L1421.73,710.51L1422.78,711.86L1423.83,713.2L1424.88,714.53L1425.92,715.85L1426.97,717.15L1428.02,718.43L1429.07,719.7L1430.12,720.96L1431.16,722.2L1432.21,723.42L1433.26,724.63L1434.31,725.83L1435.36,727.01L1436.4,728.17L1437.45,729.31L1438.5,730.43L1439.55,731.54L1440.6,732.63L1441.64,733.71L1442.69,734.76L1443.74,735.8L1444.79,736.81L1445.84,737.81L1446.88,738.79L1447.93,739.75L1448.98,740.69L1450.03,741.61L1451.08,742.5L1452.12,743.38L1453.17,744.24L1454.22,745.08L1455.27,745.89L1456.32,746.68L1457.36,747.46L1458.41,748.21L1459.46,748.94L1460.51,749.64L1461.56,750.33L1462.6,750.99L1463.65,751.63L1464.7,752.24L1465.75,752.84L1466.8,753.41L1467.84,753.95L1468.89,754.48L1469.94,754.98L1470.99,755.45L1472.04,755.91L1473.08,756.33L1474.13,756.74L1475.18,757.12L1476.23,757.48L1477.28,757.81L1478.32,758.12L1479.37,758.4L1480.42,758.66L1481.47,758.9L1482.52,759.11L1483.56,759.29L1484.61,759.45L1485.66,759.59L1486.71,759.7L1487.76,759.79L1488.8,759.85L1489.85,759.89L1490.9,759.9L1491.95,759.89L1493,759.85L1494.04,759.79L1495.09,759.7L1496.14,759.59L1497.19,759.45L1498.24,759.29L1499.28,759.11L1500.33,758.9L1501.38,758.66L1502.43,758.4L1503.48,758.12L1504.52,757.81L1505.57,757.48L1506.62,757.12L1507.67,756.74L1508.72,756.33L1509.76,755.91L1510.81,755.45L1511.86,754.98L1512.91,754.48L1513.96,753.95L1515,753.41L1516.05,752.84L1517.1,752.24L1518.15,751.63L1519.2,750.99L1520.24,750.33L1521.29,749.64L1522.34,748.94L1523.39,748.21L1524.44,747.46L1525.48,746.68L1526.53,745.89L1527.58,745.08L1528.63,744.24L1529.68,743.38L1530.72,742.5L1531.77,741.61L1532.82,740.69L1533.87,739.75L1534.92,738.79L1535.96,737.81L1537.01,736.81L1538.06,735.8L1539.11,734.76L1540.16,733.71L1541.2,732.63L1542.25,731.54L1543.3,730.43L1544.35,729.31L1545.4,728.17L1546.44,727.01L1547.49,725.83L1548.54,724.63L1549.59,723.42L1550.64,722.2L1551.68,720.96L1552.73,719.7L1553.78,718.43L1554.83,717.15L1555.88,715.85L1556.92,714.53L1557.97,713.2L1559.02,711.86L1560.07,710.51L1561.12,709.14L1562.16,707.76L1563.21,706.37L1564.26,704.97L1565.31,703.56L1566.36,702.13L1567.4,700.7L1568.45,699.25L1569.5,697.8L1570.55,696.33L1571.6,694.86L1572.64,693.38L1573.69,691.89L1574.74,690.39L1575.79,688.88L1576.84,687.37L1577.88,685.85L1578.93,684.32L1579.98,682.78L1581.03,681.25L1582.08,679.7L1583.12,678.15L1584.17,676.6L1585.22,675.04L1586.27,673.47L1587.32,671.91L1588.36,670.34L1589.41,668.77L1590.46,667.19L1591.51,665.62L1592.56,664.04L1593.6,662.46L1594.65,660.88L1595.7,659.3L1596.75,657.72L1597.8,656.14L1598.84,654.56L1599.89,652.98L1600.94,651.41L1601.99,649.83L1603.04,648.26L1604.08,646.69L1605.13,645.13L1606.18,643.56L1607.23,642L1608.28,640.45L1609.32,638.9L1610.37,637.35L1611.42,635.82L1612.47,634.28L1613.52,632.75L1614.56,631.23L1615.61,629.72L1616.66,628.21L1617.71,626.71L1618.76,625.22L1619.8,623.74L1620.85,622.27L1621.9,620.8L1622.95,619.35L1624,617.9L1625.04,616.47L1626.09,615.04L1627.14,613.63L1628.19,612.23L1629.24,610.84L1630.28,609.46L1631.33,608.09L1632.38,606.74L1633.43,605.4L1634.48,604.07L1635.52,602.75L1636.57,601.45L1637.62,600.17L1638.67,598.9L1639.72,597.64L1640.76,596.4L1641.81,595.18L1642.86,593.97L1643.91,592.77L1644.96,591.59L1646,590.43L1647.05,589.29L1648.1,588.17L1649.15,587.06L1650.2,585.97L1651.24,584.89L1652.29,583.84L1653.34,582.8L1654.39,581.79L1655.44,580.79L1656.48,579.81L1657.53,578.85L1658.58,577.91L1659.63,576.99L1660.68,576.1L1661.72,575.22L1662.77,574.36L1663.82,573.52L1664.87,572.71L1665.92,571.92L1666.96,571.14L1668.01,570.39L1669.06,569.66L1670.11,568.96L1671.16,568.27L1672.2,567.61L1673.25,566.97L1674.3,566.36L1675.35,565.76L1676.4,565.19L1677.44,564.65L1678.49,564.12L1679.54,563.62L1680.59,563.15L1681.64,562.69L1682.68,562.27L1683.73,561.86L1684.78,561.48L1685.83,561.12L1686.88,560.79L1687.92,560.48L1688.97,560.2L1690.02,559.94L1691.07,559.7L1692.12,559.49L1693.16,559.31L1694.21,559.15L1695.26,559.01L1696.31,558.9L1697.36,558.81L1698.4,558.75L1699.45,558.71L1700.5,558.7" stroke="#f2403c" stroke-width="1.4" fill="none"/>
<g fill="none" stroke="#3d57bd" stroke-width="1.15">
<circle cx="1281.3" cy="558.7" r="1.5"/>
<circle cx="1285.49" cy="558.9" r="1.5"/>
<circle cx="1289.68" cy="559.49" r="1.5"/>
<circle cx="1293.88" cy="560.48" r="1.5"/>
<circle cx="1298.07" cy="561.86" r="1.5"/>
<circle cx="1302.26" cy="563.62" r="1.5"/>
<circle cx="1306.45" cy="565.76" r="1.5"/>
<circle cx="1310.64" cy="568.27" r="1.5"/>
<circle cx="1314.84" cy="571.14" r="1.5"/>
<circle cx="1319.03" cy="574.36" r="1.5"/>
<circle cx="1323.22" cy="577.91" r="1.5"/>
<circle cx="1327.41" cy="581.79" r="1.5"/>
<circle cx="1331.6" cy="585.97" r="1.5"/>
<circle cx="1335.8" cy="590.43" r="1.5"/>
<circle cx="1339.99" cy="595.18" r="1.5"/>
<circle cx="1344.18" cy="600.17" r="1.5"/>
<circle cx="1348.37" cy="605.4" r="1.5"/>
<circle cx="1352.56" cy="610.84" r="1.5"/>
<circle cx="1356.76" cy="616.47" r="1.5"/>
<circle cx="1360.95" cy="622.27" r="1.5"/>
<circle cx="1365.14" cy="628.21" r="1.5"/>
<circle cx="1369.33" cy="634.28" r="1.5"/>
<circle cx="1373.52" cy="640.45" r="1.5"/>
<circle cx="1377.72" cy="646.69" r="1.5"/>
<circle cx="1381.91" cy="652.98" r="1.5"/>
<circle cx="1386.1" cy="659.3" r="1.5"/>
<circle cx="1390.29" cy="665.62" r="1.5"/>
<circle cx="1394.48" cy="671.91" r="1.5"/>
<circle cx="1398.68" cy="678.15" r="1.5"/>
<circle cx="1402.87" cy="684.32" r="1.5"/>
<circle cx="1407.06" cy="690.39" r="1.5"/>
<circle cx="1411.25" cy="696.33" r="1.5"/>
<circle cx="1415.44" cy="702.13" r="1.5"/>
<circle cx="1419.64" cy="707.76" r="1.5"/>
<circle cx="1423.83" cy="708.13" r="1.5"/>
<circle cx="1423.83" cy="710.67" r="1.5"/>
<circle cx="1423.83" cy="715.75" r="1.5"/>
<circle cx="1428.02" cy="702.15" r="1.5"/>
<circle cx="1428.02" cy="710.3" r="1.5"/>
<circle cx="1428.02" cy="726.6" r="1.5"/>
<circle cx="1432.21" cy="694.27" r="1.5"/>
<circle cx="1432.21" cy="708.87" r="1.5"/>
<circle cx="1432.21" cy="738.06" r="1.5"/>
<circle cx="1436.4" cy="685.39" r="1.5"/>
<circle cx="1436.4" cy="706.81" r="1.5"/>
<circle cx="1436.4" cy="749.64" r="1.5"/>
<circle cx="1440.6" cy="676.02" r="1.5"/>
<circle cx="1440.6" cy="704.36" r="1.5"/>
<circle cx="1440.6" cy="761.05" r="1.5"/>
<circle cx="1444.79" cy="666.49" r="1.5"/>
<circle cx="1444.79" cy="701.7" r="1.5"/>
<circle cx="1444.79" cy="772.11" r="1.5"/>
<circle cx="1448.98" cy="657.09" r="1.5"/>
<circle cx="1448.98" cy="698.94" r="1.5"/>
<circle cx="1448.98" cy="782.65" r="1.5"/>
<circle cx="1453.17" cy="648.01" r="1.5"/>
<circle cx="1453.17" cy="696.19" r="1.5"/>
<circle cx="1453.17" cy="792.54" r="1.5"/>
<circle cx="1457.36" cy="639.45" r="1.5"/>
<circle cx="1457.36" cy="693.53" r="1.5"/>
<circle cx="1457.36" cy="801.67" r="1.5"/>
<circle cx="1461.56" cy="631.56" r="1.5"/>
<circle cx="1461.56" cy="691.02" r="1.5"/>
<circle cx="1461.56" cy="809.94" r="1.5"/>
<circle cx="1465.75" cy="624.47" r="1.5"/>
<circle cx="1465.75" cy="688.74" r="1.5"/>
<circle cx="1465.75" cy="817.27" r="1.5"/>
<circle cx="1469.94" cy="618.29" r="1.5"/>
<circle cx="1469.94" cy="686.72" r="1.5"/>
<circle cx="1469.94" cy="823.59" r="1.5"/>
<circle cx="1474.13" cy="613.11" r="1.5"/>
<circle cx="1474.13" cy="685.02" r="1.5"/>
<circle cx="1474.13" cy="828.84" r="1.5"/>
<circle cx="1478.32" cy="609" r="1.5"/>
<circle cx="1478.32" cy="683.66" r="1.5"/>
<circle cx="1478.32" cy="832.97" r="1.5"/>
<circle cx="1482.52" cy="606.03" r="1.5"/>
<circle cx="1482.52" cy="682.67" r="1.5"/>
<circle cx="1482.52" cy="835.95" r="1.5"/>
<circle cx="1486.71" cy="604.23" r="1.5"/>
<circle cx="1486.71" cy="682.07" r="1.5"/>
<circle cx="1486.71" cy="837.74" r="1.5"/>
<circle cx="1490.9" cy="603.62" r="1.5"/>
<circle cx="1490.9" cy="681.86" r="1.5"/>
<circle cx="1490.9" cy="838.34" r="1.5"/>
<circle cx="1495.09" cy="604.23" r="1.5"/>
<circle cx="1495.09" cy="682.07" r="1.5"/>
<circle cx="1495.09" cy="837.74" r="1.5"/>
<circle cx="1499.28" cy="606.03" r="1.5"/>
<circle cx="1499.28" cy="682.67" r="1.5"/>
<circle cx="1499.28" cy="835.95" r="1.5"/>
<circle cx="1503.48" cy="609" r="1.5"/>
<circle cx="1503.48" cy="683.66" r="1.5"/>
<circle cx="1503.48" cy="832.97" r="1.5"/>
<circle cx="1507.67" cy="613.11" r="1.5"/>
<circle cx="1507.67" cy="685.02" r="1.5"/>
<circle cx="1507.67" cy="828.84" r="1.5"/>
<circle cx="1511.86" cy="618.29" r="1.5"/>
<circle cx="1511.86" cy="686.72" r="1.5"/>
<circle cx="1511.86" cy="823.59" r="1.5"/>
<circle cx="1516.05" cy="624.47" r="1.5"/>
<circle cx="1516.05" cy="688.74" r="1.5"/>
<circle cx="1516.05" cy="817.27" r="1.5"/>
<circle cx="1520.24" cy="631.56" r="1.5"/>
<circle cx="1520.24" cy="691.02" r="1.5"/>
<circle cx="1520.24" cy="809.94" r="1.5"/>
<circle cx="1524.44" cy="639.45" r="1.5"/>
<circle cx="1524.44" cy="693.53" r="1.5"/>
<circle cx="1524.44" cy="801.67" r="1.5"/>
<circle cx="1528.63" cy="648.01" r="1.5"/>
<circle cx="1528.63" cy="696.19" r="1.5"/>
<circle cx="1528.63" cy="792.54" r="1.5"/>
<circle cx="1532.82" cy="657.09" r="1.5"/>
<circle cx="1532.82" cy="698.94" r="1.5"/>
<circle cx="1532.82" cy="782.65" r="1.5"/>
<circle cx="1537.01" cy="666.49" r="1.5"/>
<circle cx="1537.01" cy="701.7" r="1.5"/>
<circle cx="1537.01" cy="772.11" r="1.5"/>
<circle cx="1541.2" cy="676.02" r="1.5"/>
<circle cx="1541.2" cy="704.36" r="1.5"/>
<circle cx="1541.2" cy="761.05" r="1.5"/>
<circle cx="1545.4" cy="685.39" r="1.5"/>
<circle cx="1545.4" cy="706.81" r="1.5"/>
<circle cx="1545.4" cy="749.64" r="1.5"/>
<circle cx="1549.59" cy="694.27" r="1.5"/>
<circle cx="1549.59" cy="708.87" r="1.5"/>
<circle cx="1549.59" cy="738.06" r="1.5"/>
<circle cx="1553.78" cy="702.15" r="1.5"/>
<circle cx="1553.78" cy="710.3" r="1.5"/>
<circle cx="1553.78" cy="726.6" r="1.5"/>
<circle cx="1557.97" cy="708.13" r="1.5"/>
<circle cx="1557.97" cy="710.67" r="1.5"/>
<circle cx="1557.97" cy="715.75" r="1.5"/>
<circle cx="1562.16" cy="707.76" r="1.5"/>
<circle cx="1566.36" cy="702.13" r="1.5"/>
<circle cx="1570.55" cy="696.33" r="1.5"/>
<circle cx="1574.74" cy="690.39" r="1.5"/>
<circle cx="1578.93" cy="684.32" r="1.5"/>
<circle cx="1583.12" cy="678.15" r="1.5"/>
<circle cx="1587.32" cy="671.91" r="1.5"/>
<circle cx="1591.51" cy="665.62" r="1.5"/>
<circle cx="1595.7" cy="659.3" r="1.5"/>
<circle cx="1599.89" cy="652.98" r="1.5"/>
<circle cx="1604.08" cy="646.69" r="1.5"/>
<circle cx="1608.28" cy="640.45" r="1.5"/>
<circle cx="1612.47" cy="634.28" r="1.5"/>
<circle cx="1616.66" cy="628.21" r="1.5"/>
<circle cx="1620.85" cy="622.27" r="1.5"/>
<circle cx="1625.04" cy="616.47" r="1.5"/>
<circle cx="1629.24" cy="610.84" r="1.5"/>
<circle cx="1633.43" cy="605.4" r="1.5"/>
<circle cx="1637.62" cy="600.17" r="1.5"/>
<circle cx="1641.81" cy="595.18" r="1.5"/>
<circle cx="1646" cy="590.43" r="1.5"/>
<circle cx="1650.2" cy="585.97" r="1.5"/>
<circle cx="1654.39" cy="581.79" r="1.5"/>
<circle cx="1658.58" cy="577.91" r="1.5"/>
<circle cx="1662.77" cy="574.36" r="1.5"/>
<circle cx="1666.96" cy="571.14" r="1.5"/>
<circle cx="1671.16" cy="568.27" r="1.5"/>
<circle cx="1675.35" cy="565.76" r="1.5"/>
<circle cx="1679.54" cy="563.62" r="1.5"/>
<circle cx="1683.73" cy="561.86" r="1.5"/>
<circle cx="1687.92" cy="560.48" r="1.5"/>
<circle cx="1692.12" cy="559.49" r="1.5"/>
<circle cx="1696.31" cy="558.9" r="1.5"/>
<circle cx="1700.5" cy="558.7" r="1.5"/>
</g>
<rect x="1281.3" y="508.7" width="419.2" height="351.7" fill="none" stroke="#262626" stroke-width="2"/>
<path d="M1386.1,508.7v4.5M1386.1,860.4v-4.5M1490.9,508.7v4.5M1490.9,860.4v-4.5M1595.7,508.7v4.5M1595.7,860.4v-4.5M1281.3,558.7h5M1700.5,558.7h-5M1281.3,609h5M1700.5,609h-5M1281.3,659.3h5M1700.5,659.3h-5M1281.3,709.6h5M1700.5,709.6h-5M1281.3,759.9h5M1700.5,759.9h-5M1281.3,810.2h5M1700.5,810.2h-5" stroke="#262626" stroke-width="1.6" fill="none"/>
<text transform="translate(1272.9,518.1) scale(0.92,1)" font-family="'Liberation Sans', sans-serif" font-size="24" font-weight="bold" font-style="normal" text-anchor="end" fill="#262626">3</text>
<text transform="translate(1272.9,568.4) scale(0.92,1)" font-family="'Liberation Sans', sans-serif" font-size="24" font-weight="bold" font-style="normal" text-anchor="end" fill="#262626">2</text>
<text transform="translate(1272.9,618.7) scale(0.92,1)" font-family="'Liberation Sans', sans-serif" font-size="24" font-weight="bold" font-style="normal" text-anchor="end" fill="#262626">1</text>
<text transform="translate(1272.9,669) scale(0.92,1)" font-family="'Liberation Sans', sans-serif" font-size="24" font-weight="bold" font-style="normal" text-anchor="end" fill="#262626">0</text>
<text transform="translate(1272.9,719.3) scale(0.92,1)" font-family="'Liberation Sans', sans-serif" font-size="24" font-weight="bold" font-style="normal" text-anchor="end" fill="#262626">-1</text>
<text transform="translate(1272.9,769.6) scale(0.92,1)" font-family="'Liberation Sans', sans-serif" font-size="24" font-weight="bold" font-style="normal" text-anchor="end" fill="#262626">-2</text>
<text transform="translate(1272.9,819.9) scale(0.92,1)" font-family="'Liberation Sans', sans-serif" font-size="24" font-weight="bold" font-style="normal" text-anchor="end" fill="#262626">-3</text>
<text transform="translate(1272.9,870.2) scale(0.92,1)" font-family="'Liberation Sans', sans-serif" font-size="24" font-weight="bold" font-style="normal" text-anchor="end" fill="#262626">-4</text>
<text transform="translate(1280.8,893.1) scale(0.92,1)" font-family="'Liberation Sans', sans-serif" font-size="24" font-weight="bold" text-anchor="middle" fill="#262626">-<tspan font-family="'Liberation Serif', serif" font-style="italic" font-weight="normal" font-size="25" stroke="#262626" stroke-width="0.5" letter-spacing="1.2">π</tspan></text>
<text transform="translate(1386.1,893.1) scale(0.92,1)" font-family="'Liberation Sans', sans-serif" font-size="24" font-weight="bold" text-anchor="middle" fill="#262626">-<tspan font-family="'Liberation Serif', serif" font-style="italic" font-weight="normal" font-size="25" stroke="#262626" stroke-width="0.5" letter-spacing="1.2">π</tspan>/2</text>
<text transform="translate(1490.9,893.1) scale(0.92,1)" font-family="'Liberation Sans', sans-serif" font-size="24" font-weight="bold" text-anchor="middle" fill="#262626">0</text>
<text transform="translate(1595.7,893.1) scale(0.92,1)" font-family="'Liberation Sans', sans-serif" font-size="24" font-weight="bold" text-anchor="middle" fill="#262626"><tspan font-family="'Liberation Serif', serif" font-style="italic" font-weight="normal" font-size="25" stroke="#262626" stroke-width="0.5" letter-spacing="1.2">π</tspan>/2</text>
<text transform="translate(1700.5,893.1) scale(0.92,1)" font-family="'Liberation Sans', sans-serif" font-size="24" font-weight="bold" text-anchor="middle" fill="#262626"><tspan font-family="'Liberation Serif', serif" font-style="italic" font-weight="normal" font-size="25" stroke="#262626" stroke-width="0.5" letter-spacing="1.2">π</tspan></text>
<circle cx="1421.03" cy="860.4" r="2.9" fill="#000"/>
<circle cx="1560.77" cy="860.4" r="2.9" fill="#000"/>
<rect x="1333.8" y="522.1" width="66.5" height="56.5" fill="#fff" stroke="#1c1c1c" stroke-width="2.3"/>
<path d="M1338.1,537.3H1381.3" stroke="#f2474a" stroke-width="1.8"/>
<circle cx="1359.7" cy="564" r="4.3" fill="none" stroke="#4a64c2" stroke-width="1.15"/>
<path d="M1391.3,549.1V531.4M1386.5,536.6q3.6,-1.6 4.8,-5.4q1.2,3.8 4.8,5.4M1391.3,558.1V575.7M1386.5,570.5q3.6,1.6 4.8,5.4q1.2,-3.8 4.8,-5.4" stroke="#000" stroke-width="1.45" fill="none" stroke-linejoin="round"/>
<text y="597.6" font-family="'Liberation Serif', serif" font-size="21" fill="#000" stroke="#000" stroke-width="0.35"><tspan x="1434" font-style="italic" font-size="20">V</tspan><tspan x="1443.3" font-style="italic" dy="4.5" font-size="14.5">g</tspan><tspan x="1456.5" dy="-4.5">=</tspan><tspan x="1475.6">−</tspan><tspan x="1489" textLength="56.5" lengthAdjust="spacing">0.0005</tspan></text>
<text y="670.6" font-family="'Liberation Serif', serif" font-size="21" fill="#000" stroke="#000" stroke-width="0.35"><tspan x="1459.6">−</tspan><tspan x="1474.5" textLength="46.5" lengthAdjust="spacing">0.001</tspan></text>
<text y="857.4" font-family="'Liberation Serif', serif" font-size="20.5" fill="#000" stroke="#000" stroke-width="0.35"><tspan x="1466.3" textLength="46.5" lengthAdjust="spacing">0.001</tspan></text>
<text y="848.8" font-size="26" fill="#000" font-family="'Liberation Serif', serif" font-style="italic" stroke="#000" stroke-width="0.35"><tspan x="1367.4" font-style="normal">−</tspan><tspan x="1384.6">k</tspan><tspan x="1398.8" dy="5.3" font-size="17" font-style="normal">0</tspan></text>
<text y="848.8" font-size="26" fill="#000" font-family="'Liberation Serif', serif" font-style="italic" stroke="#000" stroke-width="0.35"><tspan x="1570.9">k</tspan><tspan x="1584.8" dy="5.3" font-size="17" font-style="normal">0</tspan></text>
<text x="1483.5" y="928.5" font-family="'Liberation Serif', serif" font-size="34" font-style="italic" fill="#000" stroke="#000" stroke-width="0.5">k</text>
<g transform="translate(1247,670) rotate(-90)"><text x="0" y="0" font-family="'Liberation Serif', serif" font-size="40" font-style="italic" fill="#000" stroke="#000" stroke-width="0.5">E</text></g>
</svg>
</body></html>
